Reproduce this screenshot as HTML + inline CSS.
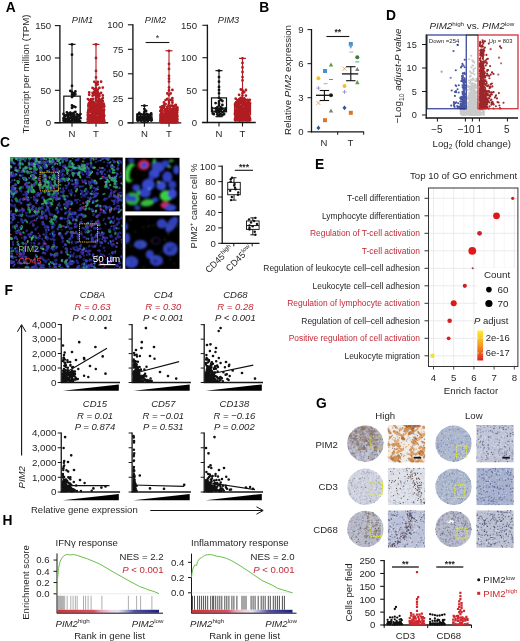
<!DOCTYPE html>
<html><head><meta charset="utf-8"><title>Figure</title>
<style>html,body{margin:0;padding:0;background:#fff;} svg{display:block;} text{font-family:"Liberation Sans", Arial, sans-serif;}</style>
</head><body>
<svg width="520" height="641" viewBox="0 0 520 641" fill="#231f20">
<rect width="520" height="641" fill="#fff"/>
<text x="5.80" y="12.30" font-size="13.8" font-weight="bold" fill="#000">A</text>
<line x1="59.90" y1="25.00" x2="59.90" y2="123.30" stroke="#161616" stroke-width="1.35"/>
<line x1="54.40" y1="122.70" x2="108.20" y2="122.70" stroke="#161616" stroke-width="1.35"/>
<line x1="54.90" y1="122.70" x2="59.90" y2="122.70" stroke="#161616" stroke-width="1.1"/>
<text x="51.20" y="126.10" font-size="9.6" text-anchor="end">0</text>
<line x1="54.90" y1="90.33" x2="59.90" y2="90.33" stroke="#161616" stroke-width="1.1"/>
<text x="51.20" y="93.73" font-size="9.6" text-anchor="end">50</text>
<line x1="54.90" y1="57.97" x2="59.90" y2="57.97" stroke="#161616" stroke-width="1.1"/>
<text x="51.20" y="61.37" font-size="9.6" text-anchor="end">100</text>
<line x1="54.90" y1="25.60" x2="59.90" y2="25.60" stroke="#161616" stroke-width="1.1"/>
<text x="51.20" y="29.00" font-size="9.6" text-anchor="end">150</text>
<text x="82.50" y="23.30" font-size="9.2" font-style="italic" text-anchor="middle">PIM1</text>
<line x1="72.00" y1="122.70" x2="72.00" y2="126.70" stroke="#161616" stroke-width="1.1"/>
<line x1="96.00" y1="122.70" x2="96.00" y2="126.70" stroke="#161616" stroke-width="1.1"/>
<text x="72.00" y="137.20" font-size="9.6" text-anchor="middle">N</text>
<text x="96.00" y="137.20" font-size="9.6" text-anchor="middle">T</text>
<line x1="72.00" y1="44.37" x2="72.00" y2="122.05" stroke="#111" stroke-width="1.1"/>
<line x1="68.50" y1="44.37" x2="75.50" y2="44.37" stroke="#111" stroke-width="1.2"/>
<line x1="68.50" y1="122.05" x2="75.50" y2="122.05" stroke="#111" stroke-width="1.2"/>
<rect x="63.80" y="96.16" width="16.40" height="22.01" fill="#fff" stroke="#111" stroke-width="1.2"/>
<line x1="63.80" y1="114.93" x2="80.20" y2="114.93" stroke="#111" stroke-width="1.1"/>
<path d="M72 121.7h0M75.4 121.6h0M68.6 121.5h0M78.8 121.5h0M65.2 121.4h0M76.1 121.4h0M80.1 121.3h0M71.9 121.2h0M70 120.9h0M71.6 120.9h0M75.1 120.9h0M76.5 120.7h0M66.9 120.6h0M63.5 120.6h0M74 120.3h0M74.4 120.1h0M64.8 119.9h0M66 119.7h0M68.6 119.3h0M78.8 119.2h0M67.8 119.1h0M76.1 119.1h0M72 119h0M68.7 118.9h0M63.5 118.5h0M73.2 118.4h0M80.5 118.2h0M63.7 118h0M64.5 117.9h0M70.3 117.9h0M68.1 117.8h0M74.9 117.7h0M77.1 117.1h0M75.3 117h0M72 116.8h0M75 116.7h0M68.4 116.5h0M72.3 116.4h0M71.4 116.4h0M71.4 116.4h0M78.8 116h0M65.2 115.8h0M65.5 115.7h0M78.7 115.4h0M66.9 115.3h0M73.7 115h0M70.3 114.7h0M77.1 114.3h0M80.5 114.1h0M63.5 114h0M72 113.7h0M68.6 113.6h0M73.7 112.9h0M70.3 112.6h0M66.9 112.5h0M75.4 112h0M72 107.9h0M75.4 107.1h0M73.7 106.3h0M72 105.4h0M72 97h0M73.7 95.6h0M72 94.4h0M75.4 94.3h0M73.7 93.3h0M72 91.9h0M75.4 91.5h0M70.3 90.9h0M72 85.8h0M72 54.7h0M72 44.4h0" stroke="#111" stroke-width="2.8" stroke-linecap="round"/>
<line x1="96.00" y1="44.37" x2="96.00" y2="122.38" stroke="#b01c22" stroke-width="1.1"/>
<line x1="92.50" y1="44.37" x2="99.50" y2="44.37" stroke="#b01c22" stroke-width="1.2"/>
<line x1="92.50" y1="122.38" x2="99.50" y2="122.38" stroke="#b01c22" stroke-width="1.2"/>
<rect x="88.00" y="103.28" width="16.00" height="14.24" fill="#fff" stroke="#b01c22" stroke-width="1.2"/>
<line x1="88.00" y1="112.34" x2="104.00" y2="112.34" stroke="#b01c22" stroke-width="1.1"/>
<path d="M96 122.5h0M99.4 122.5h0M92.6 122.5h0M102.8 122.5h0M89.2 122.5h0M103.9 122.5h0M103.2 122.4h0M88 122.4h0M95.3 122.3h0M101.3 122.3h0M103.8 122.3h0M95.2 122.3h0M92.2 122.3h0M91.2 122.3h0M103.4 122.3h0M91.2 122.3h0M97.4 122.2h0M90.1 122.2h0M96.4 122.2h0M103.5 122.2h0M89.9 122.1h0M101.3 122.1h0M96.1 122.1h0M102.4 122h0M99.4 122h0M91.5 122h0M102.6 122h0M95.8 121.9h0M88.1 121.9h0M87.8 121.9h0M95.9 121.9h0M95.2 121.9h0M92.7 121.8h0M90 121.8h0M93.4 121.8h0M92.9 121.8h0M101.6 121.8h0M87.7 121.8h0M100.2 121.8h0M101.6 121.8h0M89.7 121.7h0M103.1 121.7h0M99.5 121.6h0M102.7 121.6h0M92.5 121.6h0M93.9 121.6h0M94.2 121.6h0M104.3 121.5h0M97.5 121.5h0M93.7 121.4h0M94.8 121.4h0M92.3 121.4h0M88.5 121.4h0M89.4 121.4h0M101.6 121.4h0M92.4 121.3h0M103.2 121.2h0M91.8 121.2h0M92.1 121.2h0M96.2 121.2h0M90.9 121.2h0M93.9 121.2h0M103.6 121.2h0M102.4 121.1h0M101.2 121.1h0M98.2 121.1h0M102.9 121.1h0M103.3 121h0M96.8 121h0M99.6 121h0M88.5 121h0M99.9 120.9h0M95.2 120.9h0M100.2 120.9h0M98.4 120.9h0M92.5 120.9h0M88.5 120.9h0M103.1 120.9h0M89.8 120.8h0M95.5 120.8h0M93.4 120.8h0M92.6 120.8h0M100 120.8h0M103.9 120.8h0M92 120.7h0M98.6 120.7h0M92.7 120.7h0M97 120.7h0M94.2 120.6h0M90.5 120.6h0M90.4 120.6h0M91.2 120.5h0M102.7 120.5h0M96 120.4h0M91.4 120.4h0M102.7 120.3h0M104.2 120.3h0M95.2 120.3h0M90 120.3h0M90.9 120.2h0M89.2 120.2h0M93.4 120.1h0M89.2 120.1h0M91.7 120.1h0M92 120h0M97.2 120h0M102.4 120h0M100.1 119.9h0M94.6 119.9h0M94.6 119.9h0M96.4 119.9h0M94 119.8h0M93.3 119.8h0M88.7 119.8h0M92.3 119.8h0M103.8 119.7h0M89.8 119.7h0M96.1 119.7h0M98.2 119.7h0M102 119.7h0M91.3 119.7h0M92.2 119.6h0M91.8 119.6h0M94.3 119.6h0M95.1 119.6h0M103.5 119.6h0M101.8 119.6h0M102.2 119.5h0M88.1 119.5h0M88.2 119.5h0M99.5 119.5h0M102.6 119.5h0M95.6 119.5h0M97.4 119.5h0M87.7 119.4h0M94.2 119.4h0M103.1 119.3h0M101.4 119.3h0M101.9 119.3h0M103.8 119.3h0M91.8 119.2h0M89.5 119.1h0M90.3 119.1h0M96.4 119h0M99 119h0M103.3 118.9h0M99.7 118.9h0M98.4 118.8h0M100.4 118.7h0M95.3 118.7h0M96.9 118.6h0M88.4 118.6h0M100.7 118.6h0M91.6 118.5h0M103 118.5h0M98.4 118.5h0M92.7 118.4h0M89.8 118.4h0M91.9 118.4h0M98.3 118.4h0M99.3 118.4h0M89.6 118.3h0M88.9 118.3h0M96.4 118.2h0M97.4 118.2h0M94.1 118.2h0M91.4 118.2h0M97.7 118.1h0M87.9 118.1h0M92.7 118.1h0M95.3 118.1h0M103.6 118h0M98.4 117.8h0M102.4 117.8h0M95.6 117.7h0M91.6 117.7h0M91.8 117.7h0M103.6 117.7h0M99.4 117.6h0M92.8 117.6h0M88.1 117.6h0M96 117.6h0M98.9 117.5h0M94.7 117.5h0M92 117.3h0M98.8 117.2h0M103.1 117.2h0M91.5 117.2h0M88.3 117.2h0M93.3 117.1h0M94.7 117h0M99 117h0M91 117h0M100.9 116.9h0M100 116.9h0M96.1 116.8h0M91.1 116.8h0M103.8 116.8h0M92.9 116.7h0M101.3 116.7h0M91.5 116.7h0M91.4 116.6h0M100.3 116.6h0M92.6 116.5h0M103.5 116.5h0M95.9 116.4h0M90.8 116.3h0M91.4 116.3h0M94.6 116.3h0M98.7 116.3h0M103.4 116.2h0M90.1 116.2h0M94.2 116.2h0M91.2 116.1h0M103.9 116.1h0M90.1 116h0M88.6 116h0M88.7 115.9h0M94.2 115.8h0M102.6 115.7h0M102.4 115.7h0M99.9 115.7h0M104.3 115.7h0M103.2 115.7h0M93.2 115.7h0M90.8 115.6h0M103.2 115.6h0M100.1 115.5h0M88.2 115.5h0M98.7 115.5h0M94 115.5h0M93.9 115.4h0M93.2 115.4h0M90.5 115.3h0M87.7 115.3h0M92.3 115.2h0M93.5 115.2h0M103.6 115.2h0M89.8 115.2h0M103.7 115.2h0M91.1 115.1h0M93.6 115.1h0M101.3 115.1h0M101.3 115.1h0M94.9 114.9h0M88.5 114.8h0M95.6 114.8h0M93.9 114.8h0M103 114.7h0M90.9 114.7h0M93.7 114.7h0M102.6 114.6h0M88.2 114.6h0M94.5 114.6h0M101.2 114.5h0M100.4 114.5h0M88.4 114.5h0M88.3 114.4h0M88.7 114.3h0M103 114h0M92 114h0M100.1 114h0M102.6 113.9h0M97.7 113.9h0M93.3 113.3h0M92.2 113.3h0M103.6 113.2h0M97.9 113h0M92.1 113h0M99.6 113h0M96 112.9h0M93 112.9h0M92.3 112.7h0M87.8 112.7h0M100.2 112.7h0M102.9 112.5h0M98.2 112.4h0M103.4 112.3h0M88.1 112.2h0M91.6 112.1h0M95.6 112.1h0M103.6 112.1h0M103.5 112h0M94.1 112h0M91.9 111.9h0M94.8 111.8h0M95.9 111.8h0M103.1 111.7h0M90.7 111.6h0M101 111.4h0M100 111.4h0M101.4 111.2h0M100.5 111.2h0M97.8 111.1h0M93.1 111.1h0M93 111h0M93.7 111h0M100.7 110.9h0M89 110.8h0M91 110.8h0M100.2 110.8h0M91.8 110.6h0M88.8 110.3h0M88.3 110.3h0M96.9 110.1h0M93.1 110h0M104 110h0M102.4 110h0M104.1 109.8h0M92.1 109.7h0M89.1 109.7h0M89.3 109.5h0M96 109.4h0M99.5 109.4h0M95.1 109.1h0M91.6 109h0M94.6 109h0M98 108.7h0M98.9 108.6h0M101.1 108.3h0M100.1 108.2h0M101.8 108.1h0M98.7 107.8h0M89.7 107.8h0M101.7 107.8h0M92.6 107.7h0M97.1 107.6h0M93.9 107.6h0M100 107.4h0M91 107.4h0M91.8 107h0M91.8 107h0M90.2 106.9h0M102.4 106.9h0M97.3 106.8h0M93.1 106.8h0M94.3 106.6h0M104.2 106.6h0M96.1 106.6h0M91.5 106.3h0M101.1 106.3h0M98.5 105.9h0M104.1 105.9h0M89.4 105.9h0M95.6 105.9h0M101.3 105.8h0M101.7 105.5h0M102.9 105.5h0M88.4 105.5h0M92.6 105.4h0M89.7 105.2h0M90.8 105.2h0M103.9 105h0M97.4 105h0M103.1 105h0M93.9 105h0M102.1 104.7h0M95.2 104.7h0M92 104.6h0M99.4 104.2h0M100.6 103.9h0M103.4 103.7h0M89.2 103.2h0M89.5 103.2h0M97.7 103.1h0M94.3 102.7h0M97.6 102.6h0M98 102.6h0M91.3 102.4h0M93.8 102.4h0M90 102.2h0M101.1 102h0M91.1 101.7h0M91.9 101.6h0M97.7 101.6h0M102.8 100.9h0M99.4 100.8h0M96 100.4h0M89.2 100.2h0M98.5 100.1h0M92.6 99.7h0M101.1 99.7h0M91.1 99.1h0M87.9 99.1h0M93.1 99h0M99 98.9h0M96 98.3h0M102.8 98.1h0M97.7 97.1h0M96 96.2h0M99.4 96h0M92.6 95.7h0M102.8 95.5h0M97.7 94.9h0M89.2 94.8h0M94.3 94.6h0M99.4 94h0M96 93.2h0M92.6 92.9h0M101.1 92.8h0M89.2 92.4h0M97.7 92.1h0M94.3 91.8h0M96 90.8h0M97.7 89.8h0M94.3 89.2h0M96 88.2h0M99.4 87.9h0M92.6 87.9h0M102.8 87.6h0M96 85.2h0M97.7 84.4h0M96 83.3h0M97.7 81.9h0M94.3 81.8h0M101.1 81.7h0M96 77.4h0M96 70.9h0M96 58h0M96 44.4h0" stroke="#b01c22" stroke-width="2.8" stroke-linecap="round"/>
<line x1="132.90" y1="24.20" x2="132.90" y2="123.40" stroke="#161616" stroke-width="1.35"/>
<line x1="127.40" y1="122.80" x2="181.30" y2="122.80" stroke="#161616" stroke-width="1.35"/>
<line x1="127.90" y1="122.80" x2="132.90" y2="122.80" stroke="#161616" stroke-width="1.1"/>
<text x="123.30" y="126.20" font-size="9.6" text-anchor="end">0</text>
<line x1="127.90" y1="98.30" x2="132.90" y2="98.30" stroke="#161616" stroke-width="1.1"/>
<text x="123.30" y="101.70" font-size="9.6" text-anchor="end">25</text>
<line x1="127.90" y1="73.80" x2="132.90" y2="73.80" stroke="#161616" stroke-width="1.1"/>
<text x="123.30" y="77.20" font-size="9.6" text-anchor="end">50</text>
<line x1="127.90" y1="49.30" x2="132.90" y2="49.30" stroke="#161616" stroke-width="1.1"/>
<text x="123.30" y="52.70" font-size="9.6" text-anchor="end">75</text>
<line x1="127.90" y1="24.80" x2="132.90" y2="24.80" stroke="#161616" stroke-width="1.1"/>
<text x="123.30" y="28.20" font-size="9.6" text-anchor="end">100</text>
<text x="155.50" y="23.30" font-size="9.2" font-style="italic" text-anchor="middle">PIM2</text>
<line x1="144.40" y1="122.80" x2="144.40" y2="126.80" stroke="#161616" stroke-width="1.1"/>
<line x1="169.00" y1="122.80" x2="169.00" y2="126.80" stroke="#161616" stroke-width="1.1"/>
<text x="144.40" y="137.20" font-size="9.6" text-anchor="middle">N</text>
<text x="169.00" y="137.20" font-size="9.6" text-anchor="middle">T</text>
<line x1="144.40" y1="105.65" x2="144.40" y2="122.31" stroke="#111" stroke-width="1.1"/>
<line x1="140.90" y1="105.65" x2="147.90" y2="105.65" stroke="#111" stroke-width="1.2"/>
<line x1="140.90" y1="122.31" x2="147.90" y2="122.31" stroke="#111" stroke-width="1.2"/>
<rect x="136.90" y="114.57" width="15.00" height="5.49" fill="#fff" stroke="#111" stroke-width="1.2"/>
<line x1="136.90" y1="117.90" x2="151.90" y2="117.90" stroke="#111" stroke-width="1.1"/>
<path d="M144.4 121.3h0M147.8 121.2h0M141 120.8h0M151.2 120.6h0M137.6 120.6h0M151.3 120.5h0M138.4 120.5h0M146.1 120.2h0M142.7 120.1h0M151.7 120h0M148.8 119.9h0M147.9 119.8h0M143.4 119.7h0M139.8 119.7h0M146.5 119.1h0M138.5 119.1h0M140 118.9h0M142.7 118.9h0M137.4 118.9h0M142.9 118.5h0M148.8 118.5h0M147.3 118.4h0M144.4 118.2h0M151.2 118.1h0M146.4 118.1h0M143.8 118.1h0M139 118h0M146 117.7h0M143 117.5h0M148 117.4h0M141 117.2h0M150.5 117h0M143.4 117h0M145.5 117h0M148.1 116.9h0M137.6 116.5h0M143.2 116.3h0M140.3 116.3h0M147.7 115.9h0M150.1 115.6h0M148.5 115.1h0M147.4 115h0M149.7 114.9h0M144.4 114.6h0M141 114.4h0M137.6 114.3h0M147.1 114.2h0M146.5 114.1h0M143.7 113.9h0M151.2 113.5h0M139.3 113h0M144.4 112h0M146.1 111h0M144.4 109.1h0M144.4 105.7h0" stroke="#111" stroke-width="2.8" stroke-linecap="round"/>
<line x1="169.00" y1="50.77" x2="169.00" y2="122.51" stroke="#b01c22" stroke-width="1.1"/>
<line x1="165.50" y1="50.77" x2="172.50" y2="50.77" stroke="#b01c22" stroke-width="1.2"/>
<line x1="165.50" y1="122.51" x2="172.50" y2="122.51" stroke="#b01c22" stroke-width="1.2"/>
<rect x="161.00" y="111.04" width="16.00" height="8.82" fill="#fff" stroke="#b01c22" stroke-width="1.2"/>
<line x1="161.00" y1="115.94" x2="177.00" y2="115.94" stroke="#b01c22" stroke-width="1.1"/>
<path d="M169 122.5h0M172.4 122.5h0M165.6 122.5h0M175.8 122.5h0M162.2 122.5h0M165.7 122.4h0M171.2 122.4h0M162 122.4h0M167.6 122.4h0M173.9 122.4h0M172.7 122.4h0M171.3 122.4h0M164.7 122.3h0M167.7 122.3h0M168.2 122.3h0M171.1 122.3h0M167.4 122.3h0M172 122.3h0M176.5 122.3h0M163.5 122.3h0M171.7 122.3h0M173.8 122.3h0M167.1 122.3h0M168.8 122.2h0M177.3 122.2h0M161 122.2h0M169.8 122.2h0M163.1 122.2h0M173.9 122.2h0M176.7 122.1h0M169.3 122.1h0M162.1 122.1h0M170.3 122h0M169.7 122h0M172.8 122h0M169.2 122h0M171.4 121.9h0M174.7 121.9h0M169.4 121.9h0M167.4 121.9h0M176.8 121.9h0M164 121.9h0M172.2 121.9h0M167.1 121.9h0M173.6 121.8h0M162.4 121.8h0M177.4 121.8h0M166.5 121.8h0M161.3 121.8h0M165.1 121.8h0M167.3 121.8h0M160.5 121.8h0M167.6 121.7h0M167.6 121.7h0M172.4 121.7h0M166.4 121.7h0M164.9 121.7h0M164.2 121.7h0M173.2 121.6h0M176.7 121.6h0M169.5 121.6h0M164.1 121.6h0M174.2 121.6h0M167.1 121.6h0M164 121.6h0M162.5 121.5h0M173.8 121.5h0M174.4 121.5h0M171.3 121.5h0M168.5 121.5h0M170.1 121.5h0M164.2 121.5h0M177.1 121.4h0M166.4 121.4h0M171.4 121.4h0M174.5 121.4h0M174.5 121.4h0M168.4 121.4h0M165.4 121.3h0M169.8 121.3h0M162.5 121.3h0M174.8 121.3h0M166.5 121.3h0M175.1 121.3h0M165 121.2h0M166.8 121.2h0M164.7 121.2h0M167.7 121.2h0M163.5 121.2h0M160.3 121.2h0M172.9 121.2h0M165.2 121.1h0M164.6 121.1h0M165.6 121.1h0M168.6 121.1h0M167.8 121.1h0M171.4 121.1h0M171.8 121.1h0M166.6 121h0M176.5 121h0M175.2 121h0M161.3 121h0M174.7 121h0M176.1 120.9h0M173.9 120.9h0M162.7 120.9h0M174.8 120.9h0M171.3 120.9h0M160.6 120.9h0M160.5 120.9h0M176.9 120.8h0M171.7 120.8h0M164.7 120.8h0M162.1 120.8h0M162.8 120.8h0M164.4 120.7h0M173.8 120.7h0M166.3 120.7h0M163 120.7h0M176 120.7h0M174.1 120.7h0M163.2 120.7h0M175.8 120.7h0M170.9 120.6h0M173.9 120.6h0M171.9 120.5h0M175.9 120.5h0M174 120.4h0M174.9 120.4h0M163.7 120.4h0M172.4 120.3h0M169.5 120.3h0M173.2 120.3h0M167.9 120.2h0M175.7 120.2h0M170 120.2h0M164.9 120.2h0M164.4 120.2h0M162.7 120.2h0M168.9 120.2h0M161.3 120.2h0M168.4 120.1h0M162.8 120h0M168.8 120h0M169 120h0M169.7 120h0M175.3 120h0M160.4 120h0M174.9 119.9h0M168.4 119.9h0M170.1 119.9h0M171.9 119.9h0M174.9 119.9h0M166.8 119.9h0M167.6 119.8h0M177 119.7h0M161.6 119.7h0M171.4 119.7h0M171.4 119.6h0M160.8 119.6h0M170.9 119.6h0M172.2 119.5h0M176.5 119.5h0M166 119.5h0M177.4 119.5h0M169.2 119.4h0M168.7 119.4h0M175.9 119.3h0M160.9 119.3h0M172.8 119.2h0M171.2 119.2h0M166.2 119.2h0M175.3 119.1h0M166.7 119.1h0M168.6 119.1h0M169.4 119.1h0M173.7 119.1h0M164 119.1h0M167.9 119.1h0M167.6 119.1h0M169.9 119h0M174.7 119h0M165.4 118.9h0M174.7 118.9h0M167.3 118.9h0M169.1 118.8h0M165 118.8h0M169.1 118.7h0M177.3 118.7h0M171.7 118.6h0M174.1 118.6h0M166.1 118.5h0M165.8 118.5h0M165.5 118.5h0M170.5 118.5h0M171.3 118.5h0M173.9 118.4h0M161 118.4h0M172.9 118.4h0M175.7 118.4h0M169.8 118.4h0M161.2 118.3h0M165.5 118.3h0M160.4 118.3h0M163.6 118.3h0M176.3 118.2h0M170.9 118.2h0M171.7 118.2h0M174 118.1h0M176.1 118h0M170.9 118h0M171 118h0M171.2 117.8h0M172.4 117.8h0M170.7 117.8h0M172.1 117.7h0M164 117.6h0M171.9 117.6h0M168.3 117.5h0M173.6 117.4h0M162.1 117.4h0M163.5 117.4h0M160.9 117.4h0M173.8 117.4h0M176.2 117.3h0M171.7 117.3h0M166.7 117.3h0M174.6 117.1h0M174 117h0M170.1 116.9h0M164.8 116.8h0M165.6 116.8h0M167.6 116.8h0M165.8 116.8h0M167.8 116.8h0M171.5 116.7h0M176.5 116.7h0M161.3 116.7h0M170.2 116.6h0M161 116.6h0M162.4 116.6h0M174.4 116.6h0M170.3 116.6h0M176.3 116.6h0M168.1 116.6h0M160.5 116.5h0M167 116.5h0M170.6 116.5h0M176.6 116.5h0M177.4 116.4h0M168.6 116.4h0M167.5 116.4h0M162.1 116.3h0M171.5 116.2h0M164 116.1h0M162.9 116.1h0M160.6 116.1h0M160.4 115.8h0M172.2 115.6h0M162.4 115.6h0M177.1 115.5h0M161.8 115.5h0M175.4 115.5h0M162.5 115.5h0M160.6 115.4h0M172.8 115.4h0M164.5 115.3h0M173.1 115.2h0M163.6 115.1h0M161.2 115.1h0M173.8 114.9h0M172.7 114.9h0M175.2 114.8h0M173 114.8h0M161.8 114.7h0M171.2 114.7h0M172.6 114.7h0M169 114.5h0M168.3 114.5h0M176.5 114.5h0M164.7 114.5h0M177.1 114.5h0M172.8 114.4h0M160.5 114.4h0M160.6 114.3h0M171.6 114.2h0M174.5 114.2h0M161.7 114.2h0M165.7 114.2h0M173 114.1h0M163.2 114h0M175.3 114h0M168.8 113.8h0M161.3 113.8h0M166.7 113.7h0M170.3 113.6h0M167.9 113.6h0M172.1 113.5h0M162.8 113.5h0M174.2 113.5h0M166.6 113.4h0M171.5 113.4h0M171.3 113.4h0M167.6 113.4h0M167 113.4h0M174 113.1h0M176.7 113.1h0M174 112.7h0M170.2 112.6h0M165.4 112.6h0M161.4 112.6h0M177.2 112.5h0M172.5 112.4h0M174.7 112.4h0M166.1 112.4h0M170.8 112.3h0M177.3 112.3h0M174.8 112.1h0M170.8 112h0M165.7 111.8h0M167.8 111.7h0M175.8 111.6h0M166.9 111.6h0M172.2 111.6h0M170.8 111.5h0M175.9 111.5h0M174.4 111.4h0M165.2 111.3h0M160.3 111.1h0M164.9 111h0M167.7 110.9h0M162.2 110.6h0M170.5 110.5h0M174.5 110.4h0M177.5 110h0M175.7 110h0M161 109.9h0M174.8 109.8h0M174.4 109.8h0M172.4 109.6h0M175.4 109.6h0M170.3 109.5h0M165.1 109.5h0M175.1 109.2h0M174.3 109.2h0M172.2 109.2h0M176.2 109.1h0M167.3 108.9h0M166.3 108.8h0M161.8 108.7h0M169.9 108.5h0M174.2 108.3h0M163.8 108.1h0M173.4 107.9h0M177.5 107.7h0M160.5 107.2h0M167.3 107h0M176.5 106.8h0M170.7 106.3h0M162.2 106.3h0M164.4 106.2h0M174.1 105.9h0M170.9 105.7h0M172.1 105.6h0M168.4 105.5h0M163.9 105.5h0M175.8 104.8h0M165.6 104.1h0M169 103h0M172.4 102.8h0M163.9 102.5h0M169 100.8h0M172.4 100.7h0M165.6 100.1h0M170.7 99.8h0M167.3 99h0M172.4 98.2h0M169 95.1h0M170.7 93.4h0M167.3 93.4h0M169 90.5h0M172.4 89.9h0M169 87.5h0M169 81.6h0M169 78.7h0M169 75.8h0M169 68.9h0M169 64h0M169 50.8h0" stroke="#b01c22" stroke-width="2.8" stroke-linecap="round"/>
<line x1="145.60" y1="42.50" x2="169.30" y2="42.50" stroke="#161616" stroke-width="1.1"/>
<text x="157.40" y="40.60" font-size="9" text-anchor="middle">*</text>
<line x1="207.40" y1="24.70" x2="207.40" y2="123.10" stroke="#161616" stroke-width="1.35"/>
<line x1="201.90" y1="122.50" x2="255.80" y2="122.50" stroke="#161616" stroke-width="1.35"/>
<line x1="202.40" y1="122.50" x2="207.40" y2="122.50" stroke="#161616" stroke-width="1.1"/>
<text x="197.00" y="125.90" font-size="9.6" text-anchor="end">0</text>
<line x1="202.40" y1="90.10" x2="207.40" y2="90.10" stroke="#161616" stroke-width="1.1"/>
<text x="197.00" y="93.50" font-size="9.6" text-anchor="end">50</text>
<line x1="202.40" y1="57.70" x2="207.40" y2="57.70" stroke="#161616" stroke-width="1.1"/>
<text x="197.00" y="61.10" font-size="9.6" text-anchor="end">100</text>
<line x1="202.40" y1="25.30" x2="207.40" y2="25.30" stroke="#161616" stroke-width="1.1"/>
<text x="197.00" y="28.70" font-size="9.6" text-anchor="end">150</text>
<text x="228.50" y="23.30" font-size="9.2" font-style="italic" text-anchor="middle">PIM3</text>
<line x1="219.00" y1="122.50" x2="219.00" y2="126.50" stroke="#161616" stroke-width="1.1"/>
<line x1="242.50" y1="122.50" x2="242.50" y2="126.50" stroke="#161616" stroke-width="1.1"/>
<text x="219.00" y="137.20" font-size="9.6" text-anchor="middle">N</text>
<text x="242.50" y="137.20" font-size="9.6" text-anchor="middle">T</text>
<line x1="219.00" y1="70.66" x2="219.00" y2="116.67" stroke="#111" stroke-width="1.1"/>
<line x1="215.50" y1="70.66" x2="222.50" y2="70.66" stroke="#111" stroke-width="1.2"/>
<line x1="215.50" y1="116.67" x2="222.50" y2="116.67" stroke="#111" stroke-width="1.2"/>
<rect x="211.50" y="97.88" width="15.00" height="13.93" fill="#fff" stroke="#111" stroke-width="1.2"/>
<line x1="211.50" y1="108.24" x2="226.50" y2="108.24" stroke="#111" stroke-width="1.1"/>
<path d="M219 115.6h0M222.4 115.2h0M217.3 114.6h0M220.7 114.3h0M224.1 114.2h0M213.9 114.2h0M220.2 113.8h0M212.8 113.5h0M217.3 112.5h0M222.4 112.1h0M219 111.6h0M215.6 111.4h0M224.1 111h0M212.2 110.9h0M220.7 110.5h0M217.3 110.4h0M225.3 110.3h0M219 109.2h0M222.4 108.7h0M215.6 108.5h0M225.8 108.3h0M212.2 108.2h0M220.7 107.4h0M217.3 107.3h0M219 105.4h0M222.4 105h0M219 103.4h0M215.6 103.1h0M219 101.3h0M222.4 101h0M220.7 99.7h0M219 97.9h0M219 93.3h0M219 90.1h0M219 86.9h0M219 81.7h0M219 77.1h0M219 70.7h0" stroke="#111" stroke-width="2.8" stroke-linecap="round"/>
<line x1="242.50" y1="58.35" x2="242.50" y2="120.56" stroke="#b01c22" stroke-width="1.1"/>
<line x1="239.00" y1="58.35" x2="246.00" y2="58.35" stroke="#b01c22" stroke-width="1.2"/>
<line x1="239.00" y1="120.56" x2="246.00" y2="120.56" stroke="#b01c22" stroke-width="1.2"/>
<rect x="234.50" y="103.06" width="16.00" height="11.66" fill="#fff" stroke="#b01c22" stroke-width="1.2"/>
<line x1="234.50" y1="110.84" x2="250.50" y2="110.84" stroke="#b01c22" stroke-width="1.1"/>
<path d="M242.5 120.5h0M245.9 120.5h0M239.1 120.5h0M249.3 120.5h0M235.7 120.5h0M239.8 120.5h0M247.7 120.5h0M247.6 120.4h0M249.5 120.4h0M238 120.4h0M241.4 120.4h0M248.7 120.4h0M235.1 120.3h0M235.6 120.3h0M243.5 120.3h0M242.5 120.3h0M248.9 120.3h0M246.7 120.3h0M243.1 120.2h0M250.1 120.2h0M242.8 120.2h0M242.8 120.2h0M245.3 120.2h0M240.8 120.2h0M240.3 120.2h0M243.9 120.2h0M240.2 120.1h0M249.3 120.1h0M245.2 120.1h0M242.9 120.1h0M236.4 120.1h0M240.6 120.1h0M241 120h0M243.4 120h0M243.6 120h0M248.3 120h0M249.6 119.9h0M242.3 119.9h0M241.6 119.9h0M244.4 119.9h0M250 119.9h0M240.1 119.8h0M243 119.8h0M247.3 119.8h0M237.5 119.7h0M239.7 119.7h0M249.8 119.7h0M247.5 119.7h0M242.7 119.7h0M236.6 119.7h0M248.5 119.7h0M245.4 119.7h0M247.4 119.6h0M250 119.6h0M248.4 119.6h0M241.3 119.6h0M237.3 119.6h0M239.3 119.6h0M242.7 119.6h0M242.6 119.6h0M237.8 119.5h0M237.7 119.5h0M244.5 119.5h0M244.1 119.5h0M240.3 119.5h0M250 119.5h0M244.6 119.5h0M235.5 119.4h0M241.2 119.4h0M246.9 119.4h0M239.6 119.4h0M245.4 119.4h0M235 119.4h0M239.5 119.3h0M247.7 119.3h0M243.8 119.3h0M245.1 119.2h0M237.9 119.2h0M242.5 119.2h0M243.3 119.1h0M238.9 119.1h0M244.7 119.1h0M243 119.1h0M250.1 119.1h0M243.6 119.1h0M241.1 119.1h0M236.7 119.1h0M237.3 119h0M246.4 119h0M236.5 118.9h0M236.4 118.9h0M237.5 118.9h0M242.8 118.9h0M247.4 118.9h0M244.2 118.9h0M247.2 118.8h0M235.8 118.8h0M235.1 118.8h0M246.6 118.8h0M239.8 118.7h0M245.8 118.7h0M240.3 118.7h0M237.5 118.7h0M239 118.7h0M236.4 118.6h0M248.6 118.6h0M243.8 118.6h0M240.2 118.6h0M241.7 118.6h0M240.8 118.6h0M235.7 118.5h0M248.4 118.5h0M243.8 118.5h0M249.5 118.5h0M241.6 118.5h0M244.3 118.5h0M238.7 118.4h0M235.6 118.4h0M249 118.4h0M247.9 118.4h0M239.7 118.4h0M248.6 118.3h0M247.3 118.3h0M239.5 118.3h0M244.1 118.3h0M249.5 118.3h0M242.4 118.3h0M249.3 118.2h0M238.6 118.2h0M240.8 118.1h0M245.8 118.1h0M238.3 118h0M239.6 118h0M248.2 118h0M242.3 117.9h0M246.9 117.9h0M238.6 117.9h0M237.5 117.9h0M240.3 117.9h0M237.7 117.9h0M249.7 117.9h0M239.3 117.7h0M243.4 117.7h0M236.6 117.7h0M243 117.6h0M240.8 117.6h0M241 117.6h0M235.9 117.6h0M236.8 117.5h0M247.5 117.4h0M240.2 117.4h0M238.6 117.4h0M237.8 117.4h0M239.2 117.4h0M238.5 117.3h0M235.4 117.3h0M245 117.3h0M240.1 117.3h0M237.3 117.2h0M245.6 117.2h0M236.3 117.2h0M239 117.1h0M247.6 117h0M236.8 117h0M241.6 117h0M247.6 117h0M247.1 116.9h0M237.3 116.9h0M240.3 116.9h0M245.9 116.8h0M240.6 116.8h0M249.5 116.8h0M238.1 116.8h0M249.4 116.7h0M242.6 116.7h0M238.4 116.7h0M241.8 116.7h0M236.9 116.7h0M245.6 116.6h0M238.9 116.6h0M248.6 116.6h0M243.8 116.5h0M240.5 116.5h0M238.6 116.4h0M244.1 116.4h0M238.1 116.4h0M248.2 116.3h0M236.8 116.3h0M242.7 116.2h0M243.1 116.2h0M239 116.2h0M246.6 116.2h0M240.7 116.1h0M244.9 116.1h0M243.5 116.1h0M239.6 116.1h0M240.8 116.1h0M236.2 116.1h0M237.6 116h0M247.8 115.9h0M239.8 115.9h0M245 115.9h0M236.6 115.9h0M243.4 115.8h0M240.4 115.8h0M242.5 115.8h0M239.4 115.8h0M235.9 115.8h0M239.6 115.8h0M238.3 115.7h0M236.8 115.7h0M245.8 115.7h0M239.2 115.7h0M241 115.6h0M248.7 115.6h0M246.7 115.5h0M248.3 115.4h0M248 115.4h0M236.9 115.3h0M239.1 115.3h0M235.3 115.3h0M245.2 115.3h0M245 115.2h0M240.2 115.1h0M241.2 115.1h0M244.9 115.1h0M245.5 115.1h0M238.7 115h0M247.8 115h0M240.3 115h0M244.5 114.9h0M237.7 114.8h0M236.7 114.8h0M248.8 114.8h0M246.1 114.7h0M245.7 114.7h0M235.5 114.7h0M235.5 114.6h0M237.4 114.6h0M237.9 114.5h0M239.5 114.5h0M240.7 114.5h0M235.5 114.4h0M239.6 114.4h0M244.6 114.3h0M237.6 114.3h0M247.7 114.1h0M243.6 114.1h0M245.8 114.1h0M238.8 114.1h0M241.5 113.9h0M245.3 113.9h0M240.2 113.8h0M234.9 113.8h0M247.6 113.7h0M246.7 113.4h0M239.3 113.4h0M235.6 113.3h0M247.9 113.2h0M244.1 113.2h0M235.6 113.2h0M238.6 112.8h0M236.6 112.7h0M246.9 112.6h0M238.1 112.6h0M248.8 112.5h0M246.3 112.5h0M236.2 112.5h0M245.5 112.5h0M240.9 112.5h0M246.3 112.4h0M247.5 112.4h0M239.2 112.4h0M236.3 112.3h0M249.3 112.2h0M241.3 112.2h0M249 112h0M245.4 111.9h0M246.1 111.9h0M247.5 111.9h0M244.4 111.7h0M241.8 111.7h0M235.7 111.5h0M245.5 111.4h0M241.4 111.4h0M242.7 111.3h0M249 111.2h0M236.8 111.1h0M246.5 111h0M235.6 111h0M245.6 110.8h0M247.1 110.8h0M238.9 110.8h0M243.2 110.6h0M249.6 110.6h0M244.6 110.6h0M243.2 110.5h0M238.7 110h0M235.8 109.9h0M240.3 109.8h0M241.2 109.8h0M238 109.7h0M239.6 109.6h0M237 109.6h0M245.6 109.5h0M245.1 109.5h0M238.5 109.4h0M238.6 109.3h0M242.7 109.2h0M241.7 109h0M247.6 109h0M249.1 108.8h0M240.2 108.7h0M239.5 108.7h0M248.3 108.7h0M237.1 108.6h0M243.5 108.6h0M240 108.4h0M247.3 108.3h0M243.2 108.3h0M246.5 107.8h0M237.5 107.7h0M245 107.6h0M244 107.6h0M241.9 107.5h0M246.5 107.5h0M247.5 107.4h0M236.6 107.3h0M239.3 107.3h0M240.4 107.3h0M238 107.3h0M235.8 107.2h0M239.2 107.2h0M237.9 107.2h0M249.3 106.6h0M245.6 106.6h0M241.7 106.3h0M236.6 105.9h0M239.8 105.9h0M247.6 105.5h0M242 105.4h0M240.4 105.3h0M244.2 105h0M237.5 104.9h0M236 104.8h0M235.1 104.7h0M249.3 104.6h0M245.9 103.8h0M239.1 103.8h0M242.5 103.5h0M250 103.4h0M247.6 102.9h0M237.4 102.9h0M244.2 102.6h0M240.8 102.6h0M246.3 102.4h0M236.2 102.2h0M242.5 101.6h0M239.1 101.5h0M249.3 101h0M244.2 100.6h0M240.8 100.3h0M237.4 100.3h0M247.6 100h0M245.8 99.8h0M249.8 99.8h0M242.5 99.2h0M239.1 99.1h0M235.7 98.7h0M244.2 98.4h0M240.8 97.9h0M242.5 95.6h0M245.9 95.6h0M239.1 94.8h0M242.5 93.2h0M244.2 92.2h0M242.5 90.4h0M245.9 90h0M240.8 89.5h0M242.5 80.4h0M242.5 77.1h0M242.5 72h0M242.5 67.4h0M242.5 62.9h0M242.5 58.3h0" stroke="#b01c22" stroke-width="2.8" stroke-linecap="round"/>
<text x="28.90" y="74.00" font-size="9.7" text-anchor="middle" transform="rotate(-90 28.90 74.00)">Transcript per million (TPM)</text>
<text x="259.20" y="12.30" font-size="13.8" font-weight="bold" fill="#000">B</text>
<line x1="311.50" y1="29.00" x2="311.50" y2="132.40" stroke="#161616" stroke-width="1.3"/>
<line x1="310.90" y1="131.80" x2="363.90" y2="131.80" stroke="#161616" stroke-width="1.3"/>
<line x1="307.50" y1="131.80" x2="311.50" y2="131.80" stroke="#161616" stroke-width="1"/>
<text x="303.60" y="135.20" font-size="9.6" text-anchor="end">0</text>
<line x1="307.50" y1="97.73" x2="311.50" y2="97.73" stroke="#161616" stroke-width="1"/>
<text x="303.60" y="101.13" font-size="9.6" text-anchor="end">3</text>
<line x1="307.50" y1="63.67" x2="311.50" y2="63.67" stroke="#161616" stroke-width="1"/>
<text x="303.60" y="67.07" font-size="9.6" text-anchor="end">6</text>
<line x1="307.50" y1="29.60" x2="311.50" y2="29.60" stroke="#161616" stroke-width="1"/>
<text x="303.60" y="33.00" font-size="9.6" text-anchor="end">9</text>
<line x1="337.70" y1="131.80" x2="337.70" y2="134.80" stroke="#161616" stroke-width="1"/>
<line x1="363.70" y1="131.80" x2="363.70" y2="134.80" stroke="#161616" stroke-width="1"/>
<text x="324.00" y="146.00" font-size="9.5" text-anchor="middle">N</text>
<text x="350.50" y="146.00" font-size="9.5" text-anchor="middle">T</text>
<text x="291.20" y="80.00" font-size="9.7" text-anchor="middle" transform="rotate(-90 291.20 80.00)">Relative <tspan font-style="italic">PIM2</tspan> expression</text>
<line x1="326.40" y1="36.50" x2="349.30" y2="36.50" stroke="#161616" stroke-width="1.1"/>
<text x="337.80" y="35.00" font-size="8.5" font-weight="bold" text-anchor="middle">**</text>
<polygon points="318.40,125.50 320.40,127.90 318.40,130.30 316.40,127.90" fill="#2f5597"/>
<rect x="323.00" y="118.20" width="4.00" height="4.00" fill="#d9742f"/>
<polygon points="331.00,108.40 333.20,112.60 328.80,112.60" fill="#7f7f7f"/>
<line x1="316.40" y1="101.00" x2="320.40" y2="105.00" stroke="#d6a56e" stroke-width="0.9"/>
<line x1="316.40" y1="105.00" x2="320.40" y2="101.00" stroke="#d6a56e" stroke-width="0.9"/>
<circle cx="331.00" cy="95.30" r="2.00" fill="#1f3a1a"/>
<line x1="316.40" y1="88.10" x2="320.40" y2="88.10" stroke="#8e8ed6" stroke-width="0.9"/>
<line x1="318.40" y1="86.10" x2="318.40" y2="90.10" stroke="#8e8ed6" stroke-width="0.9"/>
<line x1="323.60" y1="83.70" x2="327.60" y2="83.70" stroke="#b8a8a8" stroke-width="1.0"/>
<circle cx="318.40" cy="78.20" r="2.00" fill="#f2be2d"/>
<line x1="329.00" y1="79.50" x2="333.00" y2="79.50" stroke="#6f87b5" stroke-width="1.0"/>
<rect x="323.00" y="69.00" width="4.00" height="4.00" fill="#4b8fcb"/>
<polygon points="331.00,62.40 333.20,66.60 328.80,66.60" fill="#5f9b3f"/>
<polygon points="344.50,105.40 346.50,107.80 344.50,110.20 342.50,107.80" fill="#2f5597"/>
<rect x="348.80" y="110.80" width="4.00" height="4.00" fill="#d9742f"/>
<line x1="342.50" y1="91.90" x2="346.50" y2="91.90" stroke="#8e8ed6" stroke-width="0.9"/>
<line x1="344.50" y1="89.90" x2="344.50" y2="93.90" stroke="#8e8ed6" stroke-width="0.9"/>
<circle cx="344.50" cy="85.90" r="2.00" fill="#f2be2d"/>
<polygon points="357.30,80.10 359.50,84.30 355.10,84.30" fill="#5f9b3f"/>
<line x1="342.50" y1="66.70" x2="346.50" y2="70.70" stroke="#d6a56e" stroke-width="0.9"/>
<line x1="342.50" y1="70.70" x2="346.50" y2="66.70" stroke="#d6a56e" stroke-width="0.9"/>
<polygon points="357.30,66.90 359.50,71.10 355.10,71.10" fill="#7f7f7f"/>
<line x1="355.30" y1="61.90" x2="359.30" y2="61.90" stroke="#4f9fa0" stroke-width="1.0"/>
<circle cx="357.30" cy="57.20" r="2.00" fill="#3d7a3a"/>
<line x1="349.30" y1="52.10" x2="353.30" y2="52.10" stroke="#b8a8a8" stroke-width="1.0"/>
<rect x="348.80" y="42.00" width="4.00" height="4.00" fill="#4b8fcb"/>
<polygon points="348.60,44.70 353.00,44.70 350.80,48.90" fill="#5aa5dd"/>
<line x1="316.00" y1="95.30" x2="332.40" y2="95.30" stroke="#111" stroke-width="1.3"/>
<line x1="324.40" y1="90.50" x2="324.40" y2="100.50" stroke="#111" stroke-width="1.1"/>
<line x1="319.70" y1="90.50" x2="329.10" y2="90.50" stroke="#111" stroke-width="1.1"/>
<line x1="319.70" y1="100.50" x2="329.10" y2="100.50" stroke="#111" stroke-width="1.1"/>
<line x1="341.90" y1="73.90" x2="358.20" y2="73.90" stroke="#111" stroke-width="1.3"/>
<line x1="350.80" y1="66.70" x2="350.80" y2="80.70" stroke="#111" stroke-width="1.1"/>
<line x1="346.10" y1="66.70" x2="355.50" y2="66.70" stroke="#111" stroke-width="1.1"/>
<line x1="346.10" y1="80.70" x2="355.50" y2="80.70" stroke="#111" stroke-width="1.1"/>
<text x="386.00" y="19.60" font-size="13.8" font-weight="bold" fill="#000">D</text>
<path d="M476.3 80.9h0M472 114.9h0M476.5 110.1h0M472 113.1h0M472.1 73.2h0M469.3 109.1h0M471 106.2h0M474.3 102.2h0M473.7 109.5h0M470.9 108.9h0M471.9 114.1h0M475.8 104h0M473.8 104.1h0M473.9 89.8h0M468.3 98.5h0M464.7 112.3h0M471.6 111h0M470.7 108.6h0M474.1 95.1h0M473.5 112.7h0M472.8 112.3h0M473.5 96.3h0M471.6 109.5h0M467.7 113.4h0M473.1 104.4h0M473 110.9h0M470.9 114.1h0M473.9 110.7h0M462.4 111.4h0M466 112.3h0M483.3 113.4h0M462.1 114.9h0M473 96.6h0M463.2 112h0M469.1 106.9h0M471.5 108.8h0M470.6 108.4h0M482 113.9h0M474 113.2h0M471.6 108.7h0M470 114.2h0M474.9 95.3h0M470.8 108.1h0M469.9 76.6h0M471.2 55.7h0M472.9 113.6h0M473.2 106.6h0M470 101.9h0M471.2 105.8h0M472.4 113.2h0M472.3 114.5h0M473.9 109.3h0M473.8 79.6h0M461 113.6h0M472.4 108h0M470.5 112.8h0M471.3 113.1h0M472.9 111.4h0M472.6 100.6h0M466.6 85.7h0M471.7 94.7h0M471.5 113.9h0M483.7 110.7h0M476.1 91.5h0M472.1 93.8h0M483.8 111h0M474.7 110.8h0M482.8 111.6h0M469 110.7h0M471.8 103h0M473 105h0M469.2 111.7h0M469.7 93.7h0M475.3 99.3h0M476.2 114.2h0M475 100.9h0M464.7 114.4h0M472.3 102.3h0M476.7 114h0M470.8 114.5h0M474.4 112.2h0M475.1 68.3h0M472.6 105.6h0M469.9 115h0M473.1 101.4h0M469.9 104.3h0M470 112.4h0M476.2 111.4h0M475.2 105.6h0M476.9 114.4h0M471.5 105.2h0M469.4 101.2h0M475.6 107.2h0M480.4 108.9h0M469.1 111.1h0M473.5 113.8h0M474.3 107.4h0M473.1 109.2h0M472.4 60.4h0M473.3 113h0M470.2 109.4h0M471.4 103h0M471.3 92.2h0M471.8 109.1h0M473.6 110.7h0M476.5 114.7h0M471 90.3h0M472.3 111h0M460.6 109.8h0M471.7 106.1h0M470.7 98.6h0M473.1 106.5h0M473.6 110.2h0M483.3 113.7h0M474.5 114.9h0M475.1 106h0M484.3 112.2h0M478.5 114.4h0M482.6 111.6h0M469.5 95.1h0M474.5 95.3h0M473.1 65.7h0M475.5 110.4h0M471.9 113.4h0M470.7 109.5h0M473 73.3h0M470.1 113.9h0M480.2 113.6h0M469.7 107.5h0M469.4 92.7h0M469.6 108.8h0M473.6 95.6h0M470.6 110.2h0M475.4 114h0M474.3 108.9h0M480.2 110h0M472.3 97.4h0M471.9 110.2h0M478 111.9h0M478.4 113.3h0M471 109.2h0M470.9 113.9h0M473.2 87.6h0M474.9 95.7h0M481.9 113.6h0M474.2 112.3h0M470.2 92h0M472.1 111.1h0M472.5 65.2h0M472.5 111.2h0M463.4 109.1h0M472.4 95.3h0M461.8 114.5h0M465.7 110.9h0M473.7 106h0M474 104.7h0M475.2 92.9h0M471.4 113h0M476.3 111.5h0M470 102.3h0M472 108h0M471.9 113.5h0M464 114.2h0M482.2 109.9h0M472.9 114.3h0M469.3 93.6h0M469.1 109.1h0M467.7 112.5h0M478.2 111.6h0M473 103.9h0M472.8 110.8h0M473.9 104.7h0M471.3 104.7h0M474.1 111.8h0M471.5 84.4h0M466 112.4h0M465.5 113.4h0M463.9 114.4h0M477.9 114.5h0M476.1 111.3h0M476.6 110.7h0M474.3 114.4h0M472.3 109.2h0M473.3 113.7h0M475.8 81.1h0M474.6 111h0M469.1 109.5h0M474.3 99.7h0M471.2 100.5h0M473.4 107.8h0M472.2 100.1h0M474.6 107.2h0M470.3 114.6h0M475.2 114h0M470.4 108.9h0M466.8 110.7h0M466.4 113.4h0M475.1 111.1h0M473 108.6h0M477 114.9h0M477.3 109.1h0M473.4 114.9h0M473.9 111.1h0M475 110.1h0M472.4 106.6h0M474.5 102.8h0M469.6 111.4h0M477.7 107h0M468.6 96.2h0M471.8 84.1h0M476.3 110.3h0M466.2 109.3h0M473.1 84.5h0M468.8 113.2h0M471.3 83.7h0M477.3 99.4h0M476 113h0M476.9 113.7h0M471.9 108.8h0M474.5 113.8h0M461.4 114.7h0M475.4 101.4h0M472.9 102.7h0M463.8 110.2h0M472.1 79.8h0M477 111.3h0M467.4 107h0M469.4 101.9h0M469.1 109.1h0M469 114.5h0M467.4 113.2h0M476.4 114.5h0M475.6 110.2h0M470 114.9h0M476 111.9h0M470.7 105h0M466.4 85.3h0M470.4 101.1h0M474.3 113.6h0M473.9 113.2h0M472.8 92.7h0M474.9 109h0M465.1 113.7h0M469.9 111.9h0M470.7 110.4h0M468 102.5h0M482 114h0M468.5 111.8h0M470.1 111.9h0M473.7 115h0M472.9 86.1h0M483.6 110.8h0M470 101.2h0M468.3 113.3h0M472.4 105.1h0M474.6 103.7h0M482.9 111.5h0M475.9 113.9h0M469.6 112.8h0M480.7 114.4h0M474.4 106.6h0M477.8 79.3h0M464.2 114.9h0M472.5 107.4h0M470.2 71.5h0M470 112.6h0M475.2 102.9h0M471.4 111.5h0M466.1 114h0M473.7 111.2h0M473.2 96.3h0M466.4 111.7h0M471.9 96.6h0M473.7 110.6h0M472.5 98h0M473.7 107.9h0M473.5 113.1h0M473.1 110.7h0M470.5 86.4h0M468.9 112.2h0M475.4 112.7h0M472.7 111.6h0M471.6 111.1h0M473.2 100h0M470.6 111.1h0M472.3 95.2h0M474.5 108.6h0M472.2 108.9h0M465.1 110.4h0M474.1 100.2h0M468.2 106.2h0M469.2 114.3h0M471.5 106.1h0M475.6 104.8h0M483 110.5h0M472 114.2h0M480.9 114.3h0M466.1 112.8h0M475.2 93.8h0M470.5 81.6h0M472.6 101h0M473.7 111.1h0M472.6 109.9h0M476.1 114.7h0M466.8 110.2h0M474.1 90h0M474.9 105.9h0M470.7 100.8h0M472.2 105.2h0M461.7 109.4h0M470.2 111.3h0M473.9 113h0M469.2 99.8h0M460.9 111.7h0M470.8 106.9h0M472.9 111.8h0M475.5 113.9h0M474 83.9h0M473.8 94.2h0M480.3 114.8h0M475.4 111.4h0M472.4 113.6h0M477.8 112.9h0M475 108.6h0M472.8 92.4h0M472.4 106.3h0M471.6 99.2h0M468.4 104.7h0M468.8 113h0M483.9 112.7h0M475.9 109.4h0M470.9 96.7h0M473.3 100.2h0M469.7 110.4h0M477.1 111.9h0M476.4 109.6h0M472.5 101.1h0M476.1 111.9h0M472.6 95.2h0M464.4 111.9h0M471.9 101.6h0M467.3 112.7h0M467 110.3h0M466.5 112.8h0M475.4 110.7h0M474 92.2h0M467.6 97.7h0M472.2 112.8h0M476.3 85.4h0M475 111.9h0M468 111.2h0M472.3 79.9h0M471.9 104.2h0M474 109.1h0M463 110h0M474 104.9h0M468.8 97h0M474.1 109.9h0M471 105.1h0M466.1 114.8h0M482.9 112.5h0M473 109.4h0M469.1 114.3h0M473.4 89.4h0M472.6 103.6h0M474.4 114.3h0M472.9 104.9h0M482.5 112.2h0M469.9 102.1h0M465.9 109.1h0M472.9 92.3h0M470.1 109.9h0M477.9 109.8h0M472.2 114.5h0M467.5 108.6h0M471 107.5h0M469.1 112.1h0M472.7 109.2h0M471.8 109.9h0M467.7 114.6h0M470.1 101.1h0M473.5 114.9h0M473.3 97.9h0M470.9 103.8h0M482.6 111.1h0M472.9 111.9h0M471.4 113.4h0M473.3 98.4h0M470 71.6h0M470.3 107.4h0M473.4 114.5h0M472.3 102.8h0M467.3 109.9h0M474.2 111.3h0M473 105.1h0M470.4 93.2h0M472 109.9h0M469.5 106.2h0M469.2 109.8h0M469.2 113.2h0M471.1 105.8h0M462.2 110.5h0M469.1 112.7h0M468.3 110.3h0M478.3 80.7h0M474 112.8h0M471.9 98h0M468.8 103.5h0M471.7 110h0M471.1 101.7h0M473 78.2h0M463 114.9h0M472.7 100.7h0M464 110.1h0M470.1 89.7h0M474.1 107.8h0M472.9 84.2h0M470.3 114h0M473.9 93.6h0M470.4 109.7h0M474.5 99.1h0M460.8 109.2h0M470.6 111.4h0M471.5 114.3h0M470.9 114.3h0M471.1 106.6h0M478.8 115h0M472.6 85.8h0M472 113.2h0M474.6 109.4h0M472.9 106.5h0M472.8 107.3h0M470.2 106.6h0M471.5 87.9h0M474 105.9h0M471.9 114.6h0M472.3 108.9h0M470 95.4h0M471.4 107.5h0M483 111.8h0M473.1 113.1h0M472.4 104.4h0M471.4 106.2h0M471.4 106.8h0M469.2 110.6h0M481.6 109.4h0M471.9 114.3h0M472.2 110.6h0M483.7 111.7h0M469.7 104.3h0M480.1 111.3h0M469.8 111.9h0M468.7 110.2h0M474.2 109.1h0M472.3 101.4h0M476.3 109.9h0M472.4 107.6h0M468.2 103.1h0M483.9 112.1h0M463.3 113.5h0M472.9 109.3h0M465.2 110.3h0M470.9 112.4h0M474.4 105.3h0M460.7 113.8h0M476.9 112.3h0M468.9 95.8h0M471.2 105.4h0M471.8 100.3h0M474.8 113.4h0M482.7 112.9h0M471 110.7h0M476 113.7h0M473.8 113.5h0M472.9 113.8h0M472.8 110.2h0M472 108.5h0M481.1 113.7h0M474 101.2h0M476.8 110.8h0M474.4 104.5h0M470.3 113.6h0M474.6 74.5h0M461.2 110.8h0M469.1 102.5h0M465.6 113.4h0M464.4 109.9h0M468.7 110.9h0M478.3 111.1h0M473.5 95.3h0M474.8 98.9h0M473.6 113.4h0M468.1 112.4h0M471.6 113.9h0M474.4 114.8h0M469 98h0M470.7 76.3h0M461 112.7h0M473.4 112h0M475.3 111.2h0M462.6 113.7h0M474.8 108.2h0M473.8 108.1h0M481.2 109.1h0M477.1 102.9h0M473.8 110.5h0M470.2 109.5h0M477.8 114.4h0M470.1 110.9h0M477.6 114.8h0M471 92.6h0M473.1 94.1h0M480.7 109.7h0M471.9 93.5h0M474.5 89.9h0M476.6 102.6h0M474.5 113.7h0M477.1 92.4h0M475.5 105h0M468.9 105.9h0M470 109.5h0M476.2 111.6h0M472.8 99.7h0M475.7 112.8h0M469.1 114.1h0M473.5 110.1h0M472.2 111.6h0M475.4 102.7h0M471.7 91.1h0M474.2 105.7h0M470 110.7h0M460.5 111.3h0M472.4 105.3h0M472.7 101.1h0M468.5 85.8h0M473.9 90.5h0M475 84.2h0M466.2 114h0M471.3 97.9h0M471.8 88.6h0M468.4 114.8h0M474.4 103.2h0M470.1 114.9h0M478.1 111.7h0M470.5 111.9h0M479.4 111.7h0M475.1 91.3h0M465.8 114.6h0M465.9 111.3h0M473.5 113.2h0M465.7 114.8h0M473.4 101h0M470.8 92.2h0M467.9 112.4h0M471.8 114.2h0M483.5 114h0M472.4 94.6h0M472.4 98.4h0M470.3 112.3h0M470.7 109.2h0M478.3 110.4h0M463.2 109.3h0M469.6 83.1h0M483.6 114.1h0M471.6 105.6h0M469.9 114.4h0M472 96h0M470.2 101.3h0M475.2 97h0M473.3 110h0M474.2 113h0M466.6 112.2h0M469.2 59.3h0M474 114.9h0M471.8 111.7h0M474.2 108.2h0M472.5 112.5h0M472.9 98.1h0M463.3 114.6h0M471.6 103.9h0M470.7 105.7h0M471.8 108.6h0M471.3 109.7h0M472.7 110.5h0M472.6 113.8h0M476.3 105.8h0M475 109.4h0M471.4 102.9h0M470.1 109.9h0M473.2 106.3h0M471.8 96.3h0M476.7 113.5h0M473.2 114.4h0M470.5 80.6h0M476.2 93.6h0M472.4 83.1h0M473.1 79.5h0M475.8 112.1h0M476 110.7h0M471.6 89.9h0M472.3 112.9h0M471.5 95.2h0M473.3 89.2h0M474.3 62.6h0M471.6 96h0M476.5 113.3h0M470.4 112.9h0M476.1 78.8h0M482.4 113.4h0M469.2 97.4h0M478.7 109.9h0M471.4 67.4h0M475.7 92.5h0M472 110.2h0M473.1 109.3h0M475.4 112.1h0M471.4 111.5h0M471.7 112.3h0M473.4 102.7h0M472 113.6h0M472.6 100.1h0M472.8 102.8h0M476.5 110.8h0M471.8 112.5h0M470 98.8h0M473.5 102.4h0M480.9 112.8h0M476.6 113.1h0M468.2 112.5h0M467.7 106.7h0M475.8 111.1h0M479.6 109.5h0M476.7 101.6h0M466.1 112h0M472.8 113.8h0M470.3 97.7h0M473.2 97.6h0M462.2 115h0M473 109.7h0M471.3 73.2h0M462.3 114.7h0M477 113.4h0M471.4 103.4h0M476.2 109.4h0M470.6 111.1h0M472.3 109h0M478.3 108.9h0M470 109.7h0M473.2 93h0M472.3 108.7h0M471.9 113.9h0M471.1 113.5h0M466.4 110.1h0M466.4 114.6h0M474.4 114.1h0M469.3 94.9h0M470.8 113.7h0M471.1 105.2h0M473.3 112.1h0M474.1 112h0M473.8 113.1h0M470.2 112.4h0M469.1 86.7h0M471.7 111.7h0M474.1 114.7h0M466.5 113.2h0M472.6 99.6h0M474.1 110.7h0M469.7 106h0M473.4 108.3h0M468.3 110.2h0M475.3 114.9h0M471.7 108.3h0M472.7 95.4h0M471 108.3h0M474.3 115h0M470.4 103.4h0M470.1 98h0M471.4 114.3h0M471 108.9h0M473.1 97.2h0M470.8 109.6h0M472.6 113.2h0M469.9 112.1h0M474.4 114.7h0M469.5 102.6h0M474.6 105.4h0M474.6 106.1h0M474.2 112h0M476.2 107.6h0M470.9 106.9h0M470.9 107.9h0M468.2 104.1h0M471.6 104.3h0M473.7 61.5h0M478 112.8h0M464.9 110.1h0M469.4 111.4h0M462.3 114.3h0M470.6 113.8h0M471.4 73.1h0M474.1 110.3h0M475.8 109.2h0M471.4 114.9h0M470.4 75.7h0M472.8 90.2h0M472 90.6h0M470.8 108.4h0M466.4 112.5h0M473.4 98.7h0M471.1 110.6h0M470.3 110.1h0M472.6 94.2h0M474.5 109.1h0M476 87.9h0M477.5 109h0M474.1 107.8h0M474.1 96.6h0M471.5 94.6h0M471.6 111.2h0M471.5 100h0M474.4 109.4h0M471.6 92.3h0M461.3 114.2h0M474.6 105.5h0M471.1 79.6h0M477.4 98.3h0M463.5 113.6h0M471.3 112.2h0M472.3 114.6h0M474 105.1h0M473 113.6h0M474.3 112.7h0M473 112.7h0M475.6 99.8h0M472.6 114.3h0M478.6 114.1h0M471.2 111.5h0M474.8 111h0M471.6 97.4h0M472.5 101.4h0M473.6 105.7h0M470.4 95h0M473.7 110h0M475.4 112.8h0M476.7 109.8h0M475.4 114.5h0M471.4 110.7h0M475.3 113.7h0M463.6 109.1h0M469.7 94.9h0M482 114.5h0M476.6 114h0M470.2 93.6h0M472.7 114.3h0M476 114.1h0M469.3 93.5h0M470.8 113.2h0M464.8 109.2h0M473.3 109.3h0M470.7 114.3h0M472 107.1h0M470.2 109.1h0M474 96.5h0M470.9 110.7h0M472.2 113.8h0M474.4 109.3h0M469.6 88.8h0M477.9 110.1h0M471.2 104.4h0M461.1 112.1h0M467.3 109.5h0M472.1 105.9h0M473.3 84h0M473 114.8h0M469.4 105.3h0M477.2 113h0M470.2 95.7h0M472.2 107.9h0M470.5 111.8h0M478.7 113.6h0M477.8 113.3h0M469.3 110.9h0M475.5 103.8h0M472.8 100.7h0M469.3 109.5h0M472.3 100.9h0M473.3 112.3h0M478.9 109.6h0M481.2 114.7h0M474.1 113.5h0M473.8 89.2h0M481.6 114.7h0M476 111.5h0M472.7 111.3h0M464.6 110.7h0M471.3 103.7h0M472.9 113h0M477 112.6h0M472.9 111.4h0M473.5 89.9h0M474.3 114.3h0M474.3 112.8h0M475.8 114.5h0M464.8 114.9h0M473.4 114.5h0M469.4 111.4h0M462.3 109.5h0M470.2 114.2h0M470.2 88h0M475.5 103.5h0M476.2 113.9h0M473.6 86.4h0M472.5 114.7h0M473 100.5h0M477.5 99.4h0M473.3 106.9h0M471.7 87.6h0M483.5 111.1h0M469.4 112.1h0M471.4 94.8h0M470.9 112.4h0M480.8 110.1h0M480.3 113.8h0M471.1 110.6h0M460.9 109.8h0M472.3 112.6h0M474.2 106.6h0M469.6 110h0M473.5 107.9h0M470.2 108.9h0M467.7 114.8h0M471.4 109.8h0M476 100.7h0M471.4 113h0M470.9 94.8h0M471.7 112.6h0M478.3 110.4h0M472.9 103.8h0M471 112.5h0M470.6 114.7h0M477.3 99.9h0M471.2 95.8h0M475 113.3h0M467.6 111.1h0M471.4 98.7h0M472.2 85.7h0M467.6 87h0M475.5 98.6h0M471.8 92.2h0M473 108h0M472.8 109.1h0M463.8 113.5h0M472.3 99.8h0M474.1 113.9h0M470 112.3h0M475.8 100.7h0M468.8 80.5h0M473.5 111.8h0M473.6 70.9h0M473.7 107.8h0M472.3 114.5h0M460.6 113.6h0M460.8 113.4h0M476.8 96.1h0M469.2 109.7h0M466.5 99.5h0M474.3 104.5h0M478.1 103.2h0M466.8 106.4h0M473.1 111h0M471.2 107.6h0M471.6 89.8h0M462.7 114.3h0M475.9 108.3h0M470.1 114.1h0M467.9 114.6h0M476.9 109.1h0M468.5 96.9h0M483.3 110.2h0M470.2 109.6h0M475.1 109.6h0M472.8 110h0M474.8 87.6h0M470.9 93.9h0M467.4 107.8h0M473.9 110h0M475.6 86.3h0M475.2 81.2h0M473.4 69.3h0M473.9 89.3h0M474.6 102.5h0M474.7 110.1h0M472.9 113h0M471 90.7h0M469.5 113.3h0M472.8 61.4h0M476.2 109.7h0M468.9 114.4h0M484 114.9h0M469.9 94.4h0M469.7 108.7h0M474.5 114.1h0M474.9 111h0M471 102.8h0M474.3 113.2h0M476.9 99.4h0M474.1 105.6h0M480.7 110.1h0M476.2 110.2h0M471.6 95.6h0M462.8 112.3h0M463 110.2h0M467.8 90h0M481.7 109.4h0M474.1 92.5h0M478.2 114.9h0M475.5 111.6h0M474.1 86.1h0M473 89.8h0M474.8 110.8h0M462.2 113.6h0M472.1 109.1h0M466 112.1h0M483.4 113.8h0M461.7 114.1h0M473.2 110.1h0M468.2 112.5h0M468 109.5h0M468.4 104.4h0M468.4 102.9h0M465.4 110.9h0M472.1 106.5h0M474.7 95.1h0M483.5 109.7h0M462.5 113.4h0M477.5 104.9h0M471.9 93.2h0M474.5 98.4h0M471.9 107.2h0M473.9 107.7h0M464.4 114.4h0M460.7 112.1h0M474.1 112.8h0M470.6 104.7h0M482.7 110.3h0M476.2 111.4h0M472.9 112.2h0M470.1 114.4h0M474.5 112.3h0" stroke="#bdbdbd" stroke-width="2.1" stroke-linecap="round" stroke-opacity="0.8"/>
<path d="M464.5 107.2h0M465 82.2h0M463.3 85.8h0M464.7 104.2h0M464.4 94h0M462.2 79.6h0M464.4 102.7h0M462.7 98.6h0M463.3 80.2h0M464.2 101.7h0M456.3 102.4h0M463.8 107.2h0M458.8 85.2h0M463 104h0M464.7 96.1h0M458.2 103.3h0M463 106h0M462.9 81.5h0M464.8 97.2h0M461 67.4h0M461.9 96.7h0M463.4 88.6h0M462.7 94.3h0M463.3 98.3h0M464.9 81.1h0M464.2 107.1h0M463.5 91.5h0M463.5 65.5h0M463.6 95.9h0M464.3 93.3h0M465 97.8h0M463.8 106.8h0M463.3 82.7h0M463.8 107.2h0M464.8 87.2h0M465 97h0M464.3 106.3h0M461.3 98.2h0M463.1 105.4h0M464.8 102.1h0M457.6 89.3h0M463.5 103.9h0M463.9 103h0M463.2 96.2h0M462.9 106.3h0M456 91h0M464.6 101.6h0M461.8 101.2h0M454.6 106.9h0M465 108h0M464.2 91.3h0M465 98h0M462.8 101.8h0M462.3 103.5h0M462.4 102.5h0M463.3 81.9h0M464.8 107.5h0M464.7 79.3h0M461.4 108.2h0M464 83.7h0M464.6 101.1h0M463.3 86.1h0M464.7 73.9h0M462.6 107.8h0M463.4 105.2h0M461.3 104h0M463.9 106.5h0M454.9 95.9h0M464 82.7h0M462.5 92.7h0M464.9 74h0M464.4 101.7h0M463.1 73.5h0M462.7 101.2h0M464.7 59.7h0M464 104.4h0M464.2 90.4h0M463.3 108.6h0M464.8 102.9h0M462.5 108.1h0M462.8 73.7h0M462.5 91.7h0M464.2 101.3h0M465 106.3h0M464.2 100.4h0M464.3 106.2h0M463.9 107.2h0M460.7 105.4h0M456.2 86.1h0M463.9 96.4h0M463.6 107.7h0M462.4 106.9h0M462.3 98.6h0M463.5 107.4h0M464.9 100.9h0M463.6 86.5h0M464.8 108.6h0M463.3 102.8h0M464.6 106.7h0M462.5 104.7h0M464.2 100.6h0M461.8 107.4h0M464.6 96.1h0M464.4 99.5h0M460.4 101.5h0M463.3 106.2h0M462.8 73.2h0M465 85.5h0M464.7 105.1h0M464.6 94.1h0M455.8 70.2h0M464.7 67.2h0M460.9 99.1h0M464.1 102.1h0M451.7 90.5h0M464.9 103.5h0M462.2 107.8h0M463.9 100.7h0M464.3 105.8h0M455.3 103.1h0M462.4 63.9h0M464.9 105.6h0M462 78.2h0M462.5 85.3h0M465 94.3h0M464.4 99.6h0M464.8 103.6h0M461.8 98.7h0M464.9 94h0M463.3 96.2h0M464.4 72.7h0M462.6 87.3h0M463.6 95.2h0M465 88.1h0M462.9 102.5h0M460.7 97.4h0M463.2 94.7h0M464 82.2h0M463 76h0M463.4 83h0M464.4 89.6h0M464.7 105.7h0M460.6 104.4h0M454.9 92h0M463.7 104.8h0M464.6 100.6h0M464 105.5h0M464.5 106.2h0M460.2 107.2h0M461.3 81h0M461.7 66.2h0M464.7 99.4h0M463.9 91.2h0M464.6 103.6h0M461.8 106.2h0M461.2 104.1h0M463.3 86.1h0M464.5 78.4h0M462.8 104.6h0M462 106.7h0M464.8 105.5h0M464.2 105.3h0M463.9 85.7h0M463.4 103.5h0M463.1 106.7h0M463.8 106.5h0M457.2 106.1h0M451.2 105.6h0M464.9 93.8h0M464.6 90.4h0M463.9 80.9h0M463.3 94.4h0M462.5 105.8h0M464 105.3h0M464.5 105.9h0M464.3 101.6h0M463.3 106.8h0M463.6 107.6h0M464.4 82.5h0M464.9 102.4h0M463.2 103.1h0M464.6 107.4h0M464.7 103.2h0M464.9 88.2h0M464.7 106.2h0M464.5 103.7h0M461.1 106h0M460.2 98.1h0M453.8 104h0M462 97.1h0M464.8 79.7h0M459.6 106.7h0M464.4 92.8h0M464.5 95.6h0M464.1 102.4h0M464.1 93.9h0M463.7 94.8h0M462.9 99.5h0M464 99.9h0M464.3 103.4h0M464.4 103.1h0M460.7 104h0M463.4 88.9h0M461.6 107.9h0M458.7 92.5h0M463.2 91.7h0M454 105.7h0M464.5 84.6h0M455.6 85.2h0M464.7 106.2h0M457.5 108h0M464.1 101h0M464.2 106.7h0M464.5 102.9h0M458.8 106.7h0M463.9 106.4h0M464.3 79h0M463.2 104.1h0M464.4 90.8h0M458.6 107.2h0M464.3 102.8h0M464.6 103.8h0M464 106.9h0M462.9 77.2h0M463.3 88.3h0M464.2 101.1h0M463.9 98.7h0M464.7 97.3h0M464.9 88.5h0M463.6 108.4h0M463.2 99.5h0M460.6 104.1h0M456.1 92.2h0M462.4 97.3h0M462.5 102.3h0M461.9 108.5h0M464.2 106.8h0M462.5 102.6h0M464.6 84.7h0M459.5 107.1h0M464.1 106.6h0M454.2 105.1h0M464.1 91.3h0M462 106.8h0M462 76.1h0M464.1 106.8h0M464.8 98.5h0M453.8 102.1h0M460.2 101.6h0M462.6 105.1h0M462.5 99.8h0M460.4 108.6h0M463.5 95.8h0M464.6 87h0" stroke="#283890" stroke-width="2.1" stroke-linecap="round" stroke-opacity="0.85"/>
<path d="M480.4 90h0M481 96.2h0M480.3 106.7h0M482.1 106.2h0M480.2 53.9h0M495.6 96.3h0M484.4 90.8h0M487.8 100.2h0M481 62.8h0M482.6 105.2h0M479.8 104.6h0M482.4 75.8h0M485 98.6h0M481.7 104.9h0M481.9 77.4h0M483.1 69.5h0M485.5 98.1h0M481.4 107.2h0M489.5 86.6h0M483.9 61.2h0M482 53.9h0M480.9 103.3h0M481 88.6h0M482.5 90.4h0M482.7 66.6h0M480.7 68.8h0M487.1 73.5h0M488.8 43.6h0M480.9 103.5h0M480.9 105.5h0M481.5 105.5h0M480.9 81.6h0M481.1 61.9h0M480.9 105.3h0M481.2 106.7h0M480.6 86h0M487.7 98.8h0M480.6 101.8h0M481.9 90.7h0M482.2 102.9h0M482.4 81.7h0M480.9 66.3h0M485.8 102.9h0M482.2 101.8h0M480.7 69.5h0M482.4 90.4h0M481.7 80.6h0M483.2 88.2h0M483.3 107.6h0M481.4 105.4h0M489.2 98.3h0M480.3 85.8h0M482.1 94.3h0M490.1 66.1h0M500.3 108.4h0M480.9 104.1h0M480.8 75.2h0M485.5 99.2h0M480.8 87.2h0M480.2 89.4h0M482.8 76.6h0M483.7 103h0M480.7 100h0M479.8 108.6h0M481.2 104.1h0M481.3 88.2h0M483.4 104h0M482.9 49.8h0M480.3 105.5h0M482.6 99.8h0M480.5 85.2h0M480.5 92.7h0M481.7 92.7h0M485.9 85.1h0M486.8 94.3h0M485.3 103.3h0M480.5 100.7h0M482.8 68.8h0M480.5 87.2h0M481.1 105.9h0M480.9 87.1h0M480.1 108.6h0M482.7 95.1h0M479.9 100.7h0M483 95.4h0M480.8 86.8h0M483.1 92.2h0M483.9 79.8h0M484.4 104h0M485.9 107.3h0M480.2 94.7h0M484.4 96.9h0M480.5 78.9h0M480.3 105.4h0M482.6 51.4h0M483 70.8h0M486 98.7h0M482.7 93.3h0M480.2 50.4h0M482.2 100.4h0M479.9 70h0M481 100.5h0M482.2 100.8h0M491.9 83.5h0M481.4 72.1h0M481.3 103.5h0M480.9 102.2h0M488.1 70.1h0M482.6 105.2h0M480.3 99.5h0M482.6 99.7h0M482 90.6h0M480.2 108h0M484.8 95.7h0M483.1 106.9h0M481.2 90.3h0M480.8 82.2h0M480.1 96.5h0M482 92.8h0M487 91.4h0M482.4 94.3h0M490.7 84.4h0M485.1 76.4h0M483.7 92h0M481.3 93.4h0M485.2 108.5h0M480.6 108h0M480.8 76.2h0M483.4 67.4h0M492 72.4h0M481.3 46.8h0M480.9 85.5h0M487.9 58.7h0M480.4 92.6h0M481.1 67.2h0M481.1 49.5h0M479.8 71.2h0M484.9 75.9h0M487.1 70.9h0M480.3 103h0M480.2 66h0M482.6 101.5h0M481.1 82h0M481.2 102.1h0M480.6 100.3h0M483.3 95.2h0M480.5 95.3h0M491.4 99.6h0M483.7 103.9h0M481.3 70.9h0M482.9 61.9h0M490.3 94.9h0M481.6 70.2h0M482.8 104.9h0M480 107.3h0M480.2 103.4h0M481.2 76h0M482.7 105.7h0M482.5 70.4h0M484.1 103.2h0M481.1 87.2h0M482.6 103.7h0M482 90h0M479.9 44.8h0M483.7 106.2h0M482.3 91.6h0M484.1 83.2h0M480.5 102.2h0M481.6 105.5h0M483.7 105.8h0M483 102.3h0M483.8 49.3h0M481.2 97.2h0M480.5 104.3h0M483.5 104.7h0M480.4 100.4h0M480.9 102.5h0M483.7 70.8h0M490.7 74.6h0M491.9 94.5h0M485.9 92.5h0M481.5 106.1h0M482.4 102.2h0M483.7 55h0M483.2 76.8h0M483.8 84.1h0M480.8 104.1h0M482.6 102.6h0M487.3 102.6h0M484.3 105.3h0M488.5 108.6h0M480.3 101.9h0M482.2 106.2h0M481.5 104.4h0M491.2 94.3h0M483.5 99.8h0M480 99.3h0M482.8 107.8h0M482.8 70.3h0M482.2 82h0M481.9 107.7h0M483.2 100.9h0M486.9 63.6h0M480 94.4h0M481.9 67.1h0M497.5 102.1h0M499.9 108.1h0M486.3 98.4h0M481.5 97.5h0M480.7 82.4h0M489.5 106.4h0M480.7 100.6h0M482.7 91.3h0M480.4 99.7h0M481.8 79.9h0M482.1 106.3h0M485.4 98.8h0M487.3 86.3h0M481.5 91.9h0M481 91.8h0M482.6 83.7h0M490.5 87.5h0M482 105.1h0M481.3 97h0M480.9 102.3h0M479.8 107.1h0M480.6 104.9h0M483.9 106.7h0M491.4 104.7h0M482.7 80.7h0M483.9 86.6h0M488.3 90.7h0M480.1 96.3h0M483 106h0M479.9 97.4h0M483 98.6h0M481 97.6h0M484.7 101.6h0M500 46.4h0M480.3 78.7h0M485 101.1h0M479.8 106.2h0M483.4 101.2h0M494.9 97.6h0M479.8 96.7h0M480.4 55h0M484.7 106.3h0M483.1 106.8h0M479.9 92.8h0M484.9 87.4h0M483.5 107.3h0M479.9 83.9h0M492.6 103.8h0M482.7 102.4h0M480.4 96.1h0M481.7 108.3h0M480.4 80.8h0M482.7 100.7h0M480.7 75.3h0M495.9 106.2h0M485.2 80.7h0M481.5 100.7h0M481.9 93.5h0M482.7 102.3h0M483.7 81.6h0M480.3 85h0M480 107.1h0M480.4 108.3h0M481.1 105.9h0M480.7 60.2h0M497 98.4h0M483.2 107.9h0M498.6 102.5h0M480 100.6h0M480.6 86h0M480 93.3h0M483.2 101.3h0M481.9 85.5h0M487.6 91h0M482.9 53.3h0M481.2 108.3h0M483.3 75.1h0M480.9 79.7h0M480.6 88.6h0M480.6 105.9h0M480.6 96.3h0M484.9 47.6h0M480.7 103.6h0M485.3 89.1h0M481.6 106.4h0M480.7 79.1h0M481.4 101.8h0M486.7 101.7h0M484.9 102.8h0M480.6 50.3h0M482.6 70.4h0M483.1 98.9h0M482.5 100.5h0M482.7 107.6h0M481.8 99.8h0M492.5 103.5h0M480.2 89.2h0M481.3 88.8h0M483.9 74.5h0M485.2 103.9h0M485.7 101.9h0M481 50.4h0M486.5 82.1h0M481.4 64.2h0M479.9 76.6h0M486.8 59.3h0M482 89.1h0M488.6 98.2h0M481.6 101.6h0M482 107.8h0M479.8 104.3h0M480.3 41.9h0M480.9 69.4h0M481.3 85.3h0M484 86.9h0M482.4 105.6h0M483.3 100.4h0M481.8 94.3h0M482.4 99.8h0M482.6 40.3h0M480.2 71.7h0M483.3 97.6h0M480.4 94.7h0M481.7 89.2h0M483.7 104.8h0M484.8 73.5h0M482.9 96.1h0M481.2 90.2h0M480.6 42.8h0M481.1 99.2h0M482.9 103.3h0M483 106.1h0M482.2 91.7h0M480.1 106.7h0M481.2 105.8h0M487.2 107.9h0M480.9 108.3h0M485.2 108.1h0M486 90.7h0M480.3 107.1h0M483.3 89.5h0M480.5 108.1h0M483.3 81.2h0M483 61.5h0M481.4 102.6h0M481.5 75h0M481.7 76.4h0M480.9 95.2h0M480 88.2h0M484.9 62.5h0M480.3 85h0M482 103.8h0M482.6 99.3h0M490.1 86.7h0M484.1 76.8h0M483.3 102.9h0M480.8 105.2h0M484.9 105.7h0M481.7 105.1h0M484.1 97.5h0M483.3 63.9h0M481.4 105.6h0M482.2 100.1h0M487.2 95.5h0M480.1 98.4h0M479.9 64.1h0M481.5 66.1h0M482.2 78.2h0M480.5 58.1h0M481.5 108.6h0M481.1 82.2h0M482.7 108.6h0M482.4 45.3h0M480.1 66.8h0M483.5 97.1h0M481.4 102h0M480.6 93.2h0M482.4 90.6h0M488.1 85.3h0M485.6 60.5h0M481.7 91.1h0M485.6 84.3h0M480.4 89.8h0M480.9 107.9h0M481.7 96.7h0M487.3 104.2h0M483.3 62.9h0M482.4 96.7h0M480.3 55.2h0M479.9 70.6h0M480.9 95.8h0M482.5 101.1h0M481.9 101.7h0M480.8 69.5h0M479.8 63.4h0M481.1 87.6h0M481.1 81.1h0M482.7 85.8h0M483.6 103.7h0M503.5 102.8h0M481.1 84.4h0M480.6 69.2h0M483.4 100.3h0M499.4 105.5h0M484 98.8h0M480.5 94.3h0M479.9 64.2h0M483 69.8h0M481 61.7h0M482.4 93.9h0M480.3 86.7h0M483.4 106.6h0M480.1 60.5h0M481.3 86h0M483.6 66.6h0M485.7 80.2h0M480.4 99.1h0M484.8 104h0M483.5 83.1h0M481.2 67.4h0M482.7 104.4h0M486.6 100.2h0M486.5 107.3h0M479.9 83.9h0M485.2 84.6h0M492.9 92.3h0M482.9 46.7h0M485.6 95.4h0M489.2 91.3h0M482.5 93.5h0M480.8 99.8h0M481.6 91.7h0M481.5 97.4h0M481 108.2h0M480.8 76.7h0M492 102.1h0M481.7 99.6h0M484 86.6h0M480.8 102.6h0M482.5 46.6h0M480.6 98.7h0M480.8 100.4h0M493.6 92.1h0M483.2 102.6h0M479.9 105.1h0M480.2 107h0M480.5 70.9h0M480 106.9h0M480.2 105h0M482.2 86.1h0M480.4 87h0M483.3 92.3h0M480.5 98.5h0M481.5 101.6h0M485.5 93.3h0M486.5 94.2h0M479.8 64.7h0M484.9 73.3h0M482.9 102.4h0M482.3 77.6h0M480.8 107.1h0M482.7 56.4h0M501.2 48h0M482 78.4h0M486 99.9h0M482 96.1h0M483 58.9h0M493.7 104.6h0M482.3 86.1h0M480.6 107.2h0M480.3 95.1h0M480.2 104.5h0M489.5 88.1h0M485.6 108.4h0M483.4 98h0M480.9 105.6h0M480.1 101.7h0M481.2 95.3h0M482.3 102h0M481.7 96.9h0M484.1 108.2h0M480.4 91.4h0M483.1 107.6h0M483.2 67.1h0M481.1 103.7h0M483.5 96.7h0M482.2 106.2h0M489.4 92.3h0M485 97.6h0M482.1 97.9h0M481.7 107.7h0M480.2 73.3h0M480.7 89h0M479.9 81.4h0M481.2 82.6h0M483.5 91h0M480 42.4h0M481 106.6h0M481 100.5h0M480 103.8h0M482.6 104.2h0M484.9 99.5h0M482.8 54.4h0M482.3 104.7h0M480.7 94.8h0M479.9 99.4h0M483.6 97h0M481.1 95.9h0M483.4 107.9h0M485.5 108.5h0M482.6 92.8h0M480.7 83.4h0M481.4 82.2h0M482.2 107.9h0M482.8 101.6h0M481.8 95.2h0M482.2 101.1h0M486 107.5h0M484.6 108.4h0M480.5 55.8h0M490.5 100.3h0M483 90h0M479.8 106.5h0M481 102.7h0M480.6 100h0M480.4 99.5h0M483.1 103.8h0M480.9 88.3h0M479.9 96.7h0M480.9 86.3h0M480.6 80.4h0M482.6 64.6h0M485.9 97.2h0M486.5 98.3h0M488 100.9h0M480.8 98h0M482.3 100.3h0M483 73.2h0M481.9 101.5h0M481.8 89.2h0M480.3 106h0M483.8 105.9h0M484.3 101.1h0M487 106.8h0M482.4 77.7h0M485.4 102h0M480.1 106.5h0M484.6 95.2h0M481 52.4h0M479.9 98.8h0M483.4 80.8h0M480.2 46.2h0M480.5 106.4h0M480.3 108.6h0M480.6 100.8h0M487.3 70h0M482.5 68.6h0M480.8 93.3h0M482 78h0M480.8 50.9h0M489.4 102.4h0M481.9 55.7h0M480.8 96.4h0M486.4 54.9h0M480.8 100.3h0M479.9 94.9h0M480.5 105.1h0M480.4 95h0M481.1 73.2h0M486.2 100.3h0M491.3 92.4h0M482.3 97.6h0M483.3 95.5h0M487.7 93.3h0M481 82h0M484.8 72.4h0M483.7 50.5h0M479.9 94.5h0M481.3 74.8h0M479.8 97.3h0M480.3 88.4h0M482.9 57.8h0M484.3 50.7h0M483.3 103.7h0M482 90h0M480.3 91.4h0M482.2 108.6h0M481.7 63.7h0M484.9 95.3h0M480.1 106.8h0M485.2 77.5h0M489.2 76h0M481 102.6h0M481.3 97.1h0M482 78.7h0M480.7 77.3h0M479.9 66.8h0M492.4 86.4h0M485.8 95h0M479.9 73.6h0M484.1 62h0M485.8 65.5h0M482.6 102.4h0M482.5 95.2h0M482.1 95.6h0M496 95.3h0M481.9 88.4h0M480.3 87.6h0M481.6 80.1h0M480.7 85h0M481.7 99.8h0M481.4 102.3h0M486.3 98.9h0M482 79.7h0M481.2 103.6h0M483.2 73.6h0M480.2 64.5h0M482.6 74.1h0M484.2 68.4h0M480.1 64h0M483.9 95.4h0M481 101.7h0M480.1 43.6h0M480.2 75.6h0M480.9 103h0M483.9 99.1h0M481.9 79.8h0M480.8 95.1h0M484.5 81.4h0M481.3 81.9h0M481.5 79.1h0M480.2 107.4h0M480.9 92.8h0M482.6 98h0M489.1 95.8h0M479.9 82.4h0M482.8 108.1h0M481.6 106.7h0M481.2 54.7h0M483.3 99h0M481.3 73.3h0M483.6 52.9h0M493.3 103.3h0M487.3 102.2h0M481.4 96.8h0M480.6 100h0M482.7 42.1h0M486.7 94.1h0M483.9 82.2h0M483.1 102.6h0M482.2 90.4h0M485.1 104.8h0M484.3 99.4h0M482.4 66.9h0M485.5 92.2h0M482.9 99.9h0M480.8 88.6h0M482.5 80.8h0M480.8 90.4h0M483.1 81.8h0M483.9 99.2h0M489.4 78.3h0M483.8 83.8h0M487.4 102.4h0M481.2 95h0M488.1 75.3h0M484.3 94.3h0M481.7 105.9h0M483.5 76.6h0M483.7 80.5h0M490.2 96.4h0M487.1 103.9h0M484 103.6h0M481.9 74.8h0M480.4 71.1h0M485.5 96h0M480 100.1h0M479.8 65.9h0M483.5 97.7h0M479.9 46.1h0M486.6 62.4h0M480.1 82.5h0M482.5 105.8h0M480.4 104.2h0M483.9 83.6h0M480.4 79h0M480.5 74.5h0M481.1 105.9h0M480.4 81.5h0M481.1 102.1h0M481.9 104.5h0M483.3 43.4h0M480.3 67.8h0M480.2 102.3h0M480.3 101.1h0M484.9 107.1h0M481.8 96h0M487.8 94.3h0M480.5 92.5h0M482.4 100.3h0M481 104h0M493.5 73.9h0M480.1 88.7h0M485 106.9h0M486 106h0M484.4 101.8h0M482.5 100.5h0M484.4 41.4h0M498.9 93.1h0M483.7 90.8h0M480.8 95.1h0M480.7 105.8h0M480.4 90.8h0M483.7 89.9h0M480.2 99.4h0M481 69.7h0M483 55.2h0M482.5 100.5h0M481 71.1h0M483.4 93.3h0M493.5 108.5h0M481.7 108.4h0M480.9 85h0M480.6 98.2h0M487.7 75.5h0M481.7 107.1h0M482.7 95h0M483.1 64.4h0M483.4 68h0M481 69.6h0M481.3 102.2h0M483.3 65.3h0M481.3 99.7h0M480.6 96.4h0M482.4 87.6h0M482.5 71.9h0M480.2 80.9h0M481.7 78h0M480.3 58.2h0M482.9 85.5h0M481.3 103.8h0M486.6 105.3h0M492.5 101.7h0M486.5 92.1h0M482.3 52h0M481.4 106.2h0M480.7 100.1h0M485.6 101.4h0M480.7 60.3h0M482.8 93.8h0M483 72.3h0M480.7 90.5h0M485 41.2h0M486.7 83.3h0M484.3 107.3h0M481 104.7h0M485.5 107.8h0M481.8 45.5h0M486.9 75.4h0M479.8 64.5h0M479.9 58.9h0M480.9 101.7h0M482.3 101.8h0M482.5 87h0M479.8 85.3h0M480.7 95.2h0M481.9 82.5h0M483.5 103h0M479.8 90.6h0M480.6 67.7h0M487 103.3h0M482.9 96h0M485.4 95.6h0M491.6 103.4h0M481.7 49.5h0M480.6 107.4h0M480.9 68.7h0M479.9 99.1h0M483.1 56.6h0M485.2 98.5h0M483.6 78h0M483.5 80.3h0M480 99.2h0M484.8 102.8h0M480.1 92.1h0M480.5 107.4h0M486.6 104.3h0M483.4 53.4h0M481.3 91.2h0M484.8 102.6h0M482.8 106h0M480.7 103.2h0M480.2 71.2h0M485.5 97.7h0M481.9 98.5h0M480.5 52.1h0M486.4 103.7h0M483.3 107.9h0" stroke="#941318" stroke-width="2.1" stroke-linecap="round" stroke-opacity="0.92"/>
<circle cx="441.60" cy="71.76" r="1.15" fill="#9aaad0"/>
<circle cx="453.50" cy="51.08" r="1.15" fill="#5a6aae"/>
<circle cx="450.70" cy="77.87" r="1.15" fill="#7b8ac0"/>
<circle cx="457.70" cy="44.97" r="1.15" fill="#2b3a93"/>
<circle cx="490.60" cy="49.20" r="1.15" fill="#c05050"/>
<circle cx="499.00" cy="57.66" r="1.15" fill="#c86060"/>
<circle cx="498.30" cy="74.58" r="1.15" fill="#c86060"/>
<circle cx="501.10" cy="63.30" r="1.15" fill="#d07070"/>
<rect x="427.00" y="35.00" width="39.25" height="73.75" fill="none" stroke="#2b3a93" stroke-width="1.2"/>
<rect x="478.00" y="35.00" width="40.00" height="73.75" fill="none" stroke="#c8242c" stroke-width="1.2"/>
<line x1="466.25" y1="35.00" x2="478.00" y2="35.00" stroke="#161616" stroke-width="1.3"/>
<line x1="426.25" y1="34.50" x2="426.25" y2="118.60" stroke="#161616" stroke-width="1.3"/>
<line x1="425.60" y1="118.00" x2="518.00" y2="118.00" stroke="#161616" stroke-width="1.3"/>
<line x1="422.00" y1="44.50" x2="426.25" y2="44.50" stroke="#161616" stroke-width="1"/>
<text x="416.80" y="47.80" font-size="9.2" text-anchor="end">15</text>
<line x1="422.00" y1="68.00" x2="426.25" y2="68.00" stroke="#161616" stroke-width="1"/>
<text x="416.80" y="71.30" font-size="9.2" text-anchor="end">10</text>
<line x1="422.00" y1="91.50" x2="426.25" y2="91.50" stroke="#161616" stroke-width="1"/>
<text x="416.80" y="94.80" font-size="9.2" text-anchor="end">5</text>
<line x1="422.00" y1="115.00" x2="426.25" y2="115.00" stroke="#161616" stroke-width="1"/>
<text x="416.80" y="118.30" font-size="9.2" text-anchor="end">0</text>
<line x1="437.40" y1="118.00" x2="437.40" y2="121.50" stroke="#161616" stroke-width="1"/>
<line x1="465.40" y1="118.00" x2="465.40" y2="121.50" stroke="#161616" stroke-width="1"/>
<line x1="472.40" y1="118.00" x2="472.40" y2="121.50" stroke="#161616" stroke-width="1"/>
<line x1="479.40" y1="118.00" x2="479.40" y2="121.50" stroke="#161616" stroke-width="1"/>
<line x1="507.40" y1="118.00" x2="507.40" y2="121.50" stroke="#161616" stroke-width="1"/>
<text x="436.90" y="133.00" font-size="10" text-anchor="middle">−5</text>
<text x="463.40" y="133.00" font-size="10" text-anchor="middle">−1</text>
<text x="471.90" y="133.00" font-size="10" text-anchor="middle">0</text>
<text x="479.40" y="133.00" font-size="10" text-anchor="middle">1</text>
<text x="506.90" y="133.00" font-size="10" text-anchor="middle">5</text>
<text x="471.80" y="146.60" font-size="9.6" text-anchor="middle">Log<tspan dy="2.4" font-size="6.6">2</tspan><tspan dy="-2.4"> (fold change)</tspan></text>
<text x="401.20" y="75.80" font-size="9.9" text-anchor="middle" transform="rotate(-90 401.20 75.80)">−Log<tspan dy="2.6" font-size="6.8">10</tspan><tspan dy="-2.6" font-style="italic"> adjust-P value</tspan></text>
<text x="471.80" y="29.30" font-size="9.8" text-anchor="middle"><tspan font-style="italic">PIM2</tspan><tspan dy="-3.6" font-size="6.2">high</tspan><tspan dy="3.6"> vs. </tspan><tspan font-style="italic">PIM2</tspan><tspan dy="-3.6" font-size="6.2">low</tspan></text>
<text x="428.80" y="43.20" font-size="6.0">Down =254</text>
<text x="512.50" y="43.00" font-size="5.8" text-anchor="end">Up = 803</text>
<text x="0.00" y="147.40" font-size="13.8" font-weight="bold" fill="#000">C</text>
<defs><filter id="bl" x="-5%" y="-5%" width="110%" height="110%"><feGaussianBlur stdDeviation="0.45"/></filter><filter id="bl2" x="-5%" y="-5%" width="110%" height="110%"><feGaussianBlur stdDeviation="0.85"/></filter><clipPath id="cm"><rect x="10" y="157.5" width="112.7" height="111.2"/></clipPath><clipPath id="ct"><rect x="125.3" y="157.8" width="54.2" height="53.6"/></clipPath><clipPath id="cb"><rect x="125.3" y="215.4" width="54.2" height="53.5"/></clipPath></defs>
<rect x="10.00" y="157.50" width="112.70" height="111.20" fill="#000"/>
<g clip-path="url(#cm)"><g filter="url(#bl)">
<path d="M47.1 166.1l-2.4 0.4M12.8 185.9l0.5 0.3M29.9 171.9l-0.3 1.2M23.1 232.3l0.7 0.6M59.7 180.7l0.1 0.5M69.3 164.3l1 0.9M43.6 203.3l-1.8 0.8M121.7 183.1l1.1 1.3M44 199.1l0.9 2.3M72.1 157.3l0.5 0.8M92.8 158l1 1.7M26.1 220.4l1.2 2" stroke="#2fb060" stroke-width="1.8" stroke-linecap="round" stroke-opacity="0.85"/>
<path d="M54.2 246.1l-2 1.1M77 189.1l-0.9 2.2M51.6 219.4l0.1 0.9M30 210.3l-0.3 2M51.6 198.9l-2.4 0.3M31.8 191.9l1.4 0.3M90.6 173.3l-1.3 1.8M58.9 198.8l-1.4 0.1M17.1 157.9l0.5 0.6M67.4 241.1l1.6 1.3M65.2 158.5l1.3 1.8" stroke="#2fb060" stroke-width="2.4" stroke-linecap="round" stroke-opacity="0.85"/>
<path d="M42.9 173.4l0.7 0.2M68.4 221.1l1.2 1.9M106.5 157.8l1.5 1.5M20.6 158.7l-0.7 1.8M68.3 170.3l-0.7 0.4M50.8 161.6l0.8 0.7M34.9 167.3l-0.3 0.5M25.5 158.3l-0.8 0.8M51.6 222.5l1.3 1.1M21.7 226.7l-0.6 0.7M36.8 162.6l-1.4 1.3M43.4 162.1l1.1 0.4M54.7 218.9l-0.5 0.3M99 224.2l0.1 0.6M10.8 158.4l0.9 2.2M32 185.4l0.1 1M88.5 231.3l-0.7 0.5" stroke="#2fb060" stroke-width="3.0" stroke-linecap="round" stroke-opacity="0.85"/>
<path d="M15.7 208.4l0.3 2.1M47.2 170.9l1.9 0.6M49.3 160.4l0.4 1.8M83.6 157.5l0.8 0.3M13.1 262l-1.5 0.9M79.7 175.6l0.7 2M101.6 178.2l-1.2 0.6M44.1 156.9l0.2 2.2M117.4 161.5l1.2 1.9M37.6 156.5l-1.2 2M114.8 172.6l-2.4 0.3M31.7 238.8l-0.1 1.1M35.9 158.5l0.7 0.9M67.3 254.1l0.8 0.6M60.3 265.4l-0.9 0.7" stroke="#3fc878" stroke-width="1.8" stroke-linecap="round" stroke-opacity="0.85"/>
<path d="M94.7 167.6l-1.3 0.1M50.7 202.9l1.1 1.3M33.7 236.3l-1.7 1.8M59.4 180.9l0.2 0.5M16.3 192.2l-1.3 0.2M35.3 177.9l-0.5 0.3M41.3 247.9l1.9 1.2M72.1 163.3l-2.1 0.5M66.7 157.3l-0 0.6M83.5 267.3l0.5 2M26.7 197.2l1.1 0.4" stroke="#3fc878" stroke-width="2.4" stroke-linecap="round" stroke-opacity="0.85"/>
<path d="M68.7 179.1l-1.1 0.7M50.8 157.3l-0.9 0.9M39.5 167l1.4 1.5M48.8 192.2l-0.4 2.1M55.8 156.4l0.3 2.2M58.6 160.1l-0.3 0.8M34.9 211.5l1.3 1.2M38.8 162.2l1.1 0.1M48.6 181.6l-0.7 0.5M36.2 160.7l-0.5 0.1M30.5 157.4l-0.9 1.2M42.3 156.8l0.3 1.5M112 165.8l0.3 2.5M16.6 210.3l-0.4 0.6M56.7 191.6l1 1.6M10.3 166.4l0.5 0.5" stroke="#3fc878" stroke-width="3.0" stroke-linecap="round" stroke-opacity="0.85"/>
<path d="M52.4 158.2l-0.3 0.6M60 184.6l0.5 0.2M23.7 158.9l-1.1 0.4M14.8 226.2l0.5 2.4M83.7 161.4l-1 0.1M50.3 262l2.1 1.1M63.9 178.6l-2.4 0.1M52.6 200.5l0.1 1.3M19 230.4l-2.1 0.6M71.7 180.2l0.5 0.5M59.9 162.8l0.2 2.2M23.7 179l1.3 0.1M17.9 241.5l-0.6 0.8M52.9 166.5l-0.8 0.8" stroke="#27a058" stroke-width="1.8" stroke-linecap="round" stroke-opacity="0.85"/>
<path d="M69.9 213.8l-0.4 0.8M46.1 236.6l-0.3 1.3M117.8 196.8l0.5 0.9M16.8 157.2l-1.1 1.1M91 162.8l-0.1 1M29.5 186.8l-0.9 1.6M70.6 166.3l1.3 0.8M32.9 178.1l1.3 1.5M44.5 191.5l0.3 0.7M57.3 253.7l-1.7 0.7M22.2 214.7l-0.6 1.3M91.4 185.7l-0.8 2.1M42.2 211.5l0.1 2.3M26.7 266.9l-1 0.4M35.8 237.5l0.5 0.2M86.1 226.5l1.5 1.3M105.1 186.2l0.5 0.9M35.7 163.4l-1 0.9M28.7 190l-1.4 2" stroke="#27a058" stroke-width="2.4" stroke-linecap="round" stroke-opacity="0.85"/>
<path d="M38.4 211.6l-1.5 1.3M63.4 195.9l1.2 0.7M45.3 157.7l0.7 1.1M63.5 178.8l1.5 1.5M11.2 157.2l-0.2 0.7M31.8 188.2l0 2M21 187.5l-1 0.9M85.3 216l-1.3 0.3M56 254l-1.3 0.9M54.3 192l1 2.1M83.9 167.8l-1.1 1.1M63.7 157.6l0.4 0.6" stroke="#27a058" stroke-width="3.0" stroke-linecap="round" stroke-opacity="0.85"/>
<path d="M78.1 172.7l1.2 0.5M87.2 166.8l-1.7 1.3M70.4 164l1.1 1.7M27.8 241l-0.2 1.2M25.6 178l-1.7 0.4M12.8 158.5l-0.7 0.2M59.2 170.8l-0.3 1.7M33.6 189.9l1.1 2M119.9 211.1l-1.6 1.4" stroke="#49c088" stroke-width="1.8" stroke-linecap="round" stroke-opacity="0.85"/>
<path d="M15.6 170.1l1.5 0.6M84.3 263.8l-0.2 1.9M34.5 176.6l1.6 1.2M18.5 181.6l-0.2 1.2M52.9 159.8l-0.1 2.3M91.9 172l-1.7 0.3M66.6 260.1l-0.8 1.3M92.5 210.6l0.2 0.6M65.1 207.7l0.5 0.6M17 159l0.7 0.4M46.2 164.7l0.3 1.9" stroke="#49c088" stroke-width="2.4" stroke-linecap="round" stroke-opacity="0.85"/>
<path d="M9.5 238l2 0.7M45 201.3l1.4 1.9M54.4 216.1l1.6 0.9M11.2 192l2.2 0.8M111 208.6l-0.7 1.7M33.8 164l0.2 1.5M39.9 184.1l-0.7 0.8M10.8 173l0.1 1.5M94.7 181l1.4 2M24.6 179.3l1.6 0.4M33.7 175.8l-2.4 0" stroke="#49c088" stroke-width="3.0" stroke-linecap="round" stroke-opacity="0.85"/>
<path d="M40 169l0.8 1.8M21.4 250.2l1.6 0.2M51.2 186.8l-0.5 2.2M69.9 161.8l-0.6 1.5M42.8 267.6l1.1 0M57.1 160.2l-0.3 0.8M49.9 157.4l1.5 0.2M104.7 193.6l-1.5 0.7M55.1 163.6l-0.8 1M52.3 177.3l-0.5 2.4M23.1 209.5l0.1 0.7" stroke="#1f8f60" stroke-width="1.8" stroke-linecap="round" stroke-opacity="0.85"/>
<path d="M13.4 250.7l-2.1 0.7M56 185.2l0.9 1.3M59.9 158.8l0.7 0M25 177.9l-1.9 0M18.7 170.4l-0.5 0.7M115.5 232.8l-0.2 1M89.3 208.4l0.3 0.6M86.1 188.9l-1.3 2.1M35.8 169.5l-1 0.9M22.6 242.8l0.9 0.9M47.5 200.1l-1.1 0.8M35.2 157.1l-0.9 0.8M40 208.6l-0.9 0.3M17.3 181.2l1.2 0.3M29 207.8l-0.7 1.8M62.7 159.8l-0.1 2.4" stroke="#1f8f60" stroke-width="2.4" stroke-linecap="round" stroke-opacity="0.85"/>
<path d="M70.7 165.7l-1.3 0.7M30.2 156.9l-0.6 1.3M109.6 231.1l0.2 0.5M66.8 157.6l-1.1 0.7M12.6 193.6l-0.5 0.2M36.2 181.5l-0.1 1.8M59.9 225.2l1 1.4M40.1 186.9l0.2 0.7M15.9 198.8l1 2.1M71.1 232.3l1.6 0.5M54.1 193.6l-1.4 1M65.2 262.2l1.4 1.9M12.7 190.4l-1.6 0.8M36.6 169.3l-2 0.4M48 187.5l-0.3 1.4" stroke="#1f8f60" stroke-width="3.0" stroke-linecap="round" stroke-opacity="0.85"/>
<path d="M48 259.3l1 0.5M38.7 194.9l-1 0.5M37.5 163l-0.6 0.9M35.1 240.2l0.3 0.4M80.4 190.2l1 0.6M72.2 263.6l-0.5 0.7M119.3 228.1l-0.6 0.7M30.3 216.1l0.5 0.8M113.8 228.8l0.2 0.1M114.4 220.3l0.1 0.7M75.9 231.4l0.2 0.1M123.6 171.7l-0.2 1.2M106.5 209.8l-0.6 0.1M73.7 252.9l0.3 1.1M99.7 238.5l-0.7 0.7M106.8 198.1l-0.6 0.6M80.1 200.5l-0.5 0.1M48.4 247.7l0.6 0.1M122.1 248.2l0.5 0.6M94.9 190.8l-0.2 0.4M19.4 260l-0.5 0.7M26.5 204.6l0.4 0M68.5 190.2l0.4 1M80.2 209.9l-0.4 0.6M98.2 233l-1.1 0.5M80.8 156.6l-0.7 0M107.2 171.6l0 0.5" stroke="#2a2a98" stroke-width="1.6" stroke-linecap="round" stroke-opacity="0.85"/>
<path d="M24.8 169.5l0.4 0.6M82.8 263.9l-0.8 0.5M63.4 192.5l0.2 0.6M43.5 268.5l-1 0.3M96.1 193.6l0.9 0.3M50.3 196.7l1.1 0.4M60 205.3l-0.6 0.7M45.6 249.7l-0.3 0.3M29.2 159.9l0.1 1.1M64.2 218.5l0.9 0.2M100.5 245.2l0.1 0.6M82.3 180.2l-0.5 0M86.1 237.9l0.2 0.2M78.2 158.3l0.9 0.1M86.5 171.9l-0.7 0.4M91.3 230.4l-0.9 0M41.6 173.3l-0.3 0.6M57.4 176l0 0.9M51.4 223.9l-0.3 0.3M91.8 209.1l0.8 0.8M86.5 164.3l0.6 0.4M67.5 266.6l0.1 0.6M100.5 212.8l-0.5 0.1M86.4 203.4l0.4 0.2M117.2 205.5l-0.3 0.8M38 178.6l-0.2 0.1M54.2 224.6l0.4 0.5M104.1 219.1l-0.6 1M38.6 216.2l-0 0.2M96.2 227.8l0.7 0.4M71.8 243.2l0 0.4M89.5 245.6l-0.5 0.9M90.8 260l-0.9 0.5" stroke="#2a2a98" stroke-width="2.0" stroke-linecap="round" stroke-opacity="0.85"/>
<path d="M18.5 171.9l0.1 0.5M65.6 158l0.4 0.8M60.4 180l0.2 0.3M56.8 192.6l0.7 0.4M23.5 255l-0.5 0.9M66.3 212.4l0 1M104.1 237.4l0.7 0.2M49 211.2l0.2 0.6M82.8 186.3l-0.8 0.1M34.4 197.8l0.5 0.3M29.2 234.6l0.4 0.8M71.9 235.7l-0.1 0.5M77.5 236.8l0.6 0.4M45.6 182.1l0.5 0.8M91.5 221.3l-0 0.3M15.7 231.5l0.6 0.2M62 175l-0 0.4M25.7 171.5l-0.6 0.2M89.7 250.8l0.7 0.1M22.9 186.8l0 0.7M75 173.2l1 0M28.6 216.5l0.2 0M110.9 241.7l-0.2 0.4M59.9 264.8l-0.9 0.1M75.7 242.2l0.3 0.5M106.7 207.1l-0.3 1.1M25.1 159.3l-0.3 0.9M49.4 203.3l-0.5 0.1" stroke="#2a2a98" stroke-width="2.4" stroke-linecap="round" stroke-opacity="0.85"/>
<path d="M66.3 205.7l0.2 1.2M53.7 231.7l-0.8 0.4M58.1 175.5l0.7 0.4M94.3 228.2l1.1 0.3M56.2 260l-0.6 0.2M109.7 170.5l0.1 0.6M26.2 168.1l0.1 0.3M82.4 191.6l-0.4 1M38.9 237.4l-0.9 0.7M76.5 225.9l-0.4 0.9M89 265.6l1 0.3M87.5 268.4l1.1 0.1M98.3 205l0.2 0.7M18.2 262.6l-0.1 0.4M38.7 165.6l0.1 1.1M91.2 165.2l-0.1 1.1M118.7 222.4l0.1 0.2M28.8 234.5l-0.1 0.4M53.6 249.4l-0.1 0.4M102.9 269.7l0.6 0M53.1 227.4l-0.8 0.7M14.8 205.3l-0.4 0.9M46.2 261.1l-0.4 1M104 212.1l-0.3 0.3M42.3 258l-1 0.2M103.4 268.6l-0.3 0.1M61.5 251.8l-0.2 0.5M95.7 235.9l-0.2 1.1M81.6 214.2l0.3 0.4M77.1 180.6l0.8 0M45.5 226.4l-0.5 0.7M27.4 187l-0.4 0.6" stroke="#2a2a98" stroke-width="2.8" stroke-linecap="round" stroke-opacity="0.85"/>
<path d="M21.3 234.1l0.4 0.5M51.2 195.7l0.3 0.4M10 261l-0.9 0.5M107.1 165.7l0.1 0.3M57.7 255.1l-0.7 0.8M101.8 243l0.7 0.2M112.9 160l0.4 0.7M111.8 196.2l-0.6 0.1M106.2 184.2l-0.3 0.2M53.9 198.5l-0.6 0.8M116.4 178.1l-0.3 0.2M67.7 223.6l-0.4 0.8M116.2 260.5l-0.3 0.4M50 185.9l0.9 0.1M119.8 192.5l1.2 0.1M71.8 216l0.6 1M104.1 161.8l-0.1 0.4M61.5 171.6l-0.5 0.8M78.2 199.5l-1.1 0.2M107.2 258.4l0.8 0.2M47.7 191.8l-0.6 0.2M64.3 198.4l-1.1 0.3M65.1 175.1l-0.6 0.2M42.9 173.1l1 0.6M96.7 235.4l-0.6 0.2M81.2 197l0.3 0.3M29.3 173.1l-0.6 0.5M50.1 233.5l-0.1 0.8M86.3 190.3l-0.6 0.3M52.7 234l-0.1 0.7M81.7 254l0.9 0.1M42.2 165.9l0.6 0.3M92.8 182.7l1 0.2M88.4 181.1l-0 0.7M22.9 199.9l0.4 0.4M65.1 227.2l0.7 0.5M14.4 238l0.1 0.7M52.9 261.7l-0.6 0.2M12.8 171.8l0.3 0.9M81 244.4l0.3 0.3M74.8 212.9l-0.6 0.2M62.2 180.9l0 0.9M12.2 176.5l-0.3 0.1M70.6 249l0.9 0.3M68.6 184.7l-0.6 0.1M27.3 266.4l-0.2 0.1M62.6 267.5l-0.7 1M70.2 261.8l0.4 0.4M16.3 208.3l0.3 0.1" stroke="#3232a8" stroke-width="1.6" stroke-linecap="round" stroke-opacity="0.85"/>
<path d="M20.6 190.6l-0.6 0.1M25 179.2l-0.2 0.8M41 267.4l-1.1 0.3M14.1 265.3l-0.7 0.7M70.3 193.5l-0.5 0M71.6 228.1l0.1 0.4M29 164.9l1 0.2M109.6 208.2l0.2 0.3M9.3 263.1l0.5 0.6M66.1 187.6l0.2 0.8M26.3 215.6l0.3 0M56.7 194.7l-0.4 0M36.7 268l-0.6 0.8M117 173.2l-0.3 0.2M12.9 241.8l-0.1 0.4M91.3 263.8l0.6 0.2M109.6 158.9l-1 0.3M11.8 200.1l0.5 1M16 184.3l-0 0.3M97.6 169.6l0.6 0.4M118.4 164.7l-0.3 1M57.4 228.9l0.6 0.6M82.6 174.4l0.8 0.2M13.1 226.3l0.2 1.2M75.2 249.9l-0.1 0.2M119 160.6l1.1 0.5M104.8 174.3l0.6 0.2M91.5 234.3l-0.3 1M20.5 198.9l0.2 0M54.4 179.7l0.8 0.3M43.3 264.5l0.7 0.9M103.8 157.7l-0 1M56.3 246.7l0.4 0.6M9.8 230.3l-0.3 1.1M57.6 212.6l-0.1 0.3M15.2 163.3l-0.6 0.7M112.3 200.5l-0.5 0M35.4 215l-1 0.6" stroke="#3232a8" stroke-width="2.0" stroke-linecap="round" stroke-opacity="0.85"/>
<path d="M106.7 237.7l0.4 0.2M15.9 237l0.2 0.6M89.8 225.5l0.4 0M50.4 189.3l0.8 0.6M104.7 206l-1 0.3M92.9 180.6l-0.6 0.5M45.6 209.9l0.3 1.1M19.2 255.9l0.6 0.5M24.6 238.5l0.1 1.1M34.9 266.5l-0.6 0.1M40.7 264.7l0.9 0.6M81.6 168.3l-0.5 1M45 166.2l-0.2 1.1M22.9 198.8l0.6 0.6M91.8 209.5l0 0.5M82.7 227.9l1.1 0.4M48.1 226.7l0.2 0.6M79 214.9l1 0.1M10.4 162.1l0.2 0.9M51.9 163.6l-0.9 0.1M54.1 239.8l0.4 0M19.8 201.3l-1 0.5M65.2 165.5l-0.8 0.9M69.5 257.7l-0.2 0.3M119.7 187.8l-0.3 0.2M116.6 183.9l-0.7 0.2M20.8 254l0.4 0.4M100.3 242.3l0.9 0.2M46.3 161.4l0.2 0.4M24.2 247.9l0.5 0.9M118.7 208.5l0.2 0.4M14.9 214.2l0.2 0.1M10.4 176.5l-0.3 0.3M94.6 262.8l0.3 0.6M99.1 250.2l0.5 1M13.1 175.5l-0.2 0.6M61.3 209l0.3 0.4M82.5 250l-0.1 0.2" stroke="#3232a8" stroke-width="2.4" stroke-linecap="round" stroke-opacity="0.85"/>
<path d="M102.3 232.7l-0.1 1.2M35.8 264.4l0.1 0.5M13.4 262l-0.4 0.3M41.1 169.6l-0.2 0.3M77.8 266.7l0.7 0.6M31.9 162.9l-0.5 0.9M55.9 254.1l-0.1 0.2M96 189.2l0.1 0.4M75.3 212.8l-0.5 0.7M42.5 207.8l-0.8 0.2M97.3 173.1l0.4 0.6M23.8 209.9l-0.3 0.7M42.9 197.4l-0.4 0.4M9.4 173.3l-0.1 0.4M116 238.4l0 0.4M16.5 250.8l-0 0.9M119.7 262.7l-0.1 0.2M86.6 260.7l0.5 0.2M67.2 160.1l-0.5 0.4M46.4 216.8l-0.3 0.2M30.9 234l0.2 0.2M63.3 166.1l0.6 0.2M117.1 224.4l-0.1 0.2M47.9 208.6l0.2 0.9M95.9 223.4l-0.1 0.8M42.8 212.3l0.8 0.8M82.4 252.6l0.7 0.2M80.5 208.5l0.4 1M56.8 253.8l0 0.5M34.3 184.4l-0.5 0.4M21.5 219.5l0.6 0.9M61.3 191.9l1.1 0.1M111.1 261.2l0 0.3M33.8 158.5l-0.3 0.2M53.7 236.1l-0.1 0.3M116.7 265.4l0.9 0.4M115.3 208.3l0.3 0.2M68.9 211.5l0.8 0.2M93.4 201.2l-0.1 0.3M56.4 186l-0.6 0" stroke="#3232a8" stroke-width="2.8" stroke-linecap="round" stroke-opacity="0.85"/>
<path d="M113.5 258.8l0.3 0.5M41.8 214.5l0.1 0.4M66.3 168.1l0.6 0.5M17.3 233.1l-1.1 0.3M36.4 219.9l-0.8 0.8M121.6 217.4l0.3 0.8M98.7 265l0.4 0.2M122.1 242.3l-0.4 0.1M115.6 227.7l0.1 0.5M31.1 221.6l-0.1 0.5M121.3 239.6l-0 0.4M81.4 223l0.4 0.4M123.7 242.7l-0.2 0.7M87.6 230.8l-0.3 0.4M31.9 174.4l-0.3 1M61.7 268.2l0.5 0.2M67.8 204.7l-0.5 0.2M56.7 160.7l-0.1 0.5M51.7 239.6l-0.3 0M12 156.6l1.2 0.3M97.8 228.8l1 0.4M71.4 190l-0.3 0.2M50.8 239l-0.6 0M23.1 194.5l0.3 0.2M93.5 188l1.1 0.1M73.2 261.2l-0.3 0.1M85.3 229.6l0 0.7M28.7 171.4l0.8 0.3M66.9 259.6l0.8 0.1" stroke="#3a3cb4" stroke-width="1.6" stroke-linecap="round" stroke-opacity="0.85"/>
<path d="M19.6 162.4l-0.3 0.7M11.2 253.6l0.9 0.2M65.5 212.9l-0.5 0.7M68.3 216l-0.1 0.8M89.4 200.1l0.1 1M64 190.7l-0.1 0.4M40.4 192.9l-0.1 0.5M71.3 180.4l0.3 0.4M89.4 253.7l-0 0.4M69.2 212.4l-0.1 0.1M10.6 212.1l-0.1 0.9M43.6 252.4l-0.9 0.7M43 259.5l1 0.6M66.4 179.4l-0.6 0.8M57.1 178.4l0.1 0.7M20 215.4l-1.1 0.2M13.2 244.1l-0.2 0.6M37.5 199.4l0.2 0.9M67.7 218.3l-0.3 0.3M34.6 199.8l-0.1 0.2M70.3 238.2l0.2 0.3M35 266.9l-0.3 1.1M39.5 207.6l0.2 1M100.2 235.1l0.1 0.4M117.2 174.1l0.6 0.2M24.4 177.9l-0.2 0.4M35.9 202.4l0.7 0.9M57.9 211.1l0.4 0.9M46 189.1l-0 1.1M13.4 218.7l1.2 0.1" stroke="#3a3cb4" stroke-width="2.0" stroke-linecap="round" stroke-opacity="0.85"/>
<path d="M18.6 164.7l0.5 0.6M114.1 167.1l-0.4 0.1M96 193.4l1.1 0.2M106.5 158l-0.3 0.2M27.6 199.5l1 0M56.2 199.4l0.2 0.4M79.9 255.8l0.3 0.9M71.6 169.9l-0.3 0.7M88.2 265.5l0.3 0.2M13.4 174.4l-0.3 0.1M81.4 221.7l-0.2 0.2M90.7 159.7l0.2 0.7M25.2 219.8l-0.3 0.9M80 186.5l-0.1 0.2M80.3 246l0.3 0.4M76.9 182.9l0.6 0M41.1 217.8l-0.4 0.4M48 161.4l0 0.2M46.2 215.6l-1 0.2M80.7 257l-0.5 0.2M95.5 182.4l-0.6 0.8M33.4 224.6l0 1.1M114 196.4l0 0.2M83.3 269.3l0.6 0.6M74.9 226.8l0.2 0.3M97.4 256.1l-0.6 0.6M81.7 164.3l0.4 0.6M52.9 196.5l0.5 0.6M124.4 168l-0.8 0.2M98.3 232.2l0.7 0.8M56.7 247.2l-0.5 0.7M21.4 203.1l-0.4 0.2M89.1 169.5l-0.4 0.2M13.2 175l-0.6 0.5M17.9 159.6l0.5 0M41.3 162.8l0 0.8M102.1 157.8l0.1 1.1" stroke="#3a3cb4" stroke-width="2.4" stroke-linecap="round" stroke-opacity="0.85"/>
<path d="M72.7 213.1l-0.7 0.5M22 209.6l0.7 0.2M36.9 163.1l0.7 0.8M61.7 218.5l-0.7 0.3M92 237.9l0.5 0M47.6 227.4l0.2 0.1M108.8 261.8l-0.2 0.5M40.3 182.6l-0.2 0.2M25.4 184.2l0.1 0.5M44.3 243l-0.4 0.2M66.5 201.9l0.2 0.1M38.1 193.4l0.2 0.5M114.2 191.9l-0.1 0.2M78.5 249.6l-0.9 0.7M67.5 203.5l0.9 0.6M78.8 234.5l-0.9 0M42.8 223.9l1 0.4M65.9 248.4l0.7 0.7M104.8 240.4l0.4 0.8M77.3 183.6l-0.9 0.7M74.5 213.5l0.9 0.2M68.8 201.3l1 0.4M22.7 171l-0.8 0.8M77.4 216.7l-0 0.6M11.8 256.2l0.6 0.5M26.2 193.5l0.9 0.4M15.7 191.4l1.1 0.1M112.4 252.4l0.1 0.8M114.3 161.8l0.2 0.3M41.8 266.4l-0.4 0.7M83.1 215.3l0.2 0.8M43.8 174l-0.1 1.1M76.5 179.9l-0.1 0.7M96.3 235.5l0.7 0M76.3 232.3l-0.1 0.3M56.7 171.8l0.5 0.1M113.8 201.3l0.1 0.2M40.4 171.8l1.1 0.2M34.6 172.7l1.1 0.1" stroke="#3a3cb4" stroke-width="2.8" stroke-linecap="round" stroke-opacity="0.85"/>
<path d="M39.1 237.5l0.9 0.8M18.2 229.1l0.7 0.7M56.3 177.7l0.2 0.6M34.6 257.4l0.6 0.3M52 267.8l0.6 0M59.6 164.1l0.3 0.1M49.1 192.6l-0.1 0.2M77.5 172.5l-1 0.2M117 235.9l0.7 0.2M26.3 237l0.3 1.1M103.5 254.7l-0.4 0.9M72.3 179.6l-1 0.6M37.8 226.9l-0.7 0.8M98.7 240.1l0.3 0.7M112.3 236.2l0.1 0.4M87.7 191.2l0.6 0.9M110.3 228.8l-0.7 0.3M18.5 267.7l0.8 0.5M92.3 186.6l0.6 0.5M12.6 197.3l0.3 0.4M123.5 225.9l-0.4 0.2M19.3 178.6l0.4 0.5M87.6 242.9l-0.1 0.2M67.6 186.4l0 0.3M104.7 250.4l0.1 0.6M80.7 204.4l-0.6 0.4M22.5 175.1l0.5 0M19.3 168.8l-1.1 0.2M86 248.1l0.2 0.2M83.2 262.7l0.6 0.2M48.4 171.2l-0.2 0M105.5 238l-0.2 0.7M49.3 180.4l-0.4 0.1M58.1 213.1l-0.7 0.4M72.2 212.2l1 0.1M67.4 197.1l0.5 0.1M34 159.9l0.8 0.7M62 229.7l-0.3 0.2M30.5 223.1l-1 0.6M83.9 265.4l0.2 1.2M109.5 253.9l-0.3 0.5" stroke="#242490" stroke-width="1.6" stroke-linecap="round" stroke-opacity="0.85"/>
<path d="M46.8 225.7l-0.2 0.4M31.4 242.5l-0.1 0.6M86.7 193.7l-0.4 0.5M63.4 176.5l-1.1 0.3M59.7 173.5l0.1 0.5M69.1 203l-0.1 0.3M114.1 209l-0.1 0.8M100.9 234.1l-0.1 0.1M64.7 157.2l-0.7 0.4M110.6 237l0.3 0.3M83.7 259l-0.1 0.8M81.5 267.2l0.5 0.8M46.1 231.6l0.8 0.5M58 181.7l0 0.4M69.8 216.4l0.2 1.1M115.3 178.8l0.1 0.4M83.4 255.1l0.4 0.5M27.2 167.6l-0.4 0.2M31.1 245.4l0.4 0.8M107 259.4l-0.4 0.2M106.4 198.5l0.9 0.2M22.1 221.3l-0.5 0.2M83.7 158l0.2 0.4M63 238.2l-0.5 1M121.8 175.4l-0.1 0.7M75 195.3l-0.3 0.5M53.3 215.4l-0.3 0.1M51.7 173.6l-0.3 0.7M41.1 256.9l-0.6 0.1M21.4 175.9l0.5 0.4M55.5 194.6l0.8 0.5M51.9 214.1l-0.4 0.1M92.6 246.2l0.3 0.5M59.7 176.3l-0.3 0.3M108.2 162.8l-0.5 0.1M38.7 250.9l-0.2 0.1M120.2 218.9l-0.7 0.8M56.2 220.9l-0.1 0.9M88.3 197.5l-0.8 0.1M90.2 193.4l-0.3 0M99.8 228.4l0.9 0.3M21.3 191.4l0.3 0.4" stroke="#242490" stroke-width="2.0" stroke-linecap="round" stroke-opacity="0.85"/>
<path d="M77.1 202.2l-0.1 0.6M19.3 231.4l-0.4 0.4M72.9 169.1l0.2 0.2M34.1 198.7l0.2 0.8M26 212.9l0.8 0.1M70.1 164l0.8 0.8M72.6 217.9l0.6 0.8M35.6 267.5l1 0.1M69.9 262.7l-0.4 0.8M106.4 207.9l0.4 0.9M35 235.7l-0.2 0.7M19.4 231.8l0.3 0.5M42.7 245.9l0.2 0.6M63.3 241l-0.8 0.8M40.9 187.4l-0.5 0.4M17.5 244.5l0.4 0.2M87.1 225.6l0.8 0.8M104.9 198.7l0.3 1M100.1 206.7l0.3 0.3M61.5 235.3l-0.6 0.4M109.3 218.1l-0.6 0.1M32.9 221l-0.4 0.2M44.1 243.3l-0.2 0.8M56.7 178.6l-0.6 0.3M77.7 168.8l0.9 0.4M56.4 185.5l0.2 0.5M95.2 241.5l0 0.4M104.2 247.7l-0.6 0.1M71.5 192.2l0.7 0.4M81.6 252.1l-0.8 0.3M112.9 177.3l-0.6 0.6M112.9 245.3l-0.7 0.4M67.4 221.2l0 0.4M44.5 259.7l-0.6 0.8M43.7 241l0.3 0.5M83 195.1l-0.5 0" stroke="#242490" stroke-width="2.4" stroke-linecap="round" stroke-opacity="0.85"/>
<path d="M85.9 264.7l0.1 0.7M101 254.6l0.6 0.4M109.3 163.1l0.1 0.3M60.2 233.3l-0.8 0.1M77.6 262.7l0.5 0.1M90.9 157.5l-0.5 0.2M9.9 218.1l0.7 0.1M84.8 195.8l-1 0.3M43.5 162.2l-0.2 0.2M11.2 222.2l0.6 0.1M70.3 255l0.2 0.1M77.5 185.5l-0.5 0.4M38.9 263.7l0.3 0.9M19.5 164.7l0.3 0.7M102.3 210.2l0.3 0.2M28.5 166.3l0.4 0.1M75 187.3l0.3 0.7M116.7 202l1.1 0.4M83.8 237l0.5 0.1M10.8 214.5l0.2 0.1M77.2 256.4l-0.9 0.6M115.5 197.4l0.9 0M114 228.9l0.2 0.9M13 190.6l0.5 1M11 204.7l0.8 0.7M71.9 202l-0.9 0.4M60.6 195.9l0.4 0.1M76.6 247.2l0.7 0.6" stroke="#242490" stroke-width="2.8" stroke-linecap="round" stroke-opacity="0.85"/>
<path d="M90.6 259.3l-1.1 0.2M24.8 250.3l0.6 0.4M14.9 264.1l-0.4 0.1M105.1 223.4l0.6 1M38.8 178.1l0.1 1.1M111.9 222.2l0.3 0.5M86.9 254.7l0 0.4M81.8 166.3l0.1 0.4M68.5 241.3l-0.2 0.3M120.2 266.7l-0.4 0.9M38.7 262.9l0.4 0M70.7 251.9l-0.3 0.1M31.1 183.8l0 0.2M111.7 226.1l-0.5 0.4M65.3 185.3l1.1 0.4M71.5 201.4l-0.3 0.2M62.8 173.5l0 1.1M43.9 205l-0.8 0M85.5 224.3l0.2 0.3M46.4 205l0.3 0.8M92.5 191.1l-0.7 0.7M79.8 248.4l0.6 0.5M58.1 189.1l0.4 0.2M37 196l-0 0.6M79.4 265.6l-0.5 0.2M114.5 203.8l-0.4 0.4M45.6 229.5l0.7 0.2M26.4 256.9l0.4 0.4M96.8 233.6l0 0.2M10.8 182l0 0.3M80.2 208.4l0.4 0.1M71.9 214.2l-0.4 0.2M47.1 248.5l0.9 0.5M59.4 203.2l-0.5 0.8M110.8 210.2l-0.1 0.5M67.7 266.1l-1.1 0M108.2 242.9l0.2 0.5M39.7 165.6l-0.4 0.2M61.7 260.5l0.3 0.9" stroke="#4446bc" stroke-width="1.6" stroke-linecap="round" stroke-opacity="0.85"/>
<path d="M78.1 165.6l0.6 1M23.8 252.6l0.1 1M75.6 223.6l-0.8 0.5M31.5 259.7l0.2 1.1M22.2 257.4l0.5 0.7M71.3 223.5l0.2 0.1M11.1 261.1l0.7 0.3M96.1 240.2l-0.4 1.1M72.2 184.2l1.2 0.2M13 195.9l0.3 0.2M17.2 238.9l0.1 0.4M48.8 229.9l-0.3 0.3M25.7 243.4l0.7 0.6M35.8 255.1l-0 0.3M66.5 178.2l0.5 0.6M77.1 268l1.1 0.4M105.6 177.8l-0.5 0.1M101.7 173.9l0.2 0.1M82.3 249.8l0.8 0.4M29.6 177.8l-0.4 0.2M20.4 214.5l0.2 0.3M62 237.1l0.6 0.9M47.4 246.8l-0.2 0.3M23.2 222.6l-0.6 0M70.4 155.7l0.5 1M77.4 241.9l1 0.1M113.3 259.8l0 0.3M53.8 263.2l0.4 0.7M53.4 244.6l0.6 0.6M68.6 182.4l0.3 1M54.7 234.9l-0.4 0.5M38.8 194.8l0.5 0.8M117.9 156.8l-0.5 0.3M96.4 159l-0.5 0.1M9.8 223.3l-0.3 0.3M123.4 231.8l1 0.2M72.7 231.7l-0.9 0.8M58.5 157.5l1.1 0.2M81.7 214.6l0.3 0.2M68 231.7l-0.9 0.2M114.2 195.4l-0.1 0.5M10.8 256.1l-0.3 0.6" stroke="#4446bc" stroke-width="2.0" stroke-linecap="round" stroke-opacity="0.85"/>
<path d="M91.7 265.6l0.2 0.6M51.3 185l0.7 0.6M42.6 217l0 1.1M32.2 232.4l-0.7 0M115.8 155.9l0 0.3M27.2 199.3l0.7 0.9M73.2 219.7l-0.1 0.5M102.6 171.7l-0.7 0.2M106.5 183.8l-0.1 0.6M15.6 167.7l-0.1 0.7M52.6 226.6l-0.5 0.2M24.5 236.8l0.8 0.7M31.7 164.5l0.6 0.6M46.5 237.2l-0.5 0.2M30.6 189l-0.3 0.4M95.1 195.3l0.8 0.5M115.2 177.1l0.5 0.1M24.1 198.5l0.4 0.1M60.6 217.9l1.2 0M85.7 250.8l0.4 0.2M52.4 248.3l-0.8 0.3M85.8 260.4l0.6 1M65.9 244.8l-0.4 0M86.1 202.1l0.6 0.5M26.5 182.7l0.8 0.7M93.2 254.5l-0.3 1.1M67.2 264.8l-0.4 0.4M101.2 156.8l0.5 0.5M41.2 158.7l-0.1 0.8M56.2 263.5l-0.3 0.8M91.3 224.3l0.4 1M118 197.7l-0.2 0.5M32.7 267.2l-1 0.4M100.8 171.4l-0.3 0.6M58.8 227l0 0.3M59.8 198.5l-0.4 0.3M115.5 195.8l0.2 0.7M13.9 216.9l-0.7 0.6M106.3 206.8l-0 0.4M26.8 262.8l0.4 0.6M52 254.7l-0.3 0.1M53.3 168.8l-0.2 0.2M31.9 209l0.9 0.3M66 233.4l-0.2 0.3M47.4 207l0.4 0.3M120.1 199.6l-0.4 0.7" stroke="#4446bc" stroke-width="2.4" stroke-linecap="round" stroke-opacity="0.85"/>
<path d="M66.8 251.4l-0.3 0.8M13.8 187.9l0.7 1M114.2 269.1l-0.3 0.3M16.5 225.4l0.2 1M90.6 198.1l-0.6 0.8M13 214.5l0 1.1M84.4 157.7l-0 0.4M28 186.4l-0.8 0.2M43.6 180.3l0.1 0.9M15.2 184.6l0.1 0.2M48.3 246.4l-1 0.5M19.8 253.3l0.8 0.7M13.1 156.4l0.2 0.2M54.7 266.6l1 0.6M34 176.2l-0.9 0.6M9.3 169l-0.4 0.4M117.9 168.6l-0.4 0.5M33.4 206.4l-0.6 0.4M92.5 239.6l-0.3 0.5M53.3 160.9l-0.1 0.5M96.7 216.4l0.3 0.3M98 220.9l0 0.6M93.8 224.5l-0.8 0.6" stroke="#4446bc" stroke-width="2.8" stroke-linecap="round" stroke-opacity="0.85"/>
<path d="M42.3 177.1l1.2 0M120.5 197.8l-0.8 0.1M113.3 171.1l-0.6 0.3M96.4 243.5l0.3 0.2M68.4 206.5l-0.4 0.1M91.2 171l-0.5 0.6M79.2 174.4l-0.9 0.3M78.2 210.2l0.6 0.3M95 228.5l0.3 0.2M72.2 269.7l-0.4 0.4M81.2 231.8l0.5 0.7M122.9 256.7l-0.3 0.1M18.7 222.3l-1 0.2M92.6 168.3l0.3 0M98 160.9l0.3 0.2M91.5 260l0.4 0.5M74.1 168.9l-0.1 1.1M118.6 210.1l0.2 0.3M104.3 199.4l-0.9 0.5M102.8 235l-0.5 0.2M115.3 199.9l-0.7 0.3M28.3 193l-0.6 0.3M111 242.2l-0.3 0.8M34.3 170.5l-0.9 0.6M50.7 254.9l0.1 0.8M57.7 174.2l0.7 0.2M63.4 246.7l-0.2 0M72.5 172.4l-0.9 0.7M14.5 248.4l0.1 0.2M9.1 205.9l0.3 0.4M49.4 169.9l-0.8 0.7M84.2 194.6l0.7 0.3M86.8 166.8l-0.2 0.3M36.1 229.7l-0.9 0.2M90.8 182.6l-0.1 0.7M68.3 221.4l0.1 0.2M91.6 179.2l-0.2 1M118.4 208.9l0 1M42.1 238.6l0.1 0.8M100 215.3l-0.7 0M45.8 233.8l0.9 0.8" stroke="#302c9c" stroke-width="1.6" stroke-linecap="round" stroke-opacity="0.85"/>
<path d="M46.4 250.6l0.9 0M96 161.8l-0.2 0.3M50.3 205.8l0.8 0.2M99.1 222.8l0.2 1.2M41.4 207.2l0.1 0.7M33.3 176.8l-0.7 0M123 197.7l-1 0.3M111.1 190l0.4 0.9M45.7 157.5l0.1 0.2M69.4 175.3l-0.1 0.6M62.8 169.2l0.4 0.3M19.6 200l-0.3 0M123.5 162.8l-0.5 1M17 250.9l0.6 0.9M104.4 199l0.5 0.6M89.4 260.4l1.1 0.2M85.7 206l0 0.6M17.1 247.7l0.1 0.3M76.7 260.5l0.3 0.6M23.9 260.3l-0.2 0.9M114.6 251.9l0.6 1M119.6 232.5l0.9 0.4M9 192.6l0.9 0.6M120.4 176.5l-0.6 0.8M21.5 227l-0.9 0.1M98.2 187.2l-0.8 0.5M10.9 262l-0.5 0.2M25.3 243.9l0.6 0.8" stroke="#302c9c" stroke-width="2.0" stroke-linecap="round" stroke-opacity="0.85"/>
<path d="M61.6 170.7l0.5 0.6M49.4 164.1l-0.6 0.3M14.2 175.4l0.7 0.4M41.1 246.9l0 0.4M113.3 240.5l-0.2 0.5M90.3 265l0.9 0.1M23.3 251.6l-0.2 0.9M70.3 228.3l-0.4 0.6M26.7 196.9l-0.1 0.5M81.8 172.3l-0.2 0.2M107 181.6l-0.2 0.3M118 233.7l0.1 0.4M69.1 211.8l0.2 0.1M93.4 197.4l0.2 0M25.5 192.1l0.6 0.6M48 193.7l0.1 1M54.8 175.6l0.9 0.3M122.5 161.8l0.3 0.4M36.5 248.6l-0.4 0.2M26.8 230.6l-0.2 0.4M88 177l-0.7 0.1M93.7 213.9l-0.3 1.1M50.2 186.1l-0 0.9M9.3 269.3l-0.4 0.3M119.8 237.1l-1 0.4M104.5 169.5l0.3 0.4M52.9 239.2l0.3 0.3M57.5 179.1l1.2 0.1M118.2 235.6l-0.2 0.9" stroke="#302c9c" stroke-width="2.4" stroke-linecap="round" stroke-opacity="0.85"/>
<path d="M120.6 162.2l0.5 0.2M87.4 228.8l-0.5 0.1M25.6 194.5l0.6 0.8M75.3 183.8l0.8 0.8M96.4 194l0.5 0.6M108.4 261.5l-0.3 0.4M59.9 234.2l-0 0.7M30 203.7l0.6 0.8M72.9 255.6l-0.1 0.6M88.6 251l-0.4 1.1M88.1 173.9l-0.8 0.2M36.6 194.6l0 0.5M114 269.3l0.5 0.2M109.7 206.9l-0.4 0.5M16.5 174.6l-0.6 0.1M42.2 158.9l-0.5 0M100.8 208.8l0.2 0.4M88.1 164l-0.7 0M114.6 226.1l-0.7 0.2M11.8 187l0.2 1.1M67.7 226.4l0.5 0.2M47.8 238l-0.4 1M73.5 261.9l0.3 0.4M57.1 209.3l-0.9 0.3M46.8 246.5l0.3 0.7M49.9 214l0.4 0.7M46.3 217.6l-0 0.9M50.1 181.9l0.4 1M69.2 263.4l0.3 1M73.7 248l-0 0.5M20.5 232.8l-0.9 0.3M72.9 156.7l-0.3 0.3M57.1 169l0.3 0.2M46 176.1l0.1 1.2M75.3 200.1l0.3 0.1M41.1 216.3l-0.3 0.3M117.3 218.8l0.7 0.2M111.3 244l0.2 0.3M12.6 189.9l0.6 0.3M93 240.5l-0.5 0.6" stroke="#302c9c" stroke-width="2.8" stroke-linecap="round" stroke-opacity="0.85"/>
<path d="M63.4 225.8l0.9 0.7M29.1 182.4l-0.2 0.2M12.5 180.3l-0.7 0.2M31.2 197.5l-0.3 0.1M79.7 222.1l0.2 0.1M40.1 257.9l-0.5 0.2M12.1 247.6l-0.4 0.9M46.9 167.3l0 0.8M102.5 263.7l-0 0.5M19.9 159.3l-1.1 0.3M96.8 236.2l-0 0.3M59.3 264.6l1.1 0.1M108.4 229.7l0.6 0.2M113.8 183.9l0.3 0.1M22.5 212.2l-0.3 0.2M60.6 267.8l-0.8 0.8M103.6 237.7l1 0.2M68.4 223.1l-0.3 0.1M89.5 177.5l0.3 0.1M61.6 237.7l-0.1 0.5M16.8 215.4l-0.4 0.1M10.6 248l0.6 0.8M102.2 238.8l0.2 0.6M72.2 237.4l0.5 0.2M89.8 254.2l-0.6 0.7M14.4 237.1l0.5 0.6M67.1 232.5l0.2 0.2M103 262.9l0.6 0.9M92.1 155.6l-0.3 1.1M41.6 192.8l-0.4 0.8M86.4 239.1l0.3 0.1M35.4 228.5l0.5 0M82 268.6l0.2 0.1M45.8 230l0.3 0M98.3 193.4l-0.8 0.2M118.6 205.7l0.9 0.7M35.9 236l-0.9 0.2M53.9 242.3l0.2 0.6M123.8 238.1l0.4 0.4M85.2 232l0.6 0.8" stroke="#3a38ac" stroke-width="1.6" stroke-linecap="round" stroke-opacity="0.85"/>
<path d="M24.9 160.6l0.5 0.7M48 208.6l-0.7 0.4M53.3 171.4l0.1 0.4M89.5 184.8l0.1 0.2M111.2 235.3l-1 0.5M78.4 167.9l0.3 0.2M54.6 197.2l-0.4 0M44.7 166.9l0.1 1.1M91.5 157.3l-0.7 1M64.2 170.7l-0.3 0.1M34.1 242.9l0.2 0.5M15.9 257.2l-1.1 0M95.1 196.7l-0.6 0.1M116.1 180.8l-0.8 0M30.5 168.5l0.3 0.8M81 233.7l0.7 0.8M9.9 204.4l-0.5 0.5M54.6 218.2l0.2 0.9M76 160l-0.2 0.1M34.7 250.2l1.1 0.3M66.8 195.7l1 0.2M49.9 266.2l-0.3 0.4M74.6 219.4l1 0.5M71.9 241.6l-0.2 0.7M54.3 256.5l0.5 0.2M104 158.1l-1 0.5M122.4 194.2l0.3 0.4M113.3 244l0.6 0.4M48.8 202l-0.7 0.4M36.8 267.3l-0 0.5M34.3 170.8l-0.2 0.2M123.7 241.5l-0.9 0.7M43.3 234.2l0.6 0.7M63.3 188.2l-0.2 1M45.7 176.6l0.2 0.2" stroke="#3a38ac" stroke-width="2.0" stroke-linecap="round" stroke-opacity="0.85"/>
<path d="M71.5 264l0.3 0.1M34.5 183.4l0.3 1.1M103.7 233.5l-0.3 0M64.7 204.1l-0.6 0.4M65 244.4l0.3 0.5M74 166.8l0.2 0.1M19.8 210.6l-0.5 0.5M86.4 202.1l0.2 0.3M39.3 243.4l-0.6 0.5M45.9 189.9l0.4 0.4M67.1 167.5l0.3 0.1M96 211.5l-0.2 0.1M93.8 193.4l0.2 0.7M111 166.6l0.8 0.5M85.8 193.4l0.9 0.1M113.3 216.9l-0.4 0.9M98.4 215.2l-0.2 0M36.9 213.6l-0.2 0.8M13.9 261.9l-0.7 0.1M43 222l-0.5 0M85.9 169.7l0.3 0.2M25.1 256.9l0.3 0.1M45.5 243.7l0.2 0.1M78.9 238.7l-0.5 0.3M74.6 212.7l0.1 1M50.8 254l0.1 0.3M101.4 242.3l0.5 0.6M36.3 199.9l-0.1 0.5M44.7 163.5l-0.7 0.9M87.4 226.2l-0.5 1M44.6 253.2l0.5 0.2M113.2 222.5l0.1 0.4M32.9 215.6l-0.9 0.6M116.2 246.5l0.4 0.3M109.6 195.9l-0.2 0.9M107.7 187.2l0.7 0.9M78.1 159.7l-1 0.5" stroke="#3a38ac" stroke-width="2.4" stroke-linecap="round" stroke-opacity="0.85"/>
<path d="M65.3 157.3l0 1M44.3 178.4l0.5 0.7M110.8 256.7l0.7 0.8M57 197.5l-0.5 0.5M111.1 178.7l0.9 0M21 162.8l0.3 0.3M36.1 208.5l0 1.1M69.7 239.1l-0.2 0.1M12.3 257.4l0.3 0.2M60.4 179.7l-0.3 1M89.7 171.8l-1.1 0M108.9 218.1l0.3 0.2M103.5 177.1l-0.6 0.3M71.9 234.9l-0.2 1M111.2 193.1l-0.3 0.9M85.2 180.7l-0.7 0.9M90.2 182.3l-0.7 0.7M104.9 212.4l0.3 0.5M34.7 245.9l-0.2 0M53.5 187.9l-0 0.3M122.1 200.3l-0.2 0.2M53.4 168.6l-0.2 0.4M118.4 194l-0 0.6M95.1 245.9l-0.3 0.6M118.5 199.4l-0.5 0.8M9.7 196.4l-0.2 0.2M106.9 177.9l-0.3 0.9M34.6 260.3l-0.4 0M13.6 188.5l-0.3 0.4M63.6 158.9l-0.3 0.4M20.2 263l1.1 0.3M70.7 260.7l-0.4 1.1M121.4 256.7l1 0.2" stroke="#3a38ac" stroke-width="2.8" stroke-linecap="round" stroke-opacity="0.85"/>
<path d="M70.2 255.9l0.2 0.5M72.6 261.1l-0.6 0.4M53.6 264.2l0.4 0.4M15.4 248.3l-0.1 0.5M109.8 162.3l0.4 0M71.2 194.4l0.3 0.2M121.5 209.8l-0.7 0.2M80.1 167.6l-0.3 0.4M116.8 227.9l-0.1 0.9M110.3 241l0.3 0.2M122.5 263.2l-0 0.3M29.4 182.6l-0.5 0.2M57 184.8l-0.4 0.5M110.8 162l-0.8 0.2" stroke="#2a9a9a" stroke-width="1.6" stroke-linecap="round" stroke-opacity="0.85"/>
<path d="M28.2 204.8l0.6 0.2M12 256.5l-0.2 0M49.7 194.1l-0.4 0.5M57.1 207.6l0 0.5M70.7 160.9l-0.2 0.1M71.9 203.5l-0.6 0.8M122.3 225.7l0.5 0.4M36.5 160.6l-0.3 0.5M106.6 181.7l0.1 0.8M102 168l0.8 0M59.8 233.2l-0.7 0.5M86.7 266.7l-0.4 0.6M120.9 195.6l-0.4 0.3M21.5 228.5l-0.4 0.7" stroke="#2a9a9a" stroke-width="2.2" stroke-linecap="round" stroke-opacity="0.85"/>
<path d="M60.2 188.2l-0.1 0.5M97.3 189.1l0.8 0.3M66.2 226.9l-0.2 0.4M52.5 233.3l0.2 0.8M16 174.1l0.2 0.1M111.5 220.9l-0.6 0.2M16.7 171l0.3 0.2M31.3 172l0.7 0.4M116.7 175.9l-0.4 0.3M91.3 157.8l0.5 0M57.4 163.9l0.2 0.3M15.8 158.6l0.1 0.6M55.9 163.3l-0.9 0.2M28.7 191.8l-0.2 0.7M14.5 179.9l0.3 0.3M40.9 184.5l0.6 0.5M109 181.8l-0.1 0.4" stroke="#30a0b0" stroke-width="1.6" stroke-linecap="round" stroke-opacity="0.85"/>
<path d="M93.2 202.6l-0.4 0.1M36.8 256.7l0.2 0M14.3 193.6l-0.6 0.7M110.3 222.2l0.1 0.4M76.2 219.7l0.3 0.8M62.1 260l-0.3 0.9M91.1 193.6l0.7 0.5M78.1 174.7l0.8 0.4M75 167.8l-0 0.5M49 264l0.2 0.1M64.8 199.4l0.6 0" stroke="#30a0b0" stroke-width="2.2" stroke-linecap="round" stroke-opacity="0.85"/>
<path d="M30 236.9l-0.1 0.3M94.2 266.1l-0.5 0.8M88.1 238.6l0.4 0.3M13 219.8l-0.4 0.2M103.8 210.4l0 0.8M94.4 263.2l-0.2 0.4M50.2 221.1l-0.5 0.4M37.1 200.7l0.1 0.5M75.6 182.3l0.2 0.4M37.3 218.2l-0.4 0.1M117 243.1l0.5 0.1M101.9 232.4l0.2 0.2M122.7 204.7l-0.2 0.7M60.3 159l0.4 0M57.9 205l0.2 0M100.8 160.4l-0.7 0.1M80.7 193.8l0 0.5M88.7 168l-0.7 0.2" stroke="#3a8ac8" stroke-width="1.6" stroke-linecap="round" stroke-opacity="0.85"/>
<path d="M68.4 266.5l-0.3 0.2M15.5 188.1l-0.1 0.5M19.9 157.4l0.3 0.8M31.5 191.3l0 0.3M88.1 222.8l-0.7 0.5M13.2 162.5l0.4 0.7M20 175.4l0.3 0.1M18.4 244l0.2 0.9M95.2 267.8l-0.4 0.7M83.9 248.3l-0.1 0.7M28.2 267.3l0.2 0.1M23.4 168.7l0 1M60 162.8l-0.2 0.4M86 183.4l-0.3 0M24.4 262.4l0.1 0.6M75.7 179.8l-0.4 0.3" stroke="#3a8ac8" stroke-width="2.2" stroke-linecap="round" stroke-opacity="0.85"/>
<path d="M83.2 252.2l-0.2 0.2M32.5 179.3l-0.5 0.5M105.3 181.9l-0.6 0.3M28.3 206.7l-0.7 0.2M113.7 194.4l0 0.2M79.3 236l-0.1 0.3M53.9 173.4l-0.4 0M114.4 208.6l-0.1 0.4M75.8 186.7l-0.1 0.1M59.5 234.4l-0.6 0.2" stroke="#a02a90" stroke-width="1.3" stroke-linecap="round" stroke-opacity="0.85"/>
<path d="M16.3 259.8l0.1 0.1M25.6 246.3l-0.4 0.4M37.7 210.8l-0.1 0.3M54.3 170.4l0 0.2M82 207.1l0.3 0.7M41.6 217l0.1 0.3" stroke="#a02a90" stroke-width="1.8" stroke-linecap="round" stroke-opacity="0.85"/>
<path d="M38.4 180.2l0.5 0.2M34.4 219.8l0.2 0.5M82.6 181.9l0.3 0.6M109.3 177.1l0.1 0.3M11.2 210.6l0 0.7M115.6 251l-0.1 0.5M104.5 255.8l0.3 0.6M29.5 162.1l0 0.1M116.7 242.8l-0.2 0.1M25.2 184.1l0.1 0.6M102.9 176.4l-0.5 0.1M84.2 206.6l-0.7 0.4" stroke="#c02870" stroke-width="1.3" stroke-linecap="round" stroke-opacity="0.85"/>
<path d="M20.1 234.2l0.1 0.2M53.9 188.3l0.3 0.5M25.7 259l0 0.2M109.2 175.8l0.5 0.1M96.1 221.9l-0.3 0M33.7 177.2l-0.1 0.1M105.9 183.6l0.7 0.2M100.7 209.2l0.2 0.7" stroke="#c02870" stroke-width="1.8" stroke-linecap="round" stroke-opacity="0.85"/>
<path d="M32.2 210l-0.3 0.1M97.5 250.3l0 0.3M54.7 191.3l-0.4 0.3M20.5 254.2l-0.2 0.3M38.6 233.3l-0.3 0.3M81.6 218.9l-0.4 0.3M120.4 183.2l0.4 0.1M120.7 173.1l-0.1 0.2M115.7 190.4l0.4 0.5M91.6 264.7l-0.6 0.2M22.2 207.9l0.2 0.5M33 223.8l-0.1 0.1M21.7 237.8l0.3 0.2" stroke="#8030a0" stroke-width="1.3" stroke-linecap="round" stroke-opacity="0.85"/>
<path d="M23.6 251l-0.1 0.2M83.9 208.4l-0.5 0.4M84.2 165.1l0.3 0.5M55 163.1l0 0.5M34.3 185.4l0.1 0.2M102.9 236.8l0.2 0.5M33.8 196.6l0.1 0.1M99.6 167.6l0.5 0.5M11.4 174.1l-0.2 0.2M39.6 235.3l0.4 0.6M56.5 195.6l-0.2 0.1M71.3 195.4l-0.1 0.2" stroke="#8030a0" stroke-width="1.8" stroke-linecap="round" stroke-opacity="0.85"/>
<path d="M15.8 190.7l0.3 0.5M62.3 226l-0.6 0M16.9 254l0.3 0.4M61.5 252.9l0.2 0.1M49.9 217.8l0 0.4M104.2 266.1l0.4 0M110.2 212l-0.5 0.6M119.6 267.6l-0.3 0.7M110 263.1l-0.3 0.6" stroke="#d03050" stroke-width="1.3" stroke-linecap="round" stroke-opacity="0.85"/>
<path d="M91.6 226.1l-0.1 0.7M24.6 199.2l0.3 0.2M44.5 243.6l0.1 0.2M74.6 233.1l0.2 0.1M70.2 208.6l-0.6 0.5M83.2 203l0.3 0.3M44.2 176l-0.4 0.6M118.9 195l-0.6 0.4M10.7 234.3l-0.1 0.2M99.9 263l0.8 0.1" stroke="#d03050" stroke-width="1.8" stroke-linecap="round" stroke-opacity="0.85"/>
<path d="M52.3 179.3l0.7 0M45.5 182.6l-0 0.3M53.8 176.3l-0.3 0.6M45.3 179.1l1 1M42.4 187.2l0.4 1M45.2 184.2l-0.2 1.7M45.1 175.2l0.1 1M48.6 183.7l-0 0.9M54.2 174.7l-0.2 0.4M43.9 185.5l-0 0.4M45 181.3l0.7 0.5M54.9 182.8l0.1 1.6M46.3 186.1l-0.6 0.1M52.9 175.5l0.8 0.1M54.9 181l-0.5 1.6M54.9 177.7l0.3 0.5M47.1 182.1l1.4 0.7M48.4 186.1l-1 0.6M46.4 187l0.8 0.2M49.6 176.9l0.1 0.9M50.3 187.7l0.3 0.5M53.7 185.8l-0 0.5M78.2 173.3l1.3 0.1M76.7 167.6l-0.9 0.5M65.4 167.6l0.9 1.5M67.6 173.2l-0.3 0.6M79.6 171.9l-0.3 0.9M84.1 164.7l-1.3 0.9M81.9 166.1l0.4 0.6M80.6 169.1l0.3 0.2M72.5 164.5l1.2 0M73.9 173.5l-1.1 0.8M84.2 170.2l0.7 1.2M73 173l-0.5 1.1M79.6 167.1l-0.6 1.2M79.5 166.4l-0.2 1.3M73.2 174.1l0 1.7M85 165.5l-0.7 1M72.8 166.4l0.4 0.3M67.2 172.8l0.1 0.4M73.8 167.9l-0.5 0.1M82 169.2l-1 0.4M84.7 168.2l-1.1 1.4M84 169.8l-1.2 0M113.8 186.5l0.8 0.2M110.4 177.6l-0.5 0.3M115.6 181l-0.8 1M107.4 179.8l1.2 1.3M116.2 187.2l-0.2 0.5M112.2 179.9l-0.8 0.2M116 186.5l1.1 0.8M110.3 185l-0.3 0.2M114.9 182.7l-0 1.3M115 178l-0.5 1.1M112.4 178.1l0.3 0.3M106.1 184.7l0.5 1.3M115.1 180.6l1.3 1M113.9 180.4l-0.3 0.7M114.3 170l-1.2 0.5M108.9 175.4l0.3 0.9M114.6 177.8l0.6 1.1M106.2 181.9l-0.4 0.2M23.5 170.8l0.8 0.9M29.6 168.2l0.3 0.6M25.5 166.8l0.4 0.1M27.2 171.1l0.4 1.7M20.1 163.2l0.2 1.5M26.8 167.7l-1.1 0.7M29.3 164l-0 0.4M31.5 168.5l-0.7 0.1M25.7 166.9l-0.9 1.2M22.8 164l-0.1 0.4M20.1 167.3l-0.1 0.5M28.8 163.2l0.2 0.5M97.2 205.5l-1.2 0.7M86.2 208.4l-0.9 1.3M97.6 200.4l-1.5 0.8M87.7 201l1.5 0.6M100.5 205.8l-0.1 0.3M96.1 210.6l-0.5 0.7M87.5 203l0.3 0.9M87.2 205.1l-1 0.8" stroke="#3cbc78" stroke-width="2.2" stroke-linecap="round" stroke-opacity="0.75"/>
</g></g>
<rect x="40" y="172.3" width="18.5" height="18.6" fill="none" stroke="#e0b828" stroke-width="1.0" stroke-dasharray="1.3 0.8"/>
<rect x="79.5" y="223.8" width="18" height="18.2" fill="none" stroke="#e0b828" stroke-width="1.0" stroke-dasharray="1.3 0.8"/>
<text x="18.30" y="252.00" font-size="8.9" fill="#78cc5a">PIM2</text>
<text x="18.30" y="263.90" font-size="9.1" fill="#e03838">CD45</text>
<text x="92.80" y="262.40" font-size="9.8" fill="#fff">50 µm</text>
<line x1="99.50" y1="264.60" x2="115.50" y2="264.60" stroke="#fff" stroke-width="1.1"/>
<rect x="125.30" y="157.80" width="54.20" height="53.60" fill="#000"/>
<g clip-path="url(#ct)"><g filter="url(#bl2)">
<ellipse cx="130.3" cy="172.8" rx="5.5" ry="10.0" fill="#38c840" transform="rotate(15 130.3 172.8)"/>
<ellipse cx="132.8" cy="172.8" rx="3.5" ry="8.0" fill="#000" transform="rotate(15 132.8 172.8)"/>
<ellipse cx="153.8" cy="163.8" rx="1.6" ry="5.5" fill="#40c040" transform="rotate(10 153.8 163.8)"/>
<ellipse cx="132.3" cy="198.8" rx="7.5" ry="6.5" fill="#2ea838"/>
<ellipse cx="147.3" cy="202.8" rx="7.0" ry="3.5" fill="#34b840" transform="rotate(-10 147.3 202.8)"/>
<ellipse cx="139.3" cy="192.8" rx="3.0" ry="2.5" fill="#30b040"/>
<ellipse cx="166.3" cy="195.8" rx="6.5" ry="5.5" fill="#3ccc44"/>
<ellipse cx="162.3" cy="182.8" rx="1.5" ry="1.5" fill="#60d060"/>
<ellipse cx="169.3" cy="166.8" rx="1.5" ry="1.2" fill="#60d060"/>
<ellipse cx="171.3" cy="160.8" rx="2.5" ry="1.2" fill="#40b040"/>
<ellipse cx="143.8" cy="164.8" rx="6.0" ry="5.4" fill="#c8204a"/>
<ellipse cx="165.3" cy="205.3" rx="4.8" ry="3.5" fill="#d02058"/>
<ellipse cx="131.3" cy="160.3" rx="3.2" ry="2.0" fill="#3040b8"/>
<ellipse cx="144.3" cy="165.3" rx="3.3" ry="3.0" fill="#3a4ad0"/>
<ellipse cx="158.3" cy="166.8" rx="6.5" ry="5.0" fill="#3444c4" transform="rotate(15 158.3 166.8)"/>
<ellipse cx="154.3" cy="173.8" rx="5.5" ry="4.5" fill="#3848d0"/>
<ellipse cx="165.3" cy="163.8" rx="4.0" ry="3.5" fill="#2e3eb8"/>
<ellipse cx="167.3" cy="176.8" rx="5.0" ry="5.5" fill="#3040c0"/>
<ellipse cx="176.3" cy="169.8" rx="3.0" ry="4.5" fill="#3444c8"/>
<ellipse cx="161.3" cy="185.8" rx="5.0" ry="4.5" fill="#3a4ad0"/>
<ellipse cx="172.3" cy="184.8" rx="4.0" ry="4.0" fill="#2c3cb4"/>
<ellipse cx="148.3" cy="184.8" rx="6.5" ry="6.0" fill="#3646cc"/>
<ellipse cx="145.3" cy="192.8" rx="5.5" ry="5.0" fill="#3040c4"/>
<ellipse cx="136.3" cy="187.8" rx="3.8" ry="3.2" fill="#3444c8"/>
<ellipse cx="172.3" cy="193.8" rx="4.5" ry="5.0" fill="#3a4ad2"/>
<ellipse cx="128.3" cy="197.8" rx="3.0" ry="3.5" fill="#3040c0"/>
<ellipse cx="170.3" cy="207.8" rx="6.0" ry="3.5" fill="#3646cc"/>
<ellipse cx="155.3" cy="199.8" rx="3.0" ry="2.5" fill="#3040c0"/>
<ellipse cx="137.3" cy="207.8" rx="3.0" ry="2.5" fill="#2a3ab0"/>
<ellipse cx="133.3" cy="198.8" rx="3.0" ry="3.0" fill="#3040c0"/>
<ellipse cx="151.3" cy="177.8" rx="3.0" ry="2.5" fill="#2a3ab0"/>
<ellipse cx="149.3" cy="188.8" rx="1.0" ry="1.0" fill="#70c0e8"/>
<ellipse cx="158.3" cy="181.8" rx="1.2" ry="1.0" fill="#80e080"/>
</g></g>
<rect x="125.30" y="215.40" width="54.20" height="53.50" fill="#000"/>
<g clip-path="url(#cb)"><g filter="url(#bl2)">
<ellipse cx="161.8" cy="223.7" rx="5.0" ry="4.7" fill="#3848c8"/>
<ellipse cx="161.8" cy="223.7" rx="3.8" ry="3.5" fill="#3040b8"/>
<ellipse cx="171.7" cy="224.5" rx="9.0" ry="4.4" fill="#3848c8" transform="rotate(-55 171.7 224.5)"/>
<ellipse cx="171.7" cy="224.5" rx="6.8" ry="3.3" fill="#3040b8" transform="rotate(-55 171.7 224.5)"/>
<ellipse cx="126.8" cy="238.2" rx="3.2" ry="5.5" fill="#3848c8"/>
<ellipse cx="126.8" cy="238.2" rx="2.4" ry="4.1" fill="#3040b8"/>
<ellipse cx="125.8" cy="226.4" rx="2.0" ry="3.5" fill="#3848c8"/>
<ellipse cx="125.8" cy="226.4" rx="1.5" ry="2.6" fill="#3040b8"/>
<ellipse cx="140.5" cy="244.6" rx="6.6" ry="4.6" fill="#3848c8"/>
<ellipse cx="140.5" cy="244.6" rx="4.9" ry="3.4" fill="#3040b8"/>
<ellipse cx="170.3" cy="248.9" rx="7.4" ry="6.8" fill="#3848c8"/>
<ellipse cx="170.3" cy="248.9" rx="5.6" ry="5.1" fill="#3040b8"/>
<ellipse cx="149.8" cy="254.4" rx="4.0" ry="4.5" fill="#3848c8"/>
<ellipse cx="149.8" cy="254.4" rx="3.0" ry="3.4" fill="#3040b8"/>
<ellipse cx="156.3" cy="260.4" rx="6.5" ry="5.5" fill="#3848c8"/>
<ellipse cx="156.3" cy="260.4" rx="4.9" ry="4.1" fill="#3040b8"/>
<ellipse cx="131.3" cy="261.9" rx="7.0" ry="6.0" fill="#3848c8"/>
<ellipse cx="131.3" cy="261.9" rx="5.2" ry="4.5" fill="#3040b8"/>
<ellipse cx="169.3" cy="249.4" rx="2.5" ry="2.2" fill="#1a2680"/>
<ellipse cx="155.3" cy="261.4" rx="2.2" ry="2.2" fill="#1e2a88"/>
<ellipse cx="173.3" cy="246.4" rx="1.5" ry="1.5" fill="#1a2680"/>
<ellipse cx="155.8" cy="240.9" rx="4" ry="3.5" fill="none" stroke="#3a2a70" stroke-width="0.8"/>
<ellipse cx="174.1" cy="263.6" rx="0.5" ry="0.5" fill="#40a060"/>
<ellipse cx="170.1" cy="259.6" rx="0.5" ry="0.5" fill="#60b040"/>
<ellipse cx="144.0" cy="245.7" rx="0.5" ry="0.5" fill="#60b040"/>
<ellipse cx="165.3" cy="248.8" rx="0.5" ry="0.5" fill="#60b040"/>
<ellipse cx="130.2" cy="219.7" rx="0.5" ry="0.5" fill="#b0c040"/>
<ellipse cx="163.8" cy="263.4" rx="0.5" ry="0.5" fill="#a04040"/>
<ellipse cx="143.9" cy="267.0" rx="0.5" ry="0.5" fill="#40a060"/>
<ellipse cx="143.3" cy="227.1" rx="0.5" ry="0.5" fill="#40a060"/>
<ellipse cx="141.8" cy="242.7" rx="0.5" ry="0.5" fill="#60b040"/>
<ellipse cx="178.2" cy="258.2" rx="0.5" ry="0.5" fill="#a04040"/>
<ellipse cx="171.3" cy="227.8" rx="0.5" ry="0.5" fill="#40a060"/>
<ellipse cx="174.2" cy="254.3" rx="0.5" ry="0.5" fill="#40a060"/>
<ellipse cx="160.6" cy="252.6" rx="0.5" ry="0.5" fill="#40a060"/>
<ellipse cx="157.9" cy="225.1" rx="0.5" ry="0.5" fill="#a04040"/>
<ellipse cx="155.8" cy="256.7" rx="0.5" ry="0.5" fill="#60b040"/>
<ellipse cx="168.5" cy="234.1" rx="0.5" ry="0.5" fill="#b0c040"/>
<ellipse cx="128.4" cy="262.5" rx="0.5" ry="0.5" fill="#40a060"/>
<ellipse cx="142.9" cy="245.3" rx="0.5" ry="0.5" fill="#40a060"/>
<ellipse cx="177.7" cy="226.3" rx="0.5" ry="0.5" fill="#40a060"/>
<ellipse cx="148.6" cy="226.1" rx="0.5" ry="0.5" fill="#b0c040"/>
<ellipse cx="130.8" cy="245.9" rx="0.5" ry="0.5" fill="#b0c040"/>
<ellipse cx="135.1" cy="231.7" rx="0.5" ry="0.5" fill="#60b040"/>
<ellipse cx="148.0" cy="219.8" rx="0.5" ry="0.5" fill="#a04040"/>
<ellipse cx="153.0" cy="225.5" rx="0.5" ry="0.5" fill="#40a060"/>
<ellipse cx="151.8" cy="241.0" rx="0.5" ry="0.5" fill="#a04040"/>
<ellipse cx="164.8" cy="239.3" rx="0.5" ry="0.5" fill="#b0c040"/>
<ellipse cx="135.1" cy="245.1" rx="0.5" ry="0.5" fill="#40a060"/>
<ellipse cx="169.0" cy="226.7" rx="0.5" ry="0.5" fill="#40a060"/>
</g></g>
<line x1="222.20" y1="165.60" x2="222.20" y2="243.90" stroke="#161616" stroke-width="1.3"/>
<line x1="221.60" y1="243.30" x2="259.50" y2="243.30" stroke="#161616" stroke-width="1.3"/>
<line x1="218.20" y1="243.30" x2="222.20" y2="243.30" stroke="#161616" stroke-width="1"/>
<text x="215.80" y="246.70" font-size="9.6" text-anchor="end">0</text>
<line x1="218.20" y1="227.88" x2="222.20" y2="227.88" stroke="#161616" stroke-width="1"/>
<text x="215.80" y="231.28" font-size="9.6" text-anchor="end">20</text>
<line x1="218.20" y1="212.46" x2="222.20" y2="212.46" stroke="#161616" stroke-width="1"/>
<text x="215.80" y="215.86" font-size="9.6" text-anchor="end">40</text>
<line x1="218.20" y1="197.04" x2="222.20" y2="197.04" stroke="#161616" stroke-width="1"/>
<text x="215.80" y="200.44" font-size="9.6" text-anchor="end">60</text>
<line x1="218.20" y1="181.62" x2="222.20" y2="181.62" stroke="#161616" stroke-width="1"/>
<text x="215.80" y="185.02" font-size="9.6" text-anchor="end">80</text>
<line x1="218.20" y1="166.20" x2="222.20" y2="166.20" stroke="#161616" stroke-width="1"/>
<text x="215.80" y="169.60" font-size="9.6" text-anchor="end">100</text>
<line x1="233.80" y1="243.30" x2="233.80" y2="246.30" stroke="#161616" stroke-width="1"/>
<line x1="252.20" y1="243.30" x2="252.20" y2="246.30" stroke="#161616" stroke-width="1"/>
<text x="196.80" y="206.00" font-size="9.5" text-anchor="middle" transform="rotate(-90 196.80 206.00)">PIM2<tspan dy="-3.4" font-size="6">+</tspan><tspan dy="3.4"> cancer cell %</tspan></text>
<line x1="234.80" y1="170.30" x2="253.00" y2="170.30" stroke="#161616" stroke-width="1.1"/>
<text x="244.00" y="169.50" font-size="8.5" font-weight="bold" text-anchor="middle">***</text>
<line x1="234.00" y1="177.76" x2="234.00" y2="200.12" stroke="#161616" stroke-width="1"/>
<line x1="231.50" y1="177.76" x2="236.50" y2="177.76" stroke="#161616" stroke-width="1"/>
<line x1="231.50" y1="200.12" x2="236.50" y2="200.12" stroke="#161616" stroke-width="1"/>
<rect x="227.70" y="182.39" width="12.60" height="12.34" fill="#fff" stroke="#231f20" stroke-width="1"/>
<line x1="227.70" y1="189.33" x2="240.30" y2="189.33" stroke="#161616" stroke-width="1"/>
<circle cx="232.01" cy="177.76" r="1.20" fill="#111"/>
<circle cx="230.74" cy="179.31" r="1.20" fill="#111"/>
<circle cx="230.72" cy="181.62" r="1.20" fill="#111"/>
<circle cx="234.53" cy="183.93" r="1.20" fill="#111"/>
<circle cx="234.17" cy="185.47" r="1.20" fill="#111"/>
<circle cx="235.07" cy="187.79" r="1.20" fill="#111"/>
<circle cx="235.62" cy="189.33" r="1.20" fill="#111"/>
<circle cx="230.18" cy="190.87" r="1.20" fill="#111"/>
<circle cx="238.23" cy="192.41" r="1.20" fill="#111"/>
<circle cx="237.94" cy="194.73" r="1.20" fill="#111"/>
<circle cx="231.84" cy="197.04" r="1.20" fill="#111"/>
<circle cx="231.02" cy="200.12" r="1.20" fill="#111"/>
<line x1="252.80" y1="217.86" x2="252.80" y2="234.82" stroke="#161616" stroke-width="1"/>
<line x1="250.30" y1="217.86" x2="255.30" y2="217.86" stroke="#161616" stroke-width="1"/>
<line x1="250.30" y1="234.82" x2="255.30" y2="234.82" stroke="#161616" stroke-width="1"/>
<rect x="246.50" y="220.94" width="12.60" height="8.48" fill="#fff" stroke="#231f20" stroke-width="1"/>
<line x1="246.50" y1="225.57" x2="259.10" y2="225.57" stroke="#161616" stroke-width="1"/>
<circle cx="255.45" cy="217.86" r="1.20" fill="#111"/>
<circle cx="249.06" cy="219.40" r="1.20" fill="#111"/>
<circle cx="254.07" cy="220.94" r="1.20" fill="#111"/>
<circle cx="251.08" cy="222.48" r="1.20" fill="#111"/>
<circle cx="256.98" cy="224.03" r="1.20" fill="#111"/>
<circle cx="249.51" cy="225.57" r="1.20" fill="#111"/>
<circle cx="252.72" cy="226.34" r="1.20" fill="#111"/>
<circle cx="249.44" cy="227.88" r="1.20" fill="#111"/>
<circle cx="249.46" cy="229.42" r="1.20" fill="#111"/>
<circle cx="254.75" cy="231.74" r="1.20" fill="#111"/>
<circle cx="255.39" cy="234.82" r="1.20" fill="#111"/>
<text x="233.50" y="249.00" font-size="9.1" text-anchor="end" transform="rotate(-45 233.50 249.00)">CD45<tspan dy="-3.4" font-size="6.1">high</tspan></text>
<text x="252.50" y="249.00" font-size="9.1" text-anchor="end" transform="rotate(-45 252.50 249.00)">CD45<tspan dy="-3.4" font-size="6.1">low</tspan></text>
<text x="315.00" y="168.90" font-size="13.8" font-weight="bold" fill="#000">E</text>
<rect x="428.50" y="188.00" width="89.40" height="178.50" fill="#fff"/>
<line x1="433.50" y1="188.00" x2="433.50" y2="366.50" stroke="#e6e6e6" stroke-width="0.8"/>
<line x1="443.60" y1="188.00" x2="443.60" y2="366.50" stroke="#f2f2f2" stroke-width="0.6"/>
<line x1="453.70" y1="188.00" x2="453.70" y2="366.50" stroke="#e6e6e6" stroke-width="0.8"/>
<line x1="463.80" y1="188.00" x2="463.80" y2="366.50" stroke="#f2f2f2" stroke-width="0.6"/>
<line x1="473.90" y1="188.00" x2="473.90" y2="366.50" stroke="#e6e6e6" stroke-width="0.8"/>
<line x1="484.00" y1="188.00" x2="484.00" y2="366.50" stroke="#f2f2f2" stroke-width="0.6"/>
<line x1="494.10" y1="188.00" x2="494.10" y2="366.50" stroke="#e6e6e6" stroke-width="0.8"/>
<line x1="504.20" y1="188.00" x2="504.20" y2="366.50" stroke="#f2f2f2" stroke-width="0.6"/>
<line x1="514.30" y1="188.00" x2="514.30" y2="366.50" stroke="#e6e6e6" stroke-width="0.8"/>
<line x1="428.50" y1="198.30" x2="517.90" y2="198.30" stroke="#e6e6e6" stroke-width="0.8"/>
<line x1="428.50" y1="215.80" x2="517.90" y2="215.80" stroke="#e6e6e6" stroke-width="0.8"/>
<line x1="428.50" y1="233.30" x2="517.90" y2="233.30" stroke="#e6e6e6" stroke-width="0.8"/>
<line x1="428.50" y1="250.80" x2="517.90" y2="250.80" stroke="#e6e6e6" stroke-width="0.8"/>
<line x1="428.50" y1="268.30" x2="517.90" y2="268.30" stroke="#e6e6e6" stroke-width="0.8"/>
<line x1="428.50" y1="285.80" x2="517.90" y2="285.80" stroke="#e6e6e6" stroke-width="0.8"/>
<line x1="428.50" y1="303.30" x2="517.90" y2="303.30" stroke="#e6e6e6" stroke-width="0.8"/>
<line x1="428.50" y1="320.80" x2="517.90" y2="320.80" stroke="#e6e6e6" stroke-width="0.8"/>
<line x1="428.50" y1="338.30" x2="517.90" y2="338.30" stroke="#e6e6e6" stroke-width="0.8"/>
<line x1="428.50" y1="355.80" x2="517.90" y2="355.80" stroke="#e6e6e6" stroke-width="0.8"/>
<rect x="428.50" y="188.00" width="89.40" height="178.50" fill="none" stroke="#333" stroke-width="1.0"/>
<line x1="424.50" y1="198.30" x2="428.50" y2="198.30" stroke="#333" stroke-width="1.0"/>
<text x="420.00" y="201.30" font-size="8.45" text-anchor="end">T-cell differentiation</text>
<line x1="424.50" y1="215.80" x2="428.50" y2="215.80" stroke="#333" stroke-width="1.0"/>
<text x="420.00" y="218.80" font-size="8.45" text-anchor="end">Lymphocyte differentiation</text>
<line x1="424.50" y1="233.30" x2="428.50" y2="233.30" stroke="#333" stroke-width="1.0"/>
<text x="420.00" y="236.30" font-size="8.45" text-anchor="end" fill="#c42a36">Regulation of T-cell activation</text>
<line x1="424.50" y1="250.80" x2="428.50" y2="250.80" stroke="#333" stroke-width="1.0"/>
<text x="420.00" y="253.80" font-size="8.45" text-anchor="end" fill="#c42a36">T-cell activation</text>
<line x1="424.50" y1="268.30" x2="428.50" y2="268.30" stroke="#333" stroke-width="1.0"/>
<text x="420.00" y="271.30" font-size="8.45" text-anchor="end">Regulation of leukocyte cell–cell adhesion</text>
<line x1="424.50" y1="285.80" x2="428.50" y2="285.80" stroke="#333" stroke-width="1.0"/>
<text x="420.00" y="288.80" font-size="8.45" text-anchor="end">Leukocyte cell–cell adhesion</text>
<line x1="424.50" y1="303.30" x2="428.50" y2="303.30" stroke="#333" stroke-width="1.0"/>
<text x="420.00" y="306.30" font-size="8.45" text-anchor="end" fill="#c42a36">Regulation of lymphocyte activation</text>
<line x1="424.50" y1="320.80" x2="428.50" y2="320.80" stroke="#333" stroke-width="1.0"/>
<text x="420.00" y="323.80" font-size="8.45" text-anchor="end">Regulation of cell–cell adhesion</text>
<line x1="424.50" y1="338.30" x2="428.50" y2="338.30" stroke="#333" stroke-width="1.0"/>
<text x="420.00" y="341.30" font-size="8.45" text-anchor="end" fill="#c42a36">Positive regulation of cell activation</text>
<line x1="424.50" y1="355.80" x2="428.50" y2="355.80" stroke="#333" stroke-width="1.0"/>
<text x="420.00" y="358.80" font-size="8.45" text-anchor="end">Leukocyte migration</text>
<circle cx="512.68" cy="198.30" r="1.60" fill="#d81c1c"/>
<circle cx="496.52" cy="215.80" r="3.40" fill="#e01818"/>
<circle cx="479.56" cy="233.30" r="2.40" fill="#c8242c"/>
<circle cx="472.28" cy="250.80" r="3.90" fill="#e01818"/>
<circle cx="472.69" cy="268.30" r="1.00" fill="#b03040"/>
<circle cx="464.81" cy="285.80" r="2.10" fill="#d02020"/>
<circle cx="453.70" cy="303.30" r="3.00" fill="#e01818"/>
<circle cx="449.66" cy="320.80" r="2.30" fill="#d82020"/>
<circle cx="448.65" cy="338.30" r="1.90" fill="#d82020"/>
<circle cx="432.49" cy="355.80" r="2.20" fill="#f5e030"/>
<line x1="433.50" y1="366.50" x2="433.50" y2="369.50" stroke="#333" stroke-width="0.9"/>
<text x="433.50" y="380.80" font-size="9.6" text-anchor="middle">4</text>
<line x1="453.70" y1="366.50" x2="453.70" y2="369.50" stroke="#333" stroke-width="0.9"/>
<text x="453.70" y="380.80" font-size="9.6" text-anchor="middle">5</text>
<line x1="473.90" y1="366.50" x2="473.90" y2="369.50" stroke="#333" stroke-width="0.9"/>
<text x="473.90" y="380.80" font-size="9.6" text-anchor="middle">6</text>
<line x1="494.10" y1="366.50" x2="494.10" y2="369.50" stroke="#333" stroke-width="0.9"/>
<text x="494.10" y="380.80" font-size="9.6" text-anchor="middle">7</text>
<line x1="514.30" y1="366.50" x2="514.30" y2="369.50" stroke="#333" stroke-width="0.9"/>
<text x="514.30" y="380.80" font-size="9.6" text-anchor="middle">8</text>
<text x="471.00" y="394.20" font-size="9.7" text-anchor="middle">Enrich factor</text>
<text x="463.60" y="179.00" font-size="9.6" text-anchor="middle">Top 10 of GO enrichment</text>
<rect x="477.00" y="268.00" width="40.00" height="96.00" fill="#fff"/>
<text x="484.00" y="278.00" font-size="9.8">Count</text>
<circle cx="488.90" cy="289.60" r="2.80" fill="#000"/>
<text x="497.50" y="293.00" font-size="9.8">60</text>
<circle cx="488.90" cy="303.50" r="3.60" fill="#000"/>
<text x="497.50" y="306.90" font-size="9.8">70</text>
<text x="474.00" y="324.20" font-size="9.5"><tspan font-style="italic">P</tspan> adjust</text>
<defs><linearGradient id="pg" x1="0" y1="0" x2="0" y2="1"><stop offset="0" stop-color="#ffee30"/><stop offset="0.5" stop-color="#f59a20"/><stop offset="1" stop-color="#e02020"/></linearGradient></defs>
<rect x="477.30" y="330.50" width="5.80" height="30.00" fill="url(#pg)"/>
<line x1="477.30" y1="338.00" x2="479.00" y2="338.00" stroke="#fff" stroke-width="0.6"/>
<line x1="481.40" y1="338.00" x2="483.10" y2="338.00" stroke="#fff" stroke-width="0.6"/>
<line x1="477.30" y1="353.00" x2="479.00" y2="353.00" stroke="#fff" stroke-width="0.6"/>
<line x1="481.40" y1="353.00" x2="483.10" y2="353.00" stroke="#fff" stroke-width="0.6"/>
<text x="485.80" y="341.40" font-size="9.4">2e-16</text>
<text x="485.80" y="356.40" font-size="9.4">6e-17</text>
<text x="4.50" y="294.60" font-size="13.8" font-weight="bold" fill="#000">F</text>
<line x1="61.25" y1="323.90" x2="61.25" y2="383.10" stroke="#161616" stroke-width="1.3"/>
<line x1="60.65" y1="382.50" x2="120.05" y2="382.50" stroke="#161616" stroke-width="1.3"/>
<line x1="57.75" y1="382.50" x2="61.25" y2="382.50" stroke="#161616" stroke-width="1"/>
<text x="56.45" y="385.90" font-size="9.8" text-anchor="end">0</text>
<line x1="57.75" y1="368.00" x2="61.25" y2="368.00" stroke="#161616" stroke-width="1"/>
<text x="56.45" y="371.40" font-size="9.8" text-anchor="end">1,000</text>
<line x1="57.75" y1="353.50" x2="61.25" y2="353.50" stroke="#161616" stroke-width="1"/>
<text x="56.45" y="356.90" font-size="9.8" text-anchor="end">2,000</text>
<line x1="57.75" y1="339.00" x2="61.25" y2="339.00" stroke="#161616" stroke-width="1"/>
<text x="56.45" y="342.40" font-size="9.8" text-anchor="end">3,000</text>
<line x1="57.75" y1="324.50" x2="61.25" y2="324.50" stroke="#161616" stroke-width="1"/>
<text x="56.45" y="327.90" font-size="9.8" text-anchor="end">4,000</text>
<polygon points="62.8,390.8 118.8,390.8 118.8,384.4" fill="#000"/>
<text x="92.50" y="298.10" font-size="9.5" font-style="italic" text-anchor="middle">CD8A</text>
<text x="92.50" y="309.50" font-size="9.5" font-style="italic" text-anchor="middle" fill="#c42a36">R = 0.63</text>
<text x="92.50" y="320.90" font-size="9.5" font-style="italic" text-anchor="middle">P &lt; 0.001</text>
<path d="M63.5 357.8h0M64.3 380.2h0M66.9 380.5h0M70.5 365h0M63.4 380h0M75 374.1h0M69.4 372.8h0M63.7 379.4h0M67.1 378h0M64.5 376.3h0M70.7 380.1h0M72.2 379h0M63.8 380.9h0M73.2 375.8h0M64.5 375.7h0M63.6 375.3h0M65.1 380.2h0M64.3 378.8h0M65.1 377.1h0M69.8 376.6h0M63.9 357.8h0M70.4 375.8h0M63.5 381h0M65.2 379.4h0M66.9 379.7h0M66.9 380.7h0M66.9 379.4h0M64.9 377.5h0M65.3 362.7h0M65.6 379.9h0M64.3 365.7h0M63.5 374.4h0M67.8 367.7h0M73.9 371.7h0M65.6 374.6h0M63.6 381.4h0M63.1 370.7h0M88.3 377.1h0M63 375.9h0M63.3 380.6h0M72.1 367.3h0M68.2 378.6h0M63.7 381.3h0M64.3 377.8h0M66.5 378h0M63.1 379.1h0M68.9 375.1h0M63.6 374.6h0M65.6 379.4h0M63 379.9h0M65.9 372.9h0M77.8 378.9h0M64.7 380.8h0M65.9 379h0M69.6 373.2h0M66.3 376.8h0M74.5 376.2h0M66 373.8h0M64.3 377.1h0M63.6 379.1h0M64.6 380.6h0M65.7 377.1h0M66.1 378.2h0M65.7 376.8h0M63.3 381.4h0M63.3 381.4h0M71 381.1h0M63.8 379h0M63.1 379.3h0M63.8 379.5h0M68 372.8h0M64.6 381h0M67.8 372.8h0M67 379.1h0M65.5 380.8h0M69.4 375.4h0M71.7 372.6h0M63.5 375.1h0M66.4 380.4h0M73.5 372.2h0M69.6 380.4h0M71.3 374.1h0M65.5 378.9h0M64.7 378.2h0M63.5 380.6h0M66.6 377.8h0M64.7 352.6h0M66.2 379.3h0M64.4 379h0M64.6 378.4h0M69.5 380.7h0M64 378.3h0M74.9 371.5h0M65.9 376.9h0M68.6 379.1h0M64 378.1h0M72.4 375.5h0M64.1 378.1h0M64.4 379.1h0M63.5 379.6h0M66.7 375.6h0M63.9 369.1h0M63.6 377.7h0M72.2 370.5h0M65.5 377.9h0M63.3 378.4h0M67.8 379.8h0M74.8 374.4h0M73.1 380.9h0M68.3 374.5h0M66.2 381.3h0M67.5 374.3h0M69.3 378.4h0M68 374.9h0M63.4 375.9h0M69.1 375.6h0M64 355.1h0M64.1 376.2h0M65.7 379.7h0M63.5 373.8h0M95.8 369h0M67.5 377.7h0M63.1 378.4h0M67.3 378.9h0M67.5 380h0M68 379.8h0M67.9 370.3h0M70.3 365.6h0M67.2 373.4h0M68.4 371.8h0M71.4 377.1h0M64.6 377.4h0M63.3 381.2h0M65.3 375.9h0M75.7 377.8h0M63.3 381.4h0M73 373.9h0M66.7 376.9h0M65.7 370.2h0M68.4 380.3h0M63.6 381.3h0M65.3 364.3h0M65.4 379.6h0M63.9 378.9h0M63.4 373h0M65.6 375.5h0M84.1 375.7h0M70.6 373.9h0M63 377.1h0M63.1 377.9h0M67.8 377.9h0M74 379.5h0M70.6 373.8h0M84.3 359.2h0M64.9 381.2h0M65 378.9h0M63.9 371.8h0M64.8 380.5h0M73.5 372.2h0M68 379.1h0M62.8 379.8h0M63.3 375.4h0M64.5 374h0M67.9 370.2h0M65.5 380.6h0M69.1 380.8h0M63.1 373.5h0M64 375.5h0M72.2 379.3h0M64.8 379.7h0M64.6 372.5h0M73 367.1h0M62.9 374.2h0M63.4 375.4h0M64.5 380h0M67.4 360.3h0M75.8 379.6h0M64.3 373.4h0M64.7 371.5h0M65.1 371.8h0M63.8 376.9h0M68 372.4h0M63.6 375.5h0M63.2 380h0M66 380.4h0M64.9 359.5h0M70.9 372.1h0M67.7 379.7h0M78.3 369.1h0M63.9 379.8h0M64.1 380.9h0M72.1 377h0M71.9 374.8h0M64.1 376.9h0M62.8 361h0M66.1 373.7h0M63.4 359.6h0M65.8 379.8h0M64.5 362.6h0M63.5 376.7h0M65.8 367h0M65.9 365.2h0M65.5 373.2h0M66.2 376.9h0M67.8 362.1h0M63.9 380.2h0M67.8 373.7h0M63.7 381h0M62.9 381.6h0M70.2 362h0" stroke="#111" stroke-width="2.5" stroke-linecap="round"/>
<path d="M105.5 328h0M95.4 347h0M79.2 342.2h0M63 345.5h0M105.5 373.7h0M102.7 356.4h0M72 352h0M84 358h0M90 366h0M76 360h0" stroke="#111" stroke-width="2.7" stroke-linecap="round"/>
<line x1="61.50" y1="375.00" x2="107.00" y2="348.30" stroke="#111" stroke-width="1.1"/>
<line x1="132.10" y1="324.10" x2="132.10" y2="383.10" stroke="#161616" stroke-width="1.3"/>
<line x1="131.50" y1="382.50" x2="190.90" y2="382.50" stroke="#161616" stroke-width="1.3"/>
<line x1="128.60" y1="382.50" x2="132.10" y2="382.50" stroke="#161616" stroke-width="1"/>
<line x1="128.60" y1="368.05" x2="132.10" y2="368.05" stroke="#161616" stroke-width="1"/>
<line x1="128.60" y1="353.60" x2="132.10" y2="353.60" stroke="#161616" stroke-width="1"/>
<line x1="128.60" y1="339.15" x2="132.10" y2="339.15" stroke="#161616" stroke-width="1"/>
<line x1="128.60" y1="324.70" x2="132.10" y2="324.70" stroke="#161616" stroke-width="1"/>
<polygon points="133.6,390.8 189.7,390.8 189.7,384.4" fill="#000"/>
<text x="163.30" y="298.10" font-size="9.5" font-style="italic" text-anchor="middle">CD4</text>
<text x="163.30" y="309.50" font-size="9.5" font-style="italic" text-anchor="middle" fill="#c42a36">R = 0.30</text>
<text x="163.30" y="320.90" font-size="9.5" font-style="italic" text-anchor="middle">P &lt; 0.001</text>
<path d="M135.2 381h0M134.1 380.4h0M139.4 374.2h0M138.1 372.7h0M134.4 360.7h0M136.4 379.8h0M139.7 380h0M133.7 373h0M134.1 353h0M140.4 379.2h0M146.2 376.3h0M136.5 379.7h0M142.2 375.9h0M134.9 379.4h0M134.9 379.3h0M143.8 376.5h0M137.3 373.4h0M133.8 376.1h0M139.3 381.2h0M143.5 377.6h0M133.7 359.6h0M135.5 371.1h0M147.9 381.5h0M134.8 377.6h0M134.9 374.2h0M135.3 377.8h0M135.6 372.6h0M136.5 378.7h0M141.2 378.2h0M151.7 380.9h0M134 374.5h0M141.7 381.4h0M135.1 373.8h0M138.3 376.8h0M137.9 369.2h0M136.8 378.8h0M134.5 379.2h0M139.9 369.9h0M135.3 380.1h0M147.8 381.4h0M135.4 378.5h0M138 381.5h0M137.8 381.5h0M134.5 378.2h0M139 380.4h0M137.5 381.6h0M134.2 379.5h0M133.9 371.7h0M136.8 371h0M135.9 376.8h0M133.7 365.2h0M135 375.5h0M140.6 378.5h0M135.2 373h0M139.6 367.1h0M135.5 379.2h0M136.2 376.2h0M137.7 371h0M137.3 379.9h0M139.1 372.6h0M140.3 381.1h0M135.5 370.1h0M135.4 380.6h0M133.7 374.3h0M133.7 379.1h0M135.9 380.6h0M135.9 373.6h0M133.9 379.3h0M137.7 375.8h0M136.7 379.7h0M135.2 365.3h0M136 379.6h0M136 381h0M136.7 364.5h0M137.5 381.7h0M140.5 380.4h0M133.7 379.7h0M136.4 381.7h0M150.6 378.5h0M133.6 374.7h0M147.7 381.6h0M134.2 380.9h0M135.3 378.8h0M133.7 361.8h0M139 379.7h0M137.3 377.7h0M139.6 380h0M145.1 373.7h0M137.2 376.6h0M137.5 381.6h0M141.8 377.6h0M134.4 379h0M138.3 372.4h0M134.5 378.8h0M150.2 381.3h0M135.5 363.1h0M138.3 377.3h0M135.8 381.3h0M138.8 379.2h0M133.9 360.8h0M133.9 377.9h0M138 377h0M135.5 373.5h0M134.6 374.4h0M135.6 361.2h0M140.7 380.2h0M141.8 378.1h0M135.1 380.7h0M134.3 381.5h0M134.5 378.7h0M137.9 367.4h0M137.9 361.7h0M144.4 369.4h0M134.9 381.4h0M136.9 378.9h0M148.4 381.5h0M144.4 379.7h0M137.8 373.8h0M136 372.7h0M140.4 380.9h0M139.9 356.1h0M140 376.3h0M137 381.1h0M136.6 379.6h0M134.6 365.5h0M134.7 380.4h0M140.9 377.1h0M141.4 380.5h0M142.2 378.4h0M141.6 376h0M135.1 379h0M134 376.8h0M133.9 367.4h0M134.7 379.4h0M135.4 377.8h0M143.2 381.2h0M135.2 377h0M136.3 369.1h0M136.5 375h0M137.7 378.9h0M135.8 380.3h0M134 362.1h0M137.8 380.9h0M140.5 378.5h0M135.6 372.2h0M134.9 374.7h0M139.2 375h0M134.3 380.9h0M138.8 376h0M135.3 364.9h0M136.6 354.7h0M134.4 371h0M148.9 380.6h0M134.4 377.8h0M135 376.3h0M134 381.5h0M134 381h0M135.1 372.3h0M136.8 380.6h0M137 356.4h0M145.7 380.8h0M138 381.2h0M141 379.3h0M137.3 366.8h0M135.8 379.4h0M133.8 375h0M137.7 374.8h0M133.9 379.2h0M134.8 380.7h0M134 380.1h0M140.9 369.5h0M137.1 379.3h0M135.1 367.6h0M134.1 381h0M144.4 379.8h0M145.1 379.6h0M134 379.4h0M140.9 369.8h0M137.1 377.1h0M135.7 379.1h0M143.9 378.7h0M134 376.4h0M135.3 379.4h0M144.3 375.1h0M135.9 366.1h0M134.4 380.5h0M147 381h0M138.6 379.7h0M134 363.9h0M138.3 379.3h0M134.5 374.1h0M138.8 379.6h0M133.7 379.1h0M136.5 379.5h0M139 377.8h0M134.5 376.9h0M134.1 374.2h0M147.3 380.1h0M134.3 376.4h0M134.6 381h0M136.2 380.5h0M137.8 377.4h0M134.5 367.2h0M136.5 372.2h0M139.3 379.9h0M134.5 379.6h0M136.3 373.6h0M134.1 379.8h0M133.7 371.9h0M143.4 376.3h0M136.9 378.3h0M135.1 378.8h0M133.6 380.1h0M136 379.2h0M137.2 380.7h0M135.4 365.6h0M134.5 355.1h0M133.6 360.6h0M146.5 366.8h0M154.5 358.8h0" stroke="#111" stroke-width="2.5" stroke-linecap="round"/>
<path d="M145.9 328.1h0M141.8 342.2h0M141.5 348h0M154 347h0M176.2 378.6h0M150 356h0M160 372h0M168 376h0M136 350h0" stroke="#111" stroke-width="2.7" stroke-linecap="round"/>
<line x1="132.50" y1="373.70" x2="179.10" y2="361.60" stroke="#111" stroke-width="1.1"/>
<line x1="204.20" y1="324.10" x2="204.20" y2="383.10" stroke="#161616" stroke-width="1.3"/>
<line x1="203.60" y1="382.50" x2="263.00" y2="382.50" stroke="#161616" stroke-width="1.3"/>
<line x1="200.70" y1="382.50" x2="204.20" y2="382.50" stroke="#161616" stroke-width="1"/>
<line x1="200.70" y1="368.05" x2="204.20" y2="368.05" stroke="#161616" stroke-width="1"/>
<line x1="200.70" y1="353.60" x2="204.20" y2="353.60" stroke="#161616" stroke-width="1"/>
<line x1="200.70" y1="339.15" x2="204.20" y2="339.15" stroke="#161616" stroke-width="1"/>
<line x1="200.70" y1="324.70" x2="204.20" y2="324.70" stroke="#161616" stroke-width="1"/>
<polygon points="205.7,390.8 261.8,390.8 261.8,384.4" fill="#000"/>
<text x="235.40" y="298.10" font-size="9.5" font-style="italic" text-anchor="middle">CD68</text>
<text x="235.40" y="309.50" font-size="9.5" font-style="italic" text-anchor="middle" fill="#c42a36">R = 0.28</text>
<text x="235.40" y="320.90" font-size="9.5" font-style="italic" text-anchor="middle">P &lt; 0.001</text>
<path d="M209.7 371.5h0M206.8 371.3h0M206.8 369.8h0M214 374.7h0M214.2 379.3h0M215.1 366.2h0M211.5 374.7h0M207.2 378.6h0M212.8 376.3h0M210.2 380.8h0M205.8 377.7h0M215.5 352h0M206.6 358.1h0M207.6 359.3h0M208.8 371.9h0M210.5 375.5h0M206.1 380.8h0M219.2 381.3h0M211.1 363.5h0M211.5 376.5h0M212.7 372.3h0M207.7 381h0M207.8 375.7h0M207.1 379.1h0M209.3 379.2h0M211.6 364.8h0M210.1 371.9h0M207.2 368.1h0M216.8 381h0M205.8 378.4h0M207.3 381.7h0M206.7 371.2h0M209.5 375.5h0M209.6 381h0M229.3 364.8h0M209.1 361.2h0M212.1 378.4h0M206.4 355h0M205.9 378.4h0M207.9 373.7h0M208.5 381.4h0M208.5 381.5h0M210.8 365.2h0M211.9 362.3h0M210.4 376.8h0M210.5 381.6h0M207.9 377.9h0M210.1 367.7h0M212.7 379.2h0M229.7 376h0M206.1 377.2h0M207.7 378.6h0M211.1 370.6h0M213 363.8h0M210.5 381h0M210.7 369h0M208 359.7h0M206.1 376h0M207.2 376.3h0M207.2 377.1h0M206.9 366h0M220.1 377.3h0M206.8 376.9h0M207 366h0M216.3 380.9h0M206.6 375.5h0M207.4 380.9h0M206.8 381.5h0M217.1 380.8h0M206.1 379.7h0M205.9 372.4h0M213.9 377.1h0M228.9 366.1h0M210.7 380.7h0M213.6 381.7h0M223.4 372.3h0M212.1 380.9h0M215 372.4h0M221.9 378.3h0M208.4 369h0M208.8 374.9h0M213.7 380.3h0M210.4 371.7h0M228.6 380h0M208 378h0M206.7 381.7h0M211.9 373.5h0M208.8 380.8h0M208.7 380.9h0M211.3 381.3h0M207.5 381.4h0M209.7 366.4h0M212.3 380.9h0M206.5 375h0M206.2 376.2h0M205.9 381.1h0M217.9 378.6h0M207.9 381.4h0M213.2 376.8h0M212.8 381.1h0M208.5 379.4h0M205.7 378.2h0M210 377.5h0M213 378.1h0M209.3 380.5h0M208.7 380.1h0M208.9 375.3h0M209.4 380.1h0M213.7 380.8h0M215.9 368.7h0M207 380.5h0M210.4 381.5h0M209.8 377.6h0M214.5 380.4h0M213.6 381.2h0M209.9 378.4h0M208.4 377.7h0M208 374.3h0M212 381.7h0M208.9 379.5h0M211.8 370.9h0M214.4 367.7h0M220.5 376.9h0M205.8 374.2h0M217.9 367h0M208.9 380.9h0M209.6 380.7h0M207.7 380.5h0M216.2 361.2h0M215.7 376.3h0M217.8 366.9h0M208.8 378.8h0M207.7 380.4h0M215.3 379.3h0M208.7 369.7h0M210.8 381.5h0M211.2 381.1h0M209.6 380h0M214.3 376.6h0M209.1 373.1h0M219.1 378.4h0M212.5 380.7h0M222.8 381.2h0M211.7 378.7h0M206.3 380.9h0M208.6 380.7h0M209.9 351h0M213.9 368.9h0M209.2 380.5h0M205.9 376.6h0M208.7 374.8h0M207.8 379.7h0M211.5 367.2h0M209.1 372.8h0M205.8 377.4h0M217.5 381.5h0M214.2 378.2h0M206.2 375.5h0M227.4 378.9h0M206.5 377.1h0M206.1 359.4h0M211.4 377.8h0M206.1 378.9h0M205.7 380.8h0M209.5 379.6h0M209.4 374.8h0M206 364.5h0M211.3 376.8h0M205.9 362.9h0M208.4 380h0M212.6 377.7h0M207 381h0M217.6 371.6h0M225.6 374.8h0M208.9 366.6h0M206.1 378h0M217.1 377h0M214.8 372.6h0M207.7 362.5h0M205.9 372.9h0M205.8 381h0M205.9 380.4h0M210.4 378.4h0M210.5 367.6h0M208 381.3h0M218.8 358h0M224.9 367.2h0M210.2 381h0M220.6 363h0M208.2 380.5h0M206 378.6h0M207.2 379.1h0M208.1 371.9h0M208.7 380.6h0M210.9 377.7h0M206.1 377.9h0M207.7 379.9h0M218.7 331h0M209.5 368.2h0M208.8 369.6h0M209.8 379.5h0M207.9 367.7h0M217.2 365.6h0M220.4 380h0M205.9 374.7h0M210.7 379.2h0M207.3 373.8h0M214.2 380.7h0M208 379.3h0M207.6 373h0M205.8 379.2h0M214.7 381.3h0M208.9 360.1h0M226.8 374.3h0M214.4 375.8h0M208.7 381.5h0M209.5 381.7h0M206.2 377.3h0M218.6 378.6h0M209.8 380.8h0" stroke="#111" stroke-width="2.5" stroke-linecap="round"/>
<path d="M220.6 328h0M210.5 344.3h0M216 348h0M213 356h0M232.7 370.5h0M255 378.6h0M242 373h0M226 362h0M207 345h0" stroke="#111" stroke-width="2.7" stroke-linecap="round"/>
<line x1="204.50" y1="375.20" x2="253.30" y2="365.10" stroke="#111" stroke-width="1.1"/>
<line x1="61.25" y1="432.40" x2="61.25" y2="492.60" stroke="#161616" stroke-width="1.3"/>
<line x1="60.65" y1="492.00" x2="120.05" y2="492.00" stroke="#161616" stroke-width="1.3"/>
<line x1="57.75" y1="492.00" x2="61.25" y2="492.00" stroke="#161616" stroke-width="1"/>
<text x="56.45" y="495.40" font-size="9.8" text-anchor="end">0</text>
<line x1="57.75" y1="477.25" x2="61.25" y2="477.25" stroke="#161616" stroke-width="1"/>
<text x="56.45" y="480.65" font-size="9.8" text-anchor="end">1,000</text>
<line x1="57.75" y1="462.50" x2="61.25" y2="462.50" stroke="#161616" stroke-width="1"/>
<text x="56.45" y="465.90" font-size="9.8" text-anchor="end">2,000</text>
<line x1="57.75" y1="447.75" x2="61.25" y2="447.75" stroke="#161616" stroke-width="1"/>
<text x="56.45" y="451.15" font-size="9.8" text-anchor="end">3,000</text>
<line x1="57.75" y1="433.00" x2="61.25" y2="433.00" stroke="#161616" stroke-width="1"/>
<text x="56.45" y="436.40" font-size="9.8" text-anchor="end">4,000</text>
<polygon points="62.8,500.3 118.8,500.3 118.8,493.9" fill="#000"/>
<text x="95.00" y="407.20" font-size="9.5" font-style="italic" text-anchor="middle">CD15</text>
<text x="95.00" y="418.80" font-size="9.5" font-style="italic" text-anchor="middle">R = 0.01</text>
<text x="95.00" y="430.20" font-size="9.5" font-style="italic" text-anchor="middle">P = 0.874</text>
<path d="M66 481.1h0M76.9 491h0M63.7 485.6h0M65 480.8h0M67.1 487.4h0M63.4 481.1h0M65.1 486.3h0M62.8 486.9h0M64.1 486.5h0M65.2 484.7h0M65.3 490.2h0M65 487.6h0M62.9 483.3h0M65.6 486.9h0M66.6 485.2h0M63.1 487.8h0M63.8 482.2h0M70.3 489.3h0M68 491.1h0M63.7 484.2h0M70.5 485.7h0M70.4 477.3h0M63.8 466.3h0M63.3 483.5h0M63.5 490.2h0M64.1 480.3h0M66.8 490.5h0M64.2 460.9h0M65.8 484.1h0M91.7 490.7h0M62.9 475.6h0M68.5 489.6h0M68.4 486.2h0M64.1 480.7h0M68 488.2h0M65.4 490.3h0M63 490.6h0M68.2 471.6h0M68.4 482.8h0M64.9 490.7h0M71.2 487.9h0M65.8 485.8h0M63.7 466.7h0M65.6 487.2h0M64.2 483.6h0M73.1 490.4h0M63.6 480.4h0M67 488.4h0M67.5 488h0M63.5 487.9h0M64 487.1h0M63.3 470.1h0M64.2 489.3h0M63.2 485.4h0M63 485.9h0M63.3 485.4h0M63.2 488.7h0M73.6 491h0M65.2 484h0M67.7 490.6h0M64 483.7h0M67.2 480.7h0M65.4 490.6h0M62.9 483.6h0M69.9 490h0M66.8 485.4h0M62.8 489.3h0M65.1 490.1h0M63.1 481.7h0M63.3 482.6h0M80.9 491.1h0M63.7 490.2h0M65 484.8h0M67.6 489.6h0M64.1 484.2h0M65.4 490.9h0M71 484.4h0M67.3 490.8h0M65.5 490.6h0M71.8 490.4h0M63.1 484.7h0M65.1 488.7h0M67.2 487.8h0M64.6 482.4h0M63.6 484.5h0M63 477.2h0M63.5 483.7h0M66.9 490.8h0M63.1 484.9h0M65.9 490.3h0M64.2 465.5h0M66.3 490.4h0M66 489.9h0M62.9 491.1h0M68.3 477.3h0M63.7 479.4h0M67.7 490.5h0M73.8 482h0M62.9 488.7h0M67.2 489.1h0M63.2 490.9h0M70.4 479.3h0M64.8 485.5h0M66.5 470.3h0M64 485.3h0M65.9 479.5h0M71.3 484.8h0M65.3 489.5h0M76.2 485.5h0M74.2 489.8h0M64.9 488.6h0M64.6 482.2h0M65 485.6h0M65.2 481.3h0M68.8 489.7h0M84.6 483h0M68.2 486.4h0M64.7 490.6h0M63.1 487.2h0M66.1 482.5h0M64.4 480.3h0M65.8 481.5h0M71.3 491.2h0M67.3 489.8h0M72.5 490.9h0M64.3 490.9h0M66 491h0M63 483.4h0M63.3 491.1h0M70 483.6h0M65.1 483.2h0M65.8 482.5h0M63.1 490.8h0M66.7 489.7h0M65.7 485.5h0M65.2 489.7h0M72.9 489.2h0M64.8 488.1h0M62.9 484.2h0M66 490.4h0M66.9 488.7h0M72.7 489.2h0M63.1 468.5h0M63.9 462.8h0M66.5 489.4h0M65.1 484.4h0M69.9 490.6h0M63.9 490.3h0M65.2 489.8h0M63.9 481.6h0M74.8 490.2h0M65.3 488.9h0M65.6 489.5h0M63.4 488.1h0M71.2 488.3h0M73.1 491.1h0M63.5 468.3h0M63.2 483.4h0M63.4 489.9h0M65 482.6h0M65.6 491.1h0M63.6 448.1h0M68 488.1h0M64.1 487.8h0M62.9 488.9h0M69.2 489.3h0M69.3 478h0M66.7 489.8h0M64.7 490.7h0M63.6 487.4h0M62.9 473.9h0M65.1 489.4h0M66.1 488.7h0M64.1 486.8h0M64.8 489.7h0M64.3 485.6h0M69.5 484.3h0M69.6 488.5h0M73.2 490.9h0M69.2 486.5h0M62.8 474.5h0M64.1 482.8h0M62.9 481.8h0M66.4 489.4h0M64.1 477h0M71.1 491.2h0M64 484.5h0M64 487.6h0M65.6 483.3h0M68.3 489.1h0" stroke="#111" stroke-width="2.5" stroke-linecap="round"/>
<path d="M65.1 437.1h0M71.2 455.3h0M68 462h0M93.4 488.4h0M101.4 487.6h0M105.5 486.4h0M80 480h0M74 470h0" stroke="#111" stroke-width="2.7" stroke-linecap="round"/>
<line x1="61.50" y1="485.60" x2="109.50" y2="485.60" stroke="#111" stroke-width="1.1"/>
<line x1="132.10" y1="432.40" x2="132.10" y2="492.60" stroke="#161616" stroke-width="1.3"/>
<line x1="131.50" y1="492.00" x2="190.90" y2="492.00" stroke="#161616" stroke-width="1.3"/>
<line x1="128.60" y1="492.00" x2="132.10" y2="492.00" stroke="#161616" stroke-width="1"/>
<line x1="128.60" y1="477.25" x2="132.10" y2="477.25" stroke="#161616" stroke-width="1"/>
<line x1="128.60" y1="462.50" x2="132.10" y2="462.50" stroke="#161616" stroke-width="1"/>
<line x1="128.60" y1="447.75" x2="132.10" y2="447.75" stroke="#161616" stroke-width="1"/>
<line x1="128.60" y1="433.00" x2="132.10" y2="433.00" stroke="#161616" stroke-width="1"/>
<polygon points="133.6,500.3 189.7,500.3 189.7,493.9" fill="#000"/>
<text x="163.30" y="407.20" font-size="9.5" font-style="italic" text-anchor="middle">CD57</text>
<text x="163.30" y="418.80" font-size="9.5" font-style="italic" text-anchor="middle">R = −0.01</text>
<text x="163.30" y="430.20" font-size="9.5" font-style="italic" text-anchor="middle">P = 0.531</text>
<path d="M135 483h0M133.7 489.3h0M136.1 491h0M133.8 437.5h0M134.8 490.7h0M134 442.5h0M133.8 477.3h0M133.8 486.1h0M135.5 488.9h0M134 460.6h0M135.2 484.9h0M134.1 490h0M133.9 489.3h0M133.8 489.7h0M134.4 477.2h0M133.6 475.5h0M134.7 484.6h0M136.3 491h0M133.6 490h0M133.7 477.7h0M134.3 490h0M134.8 488.5h0M134.2 488.3h0M133.9 455h0M134.2 490.7h0M134 483.5h0M134.4 484.1h0M133.8 480.6h0M134.1 480.9h0M136.5 486h0M133.9 477.8h0M133.8 487.3h0M133.6 476.8h0M133.8 474.7h0M134.2 475.2h0M134.4 489.3h0M134.5 475.7h0M134 476.9h0M133.9 490.3h0M134.1 490.5h0M133.9 467.1h0M134.9 488.2h0M133.9 489.7h0M134.1 490.4h0M134.6 476.2h0M133.7 487.6h0M134.1 486.7h0M134.4 490.9h0M134.6 481.1h0M133.8 490.4h0M133.7 489.6h0M134 489.6h0M133.6 486.9h0M133.6 491h0M134.8 489.2h0M133.8 488.1h0M134 486.1h0M134.3 489.4h0M134.2 481.8h0M134.9 487.6h0M134.6 483h0M133.6 470.1h0M134.3 482.6h0M133.9 490.3h0M133.7 469.2h0M134 486.5h0M135.2 489.8h0M133.9 486.4h0M134.1 482.3h0M134.4 490.8h0M134.6 479.7h0M135.3 490.3h0M133.7 456.3h0M133.8 473.9h0M135.3 488.4h0M133.8 484.6h0M134.2 488.2h0M134.2 453.3h0M134.2 482.7h0M134 488.5h0M134.9 491h0M134 482.3h0M136.6 490.8h0M135.7 489h0M133.6 487.6h0M133.7 471.6h0M134.3 470.7h0M133.6 485.8h0M134.9 490.9h0M133.9 482.3h0M135 490.7h0M133.8 490.8h0M134.2 481.6h0M133.6 489.9h0M134 482h0M133.6 471.3h0M134.1 482.2h0M134.3 486.8h0M134.2 486.6h0M134.5 484.5h0M133.6 486.8h0M133.6 470.6h0M133.7 485.8h0M134.5 486.2h0M133.6 489.1h0M134 488.5h0M134.8 490.7h0M135.7 488.7h0M133.8 486.1h0M134.2 489.6h0M135.2 490.9h0M134.4 484.6h0M134.9 491h0M133.7 483.5h0M133.8 488.5h0M133.9 477.7h0M134.1 489.7h0M134.3 489.6h0M133.6 488.3h0M133.9 485h0M133.8 489.7h0M134.8 490.9h0M134.1 475.9h0M133.9 481.2h0M133.8 481.4h0M133.7 460.9h0M135.6 484.2h0M134.4 485.5h0M134.3 476h0M135.1 489.7h0M133.9 489.2h0M133.8 479.9h0M133.7 482.4h0M133.6 477.1h0M133.8 485.7h0M134.9 488.2h0M133.7 480.9h0M133.9 449.7h0M133.8 482.3h0M134 484.7h0M134.3 486.2h0M134.6 482.1h0M133.8 489h0M134.3 483.8h0M133.7 486h0M135.3 490h0M133.8 482.2h0M133.6 487.1h0M135.3 491.1h0M133.7 487.2h0" stroke="#111" stroke-width="2.5" stroke-linecap="round"/>
<path d="M139.8 475.5h0M150 488.4h0M164 488.8h0M184.2 484.8h0M133.5 436h0M134 441h0" stroke="#111" stroke-width="2.7" stroke-linecap="round"/>
<line x1="132.50" y1="485.00" x2="184.20" y2="486.40" stroke="#111" stroke-width="1.1"/>
<line x1="204.20" y1="432.40" x2="204.20" y2="492.60" stroke="#161616" stroke-width="1.3"/>
<line x1="203.60" y1="492.00" x2="263.00" y2="492.00" stroke="#161616" stroke-width="1.3"/>
<line x1="200.70" y1="492.00" x2="204.20" y2="492.00" stroke="#161616" stroke-width="1"/>
<line x1="200.70" y1="477.25" x2="204.20" y2="477.25" stroke="#161616" stroke-width="1"/>
<line x1="200.70" y1="462.50" x2="204.20" y2="462.50" stroke="#161616" stroke-width="1"/>
<line x1="200.70" y1="447.75" x2="204.20" y2="447.75" stroke="#161616" stroke-width="1"/>
<line x1="200.70" y1="433.00" x2="204.20" y2="433.00" stroke="#161616" stroke-width="1"/>
<polygon points="205.7,500.3 261.8,500.3 261.8,493.9" fill="#000"/>
<text x="234.40" y="407.20" font-size="9.5" font-style="italic" text-anchor="middle">CD138</text>
<text x="234.40" y="418.80" font-size="9.5" font-style="italic" text-anchor="middle">R = −0.16</text>
<text x="234.40" y="430.20" font-size="9.5" font-style="italic" text-anchor="middle">P = 0.002</text>
<path d="M207.3 491h0M210.2 485.8h0M205.8 483.3h0M210.7 485.5h0M207.4 485.2h0M250.1 487.1h0M208.6 491.1h0M208.5 482.8h0M209 485.6h0M212.9 488.1h0M207.2 482.9h0M209.7 486.9h0M208.3 486.6h0M211.6 481.3h0M213.3 486.8h0M217.5 483.9h0M215 490.7h0M222.2 488.5h0M207.7 483h0M206.9 485.3h0M206.1 484.3h0M215.2 484.4h0M210.5 482.6h0M207.2 487.3h0M210.8 489.3h0M222 479h0M210.9 491.1h0M208.1 483.5h0M210.4 484h0M210.8 482.3h0M218 476.4h0M210 483.3h0M216.7 489.7h0M223.8 490.7h0M209.5 490.7h0M219.2 484.7h0M206 488.7h0M213.3 489.9h0M207 488.9h0M208.8 487.1h0M207.4 489.1h0M221.1 491h0M207.1 489.8h0M210 485.3h0M209.9 474.5h0M209.8 490.6h0M206.5 485.7h0M206.3 482.5h0M213.4 489.6h0M226.2 476.8h0M208.5 490.3h0M209.6 489.2h0M216.3 490.5h0M209.9 488.2h0M216.4 488.6h0M206.5 491.1h0M209.2 488.4h0M209 483.5h0M208.4 486.8h0M206.4 491.1h0M209.1 484.4h0M208.2 473.9h0M206.2 490.5h0M207.4 489.8h0M206.5 490.1h0M229.8 489.7h0M219.2 480.1h0M209.4 482.5h0M214.3 485.8h0M211.1 486h0M206.2 485.1h0M211.5 479.2h0M214.9 487.6h0M211.7 489.4h0M207.4 490.2h0M211.4 489.2h0M207.3 483.4h0M219.8 490.6h0M231.1 489.6h0M209.2 484.6h0M220.7 482.4h0M217.3 486.4h0M211.9 491.2h0M210.5 490.8h0M220.5 489.6h0M212.1 490.9h0M216.4 490.1h0M206.1 489h0M212.8 486.3h0M207.9 488h0M205.8 490h0M206.4 471.9h0M207 484.8h0M212.2 490.7h0M214.9 482.7h0M214.7 490.6h0M206.1 484.7h0M225.7 485.8h0M205.8 484.5h0M206.4 489.8h0M208.9 484.3h0M208.4 489.4h0M214.2 488.9h0M208.6 490.7h0M207.7 482.8h0M205.8 486.7h0M207.8 484.9h0M207.5 487.3h0M212.3 476.3h0M206.6 486.9h0M211.7 491.1h0M206.6 489.7h0M209 491.2h0M207.2 487.7h0M215.6 474.1h0M220 490.7h0M206.3 486.1h0M210.3 490.4h0M210.1 476h0M209.8 487.8h0M208.2 485.4h0M226 487.5h0M208.4 484.2h0M210.5 485.9h0M208.9 490.6h0M214.7 489.2h0M206.1 488.4h0M207.2 483.7h0M205.8 480.2h0M211.3 490.6h0M214 488.4h0M211.4 489.2h0M206.7 488.7h0M211.3 468h0M212.6 487.4h0M214.3 483.7h0M208.7 490.9h0M218.7 490.4h0M206.8 489h0M213.2 488.2h0M209.1 490.2h0M215.1 484.2h0M211.9 478.6h0M205.9 480.7h0M215.1 487.8h0M208.7 466.9h0M215.5 475.7h0M205.9 482.8h0M207.7 491h0M216.5 479.9h0M215.4 487.1h0M211 490.6h0M212.5 489.4h0M216.5 490.8h0M207.1 489.3h0M210.5 489.1h0M208.7 487.2h0M206.7 486.6h0M205.8 487.7h0M211.4 487h0M205.8 486.7h0M220.5 489h0M207.7 480.7h0M217.2 483h0M209.6 489.8h0M206.5 485.1h0M206.7 484.7h0M206.6 487.6h0M212.2 485.5h0M208 485.9h0M219.9 484.4h0M209.5 491h0M206.2 489.8h0M205.9 484.3h0M211.9 490.9h0M227 488.7h0M220.1 490.2h0M212.6 476h0M213.1 489.4h0M222.9 489.5h0M208.8 487.2h0M207.8 478.5h0M209.7 490.6h0M208.2 483h0M220.2 490.9h0M214.2 480.6h0M205.7 486.4h0M220.4 486.5h0M222.9 485.7h0M207.5 479.8h0M209.9 490.5h0M208.8 491.1h0M219.3 491.1h0M219 490.3h0M206.2 484.5h0M210.9 486.9h0M208 488.3h0M209.1 477.1h0M210.7 479.5h0M210.8 488.9h0" stroke="#111" stroke-width="2.5" stroke-linecap="round"/>
<path d="M214.5 437.1h0M208.5 453.3h0M210.5 465.4h0M228.7 479.5h0M253 488.8h0M246 487.5h0M219 470h0M224 468h0M206 448h0" stroke="#111" stroke-width="2.7" stroke-linecap="round"/>
<line x1="204.50" y1="482.00" x2="255.00" y2="489.60" stroke="#111" stroke-width="1.1"/>
<line x1="21.60" y1="325.50" x2="21.60" y2="455.50" stroke="#111" stroke-width="1.1"/>
<polyline points="17.4,331.8 21.6,324.6 25.8,331.8" fill="none" stroke="#111" stroke-width="1.0"/>
<text x="24.60" y="477.30" font-size="9.6" font-style="italic" text-anchor="middle" transform="rotate(-90 24.60 477.30)">PIM2</text>
<text x="31.00" y="513.00" font-size="9.5">Relative gene expression</text>
<line x1="150.30" y1="510.50" x2="262.50" y2="510.50" stroke="#111" stroke-width="1.0"/>
<polyline points="256.5,506.8 263.2,510.5 256.5,514.2" fill="none" stroke="#111" stroke-width="1.0"/>
<text x="316.00" y="408.30" font-size="13.8" font-weight="bold" fill="#000">G</text>
<text x="385.20" y="418.80" font-size="9.6" text-anchor="middle">High</text>
<text x="473.80" y="418.60" font-size="9.6" text-anchor="middle">Low</text>
<text x="337.80" y="447.60" font-size="9.6" text-anchor="end">PIM2</text>
<text x="337.80" y="490.40" font-size="9.6" text-anchor="end">CD3</text>
<text x="337.80" y="533.00" font-size="9.6" text-anchor="end">CD68</text>
<defs><clipPath id="gc"><circle cx="0" cy="0" r="18.3"/></clipPath><clipPath id="gs"><rect x="0" y="0" width="37.5" height="37.5"/></clipPath></defs>
<g transform="translate(365.4 443.6)" clip-path="url(#gc)">
<circle r="18.3" fill="#aeacb6"/>
<ellipse cx="-12.9" cy="-5.3" rx="2.0" ry="0.8" fill="#7a5a48" fill-opacity="0.5"/>
<ellipse cx="6.9" cy="-10.0" rx="2.2" ry="1.4" fill="#9a7a60" fill-opacity="0.5"/>
<ellipse cx="4.3" cy="-12.4" rx="2.3" ry="1.2" fill="#9a7a60" fill-opacity="0.5"/>
<ellipse cx="-7.4" cy="-16.4" rx="1.6" ry="1.8" fill="#a88a6a" fill-opacity="0.5"/>
<ellipse cx="-15.1" cy="-13.4" rx="2.1" ry="1.2" fill="#8a6a58" fill-opacity="0.5"/>
<ellipse cx="-9.4" cy="-11.7" rx="1.2" ry="1.6" fill="#8a6a58" fill-opacity="0.5"/>
<ellipse cx="7.5" cy="0.2" rx="2.0" ry="1.8" fill="#8a6a58" fill-opacity="0.5"/>
<ellipse cx="10.6" cy="-8.3" rx="2.1" ry="1.5" fill="#8a6a58" fill-opacity="0.5"/>
<ellipse cx="-15.0" cy="-5.0" rx="1.2" ry="1.3" fill="#8a6a58" fill-opacity="0.5"/>
<ellipse cx="-14.0" cy="-16.0" rx="1.3" ry="0.9" fill="#8a6a58" fill-opacity="0.5"/>
<ellipse cx="-1.6" cy="5.0" rx="2.2" ry="1.5" fill="#9a7a60" fill-opacity="0.5"/>
<ellipse cx="-4.0" cy="-14.4" rx="1.8" ry="0.8" fill="#9a7a60" fill-opacity="0.5"/>
<ellipse cx="-3.5" cy="-6.4" rx="2.5" ry="1.0" fill="#9a7a60" fill-opacity="0.5"/>
<ellipse cx="6.9" cy="-5.6" rx="1.6" ry="1.6" fill="#8a6a58" fill-opacity="0.5"/>
<ellipse cx="-9.5" cy="-8.0" rx="2.4" ry="2.0" fill="#a88a6a" fill-opacity="0.5"/>
<ellipse cx="-11.6" cy="2.9" rx="1.2" ry="1.0" fill="#7a5a48" fill-opacity="0.5"/>
<ellipse cx="-0.2" cy="-5.7" rx="1.1" ry="1.7" fill="#8a6a58" fill-opacity="0.5"/>
<ellipse cx="-2.0" cy="4.6" rx="2.1" ry="1.4" fill="#a88a6a" fill-opacity="0.5"/>
<ellipse cx="6.3" cy="-4.2" rx="1.8" ry="1.7" fill="#9a7a60" fill-opacity="0.5"/>
<ellipse cx="-15.1" cy="-8.0" rx="1.6" ry="2.0" fill="#7a5a48" fill-opacity="0.5"/>
<ellipse cx="-16.6" cy="-11.4" rx="2.3" ry="0.9" fill="#a88a6a" fill-opacity="0.5"/>
<ellipse cx="1.1" cy="-11.8" rx="1.8" ry="1.0" fill="#9a7a60" fill-opacity="0.5"/>
<ellipse cx="-7.1" cy="-11.9" rx="2.0" ry="0.9" fill="#a88a6a" fill-opacity="0.5"/>
<ellipse cx="-10.3" cy="-4.6" rx="2.1" ry="1.8" fill="#7a5a48" fill-opacity="0.5"/>
<ellipse cx="-1.1" cy="-16.1" rx="2.5" ry="1.9" fill="#9a7a60" fill-opacity="0.5"/>
<ellipse cx="-8.6" cy="0.9" rx="1.7" ry="1.2" fill="#a88a6a" fill-opacity="0.5"/>
<ellipse cx="-2.9" cy="-2.3" rx="1.6" ry="0.8" fill="#a88a6a" fill-opacity="0.5"/>
<ellipse cx="-15.1" cy="-14.5" rx="2.5" ry="1.7" fill="#9a7a60" fill-opacity="0.5"/>
<ellipse cx="6.2" cy="-11.5" rx="1.3" ry="1.9" fill="#8a6a58" fill-opacity="0.5"/>
<ellipse cx="2.2" cy="-15.3" rx="1.2" ry="1.5" fill="#a88a6a" fill-opacity="0.5"/>
<ellipse cx="-0.7" cy="-3.4" rx="1.7" ry="1.8" fill="#a88a6a" fill-opacity="0.5"/>
<ellipse cx="-3.8" cy="-13.2" rx="2.1" ry="1.9" fill="#9a7a60" fill-opacity="0.5"/>
<ellipse cx="-4.3" cy="-16.4" rx="1.6" ry="1.1" fill="#a88a6a" fill-opacity="0.5"/>
<ellipse cx="5.7" cy="-8.7" rx="2.0" ry="1.8" fill="#7a5a48" fill-opacity="0.5"/>
<ellipse cx="10.2" cy="-3.7" rx="2.4" ry="1.5" fill="#8a6a58" fill-opacity="0.5"/>
<ellipse cx="7.8" cy="-13.6" rx="1.4" ry="0.8" fill="#a88a6a" fill-opacity="0.5"/>
<ellipse cx="-15.1" cy="-10.2" rx="2.4" ry="1.3" fill="#a88a6a" fill-opacity="0.5"/>
<ellipse cx="-10.4" cy="-12.3" rx="1.0" ry="0.9" fill="#9a7a60" fill-opacity="0.5"/>
<ellipse cx="7.2" cy="-13.1" rx="1.0" ry="1.9" fill="#a88a6a" fill-opacity="0.5"/>
<ellipse cx="3.9" cy="1.2" rx="1.8" ry="0.9" fill="#9a7a60" fill-opacity="0.5"/>
<ellipse cx="11.0" cy="-15.0" rx="1.5" ry="1.4" fill="#8a6a58" fill-opacity="0.5"/>
<ellipse cx="9.1" cy="0.4" rx="1.5" ry="0.9" fill="#8a6a58" fill-opacity="0.5"/>
<ellipse cx="8.1" cy="-8.5" rx="2.1" ry="1.1" fill="#8a6a58" fill-opacity="0.5"/>
<ellipse cx="-4.9" cy="3.4" rx="1.3" ry="1.6" fill="#a88a6a" fill-opacity="0.5"/>
<ellipse cx="-12.3" cy="0.1" rx="2.0" ry="0.8" fill="#a88a6a" fill-opacity="0.5"/>
<ellipse cx="-0.9" cy="4.8" rx="1.9" ry="1.6" fill="#8a6a58" fill-opacity="0.5"/>
<ellipse cx="4.6" cy="-2.4" rx="1.2" ry="1.0" fill="#a88a6a" fill-opacity="0.5"/>
<ellipse cx="-16.1" cy="-10.3" rx="1.5" ry="0.9" fill="#8a6a58" fill-opacity="0.5"/>
<ellipse cx="-11.4" cy="3.2" rx="1.5" ry="1.2" fill="#7a5a48" fill-opacity="0.5"/>
<ellipse cx="-2.3" cy="4.0" rx="1.4" ry="0.9" fill="#8a6a58" fill-opacity="0.5"/>
<ellipse cx="6.4" cy="-3.1" rx="2.0" ry="1.2" fill="#a88a6a" fill-opacity="0.5"/>
<ellipse cx="0.4" cy="-3.3" rx="1.4" ry="1.5" fill="#7a5a48" fill-opacity="0.5"/>
<ellipse cx="10.0" cy="4.3" rx="1.5" ry="1.8" fill="#7a5a48" fill-opacity="0.5"/>
<ellipse cx="-5.2" cy="-11.6" rx="2.1" ry="1.1" fill="#a88a6a" fill-opacity="0.5"/>
<ellipse cx="-0.7" cy="-8.3" rx="1.7" ry="1.7" fill="#9a7a60" fill-opacity="0.5"/>
<ellipse cx="1.2" cy="-2.2" rx="1.5" ry="1.4" fill="#8a6a58" fill-opacity="0.5"/>
<ellipse cx="9.4" cy="-12.9" rx="2.0" ry="1.5" fill="#7a5a48" fill-opacity="0.5"/>
<ellipse cx="-12.4" cy="1.7" rx="1.6" ry="1.4" fill="#a88a6a" fill-opacity="0.5"/>
<ellipse cx="9.5" cy="5.1" rx="1.9" ry="1.9" fill="#7a5a48" fill-opacity="0.5"/>
<ellipse cx="-0.7" cy="-3.5" rx="1.5" ry="1.0" fill="#a88a6a" fill-opacity="0.5"/>
<ellipse cx="-2.1" cy="-14.6" rx="2.0" ry="1.4" fill="#7a5a48" fill-opacity="0.5"/>
<ellipse cx="-9.5" cy="-7.8" rx="1.1" ry="1.5" fill="#7a5a48" fill-opacity="0.5"/>
<ellipse cx="1.8" cy="-5.0" rx="1.1" ry="0.8" fill="#9a7a60" fill-opacity="0.5"/>
<ellipse cx="10.6" cy="3.6" rx="1.9" ry="2.0" fill="#9a7a60" fill-opacity="0.5"/>
<ellipse cx="-2.4" cy="-9.5" rx="1.9" ry="1.7" fill="#a88a6a" fill-opacity="0.5"/>
<ellipse cx="-5.0" cy="-3.7" rx="1.2" ry="1.4" fill="#9a7a60" fill-opacity="0.5"/>
<ellipse cx="-8.2" cy="-10.7" rx="2.4" ry="0.8" fill="#a88a6a" fill-opacity="0.5"/>
<ellipse cx="-5.8" cy="5.2" rx="1.8" ry="1.9" fill="#9a7a60" fill-opacity="0.5"/>
<ellipse cx="-2.7" cy="-16.2" rx="1.8" ry="0.9" fill="#8a6a58" fill-opacity="0.5"/>
<ellipse cx="-7.8" cy="-0.8" rx="1.8" ry="1.8" fill="#9a7a60" fill-opacity="0.5"/>
<ellipse cx="-11.9" cy="4.0" rx="1.4" ry="3.3" fill="#c8d0e2" fill-opacity="0.6"/>
<ellipse cx="10.0" cy="12.5" rx="1.1" ry="3.2" fill="#c8d0e2" fill-opacity="0.6"/>
<ellipse cx="-2.4" cy="8.5" rx="1.7" ry="2.9" fill="#c8d0e2" fill-opacity="0.6"/>
<ellipse cx="1.7" cy="13.7" rx="0.8" ry="2.5" fill="#c8d0e2" fill-opacity="0.6"/>
<ellipse cx="16.9" cy="16.7" rx="0.9" ry="2.4" fill="#c8d0e2" fill-opacity="0.6"/>
<ellipse cx="-7.1" cy="9.5" rx="0.8" ry="2.2" fill="#c8d0e2" fill-opacity="0.6"/>
<ellipse cx="13.5" cy="8.9" rx="1.5" ry="3.0" fill="#c8d0e2" fill-opacity="0.6"/>
<ellipse cx="5.2" cy="7.4" rx="1.5" ry="2.1" fill="#c8d0e2" fill-opacity="0.6"/>
<ellipse cx="2.9" cy="18.3" rx="1.4" ry="3.2" fill="#c8d0e2" fill-opacity="0.6"/>
<ellipse cx="-9.0" cy="4.3" rx="1.3" ry="2.0" fill="#c8d0e2" fill-opacity="0.6"/>
<ellipse cx="3.5" cy="5.3" rx="1.6" ry="2.6" fill="#c8d0e2" fill-opacity="0.6"/>
<ellipse cx="2.8" cy="10.4" rx="1.4" ry="2.9" fill="#c8d0e2" fill-opacity="0.6"/>
<ellipse cx="-2.7" cy="9.4" rx="1.8" ry="1.8" fill="#c8d0e2" fill-opacity="0.6"/>
<ellipse cx="15.2" cy="15.5" rx="1.2" ry="2.8" fill="#c8d0e2" fill-opacity="0.6"/>
<ellipse cx="-7.3" cy="13.6" rx="1.1" ry="2.2" fill="#c8d0e2" fill-opacity="0.6"/>
<ellipse cx="10.7" cy="16.1" rx="0.9" ry="1.7" fill="#c8d0e2" fill-opacity="0.6"/>
<ellipse cx="7.3" cy="5.4" rx="1.5" ry="1.7" fill="#c8d0e2" fill-opacity="0.6"/>
<ellipse cx="-14.8" cy="7.0" rx="1.4" ry="2.7" fill="#c8d0e2" fill-opacity="0.6"/>
<ellipse cx="-8.6" cy="14.2" rx="1.1" ry="2.0" fill="#c8d0e2" fill-opacity="0.6"/>
<ellipse cx="18.4" cy="17.1" rx="1.7" ry="3.2" fill="#c8d0e2" fill-opacity="0.6"/>
<ellipse cx="13.6" cy="9.0" rx="1.8" ry="3.1" fill="#c8d0e2" fill-opacity="0.6"/>
<ellipse cx="-7.5" cy="15.3" rx="1.0" ry="2.0" fill="#c8d0e2" fill-opacity="0.6"/>
<ellipse cx="-16.8" cy="15.9" rx="0.9" ry="1.9" fill="#c8d0e2" fill-opacity="0.6"/>
<ellipse cx="-11.0" cy="8.6" rx="1.2" ry="2.3" fill="#c8d0e2" fill-opacity="0.6"/>
<ellipse cx="-16.4" cy="14.0" rx="1.7" ry="2.2" fill="#c8d0e2" fill-opacity="0.6"/>
<ellipse cx="-10.3" cy="17.5" rx="1.3" ry="2.9" fill="#c8d0e2" fill-opacity="0.6"/>
<ellipse cx="0.1" cy="14.7" rx="1.1" ry="2.7" fill="#c8d0e2" fill-opacity="0.6"/>
<ellipse cx="1.1" cy="10.0" rx="1.7" ry="1.9" fill="#c8d0e2" fill-opacity="0.6"/>
<ellipse cx="2.1" cy="18.4" rx="1.3" ry="2.8" fill="#c8d0e2" fill-opacity="0.6"/>
<ellipse cx="6.5" cy="2.0" rx="1.6" ry="2.2" fill="#c8d0e2" fill-opacity="0.6"/>
<path d="M-8.2 -3h0M-12.5 9.9h0M-14.8 -3h0M-8 0.9h0M-8.1 18.4h0M-8.1 -5.4h0M14.3 7.1h0M-10.5 -4.6h0M1.2 -1.6h0M-5 17.2h0M9.8 10.9h0M18.3 -17.5h0M-2.8 -10.1h0M13.5 14.9h0M-9.3 -13.5h0M5 5.8h0M-17.7 18.3h0M9.9 4.9h0M-8.3 -16.8h0M-11.3 -15.5h0M-11.6 4.2h0M-6.5 -7.1h0M-3.1 -3.7h0M7.3 15.6h0M17.7 -16.1h0M-1.8 2.4h0M13.6 -15.1h0M12.9 -9.2h0M-17.1 3.3h0M-11.1 9.6h0M17.8 -12.1h0M11 7.1h0M-17.9 12.7h0M6.8 17.6h0M-6.7 1.2h0M7.9 -18.5h0M5.9 -16.9h0M-3.3 5.5h0M-10.5 -12.3h0M15.2 8.3h0M6.4 -15.3h0M3.3 -0.9h0M-13.7 9.2h0M-12.8 -1.3h0M-15.7 -7.2h0M17.7 -8.8h0M3.3 -4.3h0M-16.9 5.2h0M1.1 8h0M16.6 -16.7h0M5.5 -16.2h0M-5 -8.9h0M3.2 13h0M-8.7 -12h0M-1.7 5.9h0M-7.3 6.5h0M1.2 -2.3h0M7.4 -12.8h0M5.6 -12.3h0M18.2 8.6h0M6.9 -15.2h0M2.6 0.6h0M9.3 6.8h0M-18.2 -16.6h0M-4.7 -5.4h0M-4.4 -9.2h0M17.4 5.1h0M5.7 -7.3h0M5 -2.6h0M-7.2 6.6h0M3.7 0.4h0M15.6 -4.5h0M-12.2 -2.1h0M-10.9 11.6h0M-1 2.9h0M-3.7 -16.1h0M12.3 -4.1h0M-14.3 11.4h0M7.4 16.4h0M-4.8 8.4h0M6.9 -5.6h0M1.1 2.2h0M16.3 0.9h0M-10.5 -15.5h0M14 17.4h0M10.9 -15.9h0M-7.4 -0.5h0M3.1 14.7h0M-15.3 12.6h0M-10.2 13.1h0M11.8 11.1h0" stroke="#7a6a68" stroke-width="1.4" stroke-linecap="round" stroke-opacity="0.8"/>
<path d="M8.1 -11h0M-13.2 -17.6h0M-17.2 -4.7h0M16.4 5.9h0M4.5 -14.9h0M7.3 -8.8h0M-0.6 18.1h0M-4 1.9h0M-1 9.3h0M3.8 -13.8h0M-2.1 -10.1h0M-5.7 -9.8h0M14 -16.4h0M-13.4 -1.8h0M5.6 -2h0M12.2 -6.1h0M4.2 1.8h0M-10.7 -17.1h0M-7.1 16.6h0M-14 -15.6h0M14.8 -4.8h0M-14.5 5.1h0M-4.5 13.2h0M13.3 -15.5h0M-13 -12.8h0M0.3 -12.6h0M1.2 6.3h0M1.3 0.5h0M7.3 10.3h0M-15 8.8h0M-17.7 -8.2h0M-2.6 8.1h0M9.2 17.4h0M-0.9 -2.1h0M-17.7 -9.4h0M-8.4 -9.2h0M11.8 0.6h0M-11.9 -8.7h0M-1.1 -8.8h0M6.6 9.2h0M9.9 -7.3h0M-16.7 -12.8h0M-2.4 13.7h0M-6.6 1.3h0M-9.2 18.4h0M11.2 -4h0M16.8 -8.8h0M-10.3 -9.2h0M-10.6 -5.1h0M-18.5 -7.4h0M-14.3 -7.3h0M14.2 8.2h0M3.2 -13.9h0M11.3 -0.3h0M-7 -14.9h0M-3.7 0.3h0M-5.6 5.9h0M3.7 -12.5h0M-9.6 -17.4h0M-8.2 -2.6h0M9.4 11.5h0M6.5 15.9h0M3.2 -13.9h0M-18.3 7h0M-16.8 -6.8h0M-8.7 -13.4h0M-10.9 -14.6h0M-7.4 2.3h0M-2.5 -10.7h0M8.8 -6.4h0M9 14.9h0M7.5 -14.1h0M2.2 -1.9h0M8.8 8.5h0M-8.4 8.3h0M-2 -4.5h0M-9.2 15.5h0M-7.8 -0.7h0M13.3 -0.5h0M16.8 -3.9h0M13.9 -1.3h0M-0.7 -1.6h0M3.6 -10.4h0M2 1.5h0M0.2 -16.3h0M-14.6 -12.8h0M-12 9.5h0M6.6 2h0M-10.5 -15.1h0M-6.4 -15.8h0M17.9 -1.1h0" stroke="#7880a0" stroke-width="1.4" stroke-linecap="round" stroke-opacity="0.8"/>
<path d="M17.6 -16.1h0M-5.1 17.2h0M13 -1.9h0M-15.1 2h0M-17.6 -3.1h0M8.3 -17.9h0M-0.4 -8.3h0M13.2 -15.4h0M-3 11.6h0M-6.5 17.6h0M17 -2.4h0M-17 6.8h0M11.7 -5.8h0M-10.5 12h0M-9.4 -17.5h0M8.8 9.6h0M-6.2 15.1h0M-8.1 7.7h0M-8.4 16.7h0M-17.7 12.1h0M-17 11.3h0M15.1 12.9h0M-1.2 -12.6h0M-9.5 -9.1h0M-2.3 12.4h0M-16 1.1h0M-8.2 -6.1h0M13 -9.8h0M14.8 -0.3h0M-11.3 -15h0M-6.7 -9.7h0M-5 16.4h0M0.2 -11.6h0M0.3 -0.8h0M0.6 0.2h0M10.1 -14.3h0M10.5 -9.7h0M17.5 5.2h0M-7.6 10.8h0M2.4 3.1h0M-7.2 -7h0M-4.4 -1.8h0M11.7 -11h0M8.1 -7.1h0M-6.5 -8.8h0M-12.9 2.7h0M10.6 -13.7h0M-6.1 13h0M7.8 -13.9h0M-16.7 13.8h0M-9 10.6h0M-0.7 16.3h0M-3.1 14.2h0M-7.2 17.8h0M10.2 14.8h0M1.1 -1.2h0M12.5 14.1h0M8.1 17.6h0M1 -8.5h0M-12.6 -14.6h0M-0.6 14.7h0M16.4 8.5h0M-2.6 17.9h0M17.3 -2.6h0M-5.1 13.1h0M18.4 11.1h0M11.8 15.7h0M13.8 3.3h0M-13.1 -16.6h0M9.6 -16.1h0M6.2 -5.1h0M-15.2 -4.4h0M18.4 -7h0M17.9 13.8h0M15.8 12.5h0M0.2 2.8h0M-14 8.3h0M-8.1 -9h0" stroke="#c8cce0" stroke-width="1.4" stroke-linecap="round" stroke-opacity="0.8"/>
</g>
<rect x="370.5" y="436.0" width="11" height="13" fill="none" stroke="#c8c050" stroke-width="1.1" stroke-dasharray="1.6 0.8"/>
<g transform="translate(387.7 425.0)" clip-path="url(#gs)">
<rect width="37.5" height="37.5" fill="#f2ebe4"/>
<ellipse cx="4.0" cy="30.6" rx="3.5" ry="1.0" fill="#d89048" transform="rotate(-45 4.0 30.6)" fill-opacity="0.75"/>
<ellipse cx="35.1" cy="10.3" rx="4.1" ry="1.7" fill="#d89048" transform="rotate(-33 35.1 10.3)" fill-opacity="0.75"/>
<ellipse cx="29.4" cy="37.1" rx="2.8" ry="1.7" fill="#b86a2a" transform="rotate(-40 29.4 37.1)" fill-opacity="0.75"/>
<ellipse cx="28.0" cy="29.2" rx="1.6" ry="1.5" fill="#d0843a" transform="rotate(-20 28.0 29.2)" fill-opacity="0.75"/>
<ellipse cx="15.5" cy="13.4" rx="2.6" ry="1.5" fill="#b86a2a" transform="rotate(34 15.5 13.4)" fill-opacity="0.75"/>
<ellipse cx="12.5" cy="25.7" rx="4.3" ry="1.4" fill="#d89048" transform="rotate(-25 12.5 25.7)" fill-opacity="0.75"/>
<ellipse cx="3.0" cy="12.2" rx="3.2" ry="0.8" fill="#c0742e" transform="rotate(-47 3.0 12.2)" fill-opacity="0.75"/>
<ellipse cx="2.3" cy="33.0" rx="4.4" ry="0.9" fill="#e0a060" transform="rotate(25 2.3 33.0)" fill-opacity="0.75"/>
<ellipse cx="30.8" cy="14.0" rx="3.8" ry="1.7" fill="#e0a060" transform="rotate(-26 30.8 14.0)" fill-opacity="0.75"/>
<ellipse cx="18.0" cy="4.5" rx="3.2" ry="1.2" fill="#b86a2a" transform="rotate(-50 18.0 4.5)" fill-opacity="0.75"/>
<ellipse cx="18.7" cy="0.9" rx="4.4" ry="1.8" fill="#c0742e" transform="rotate(46 18.7 0.9)" fill-opacity="0.75"/>
<ellipse cx="33.5" cy="36.3" rx="4.0" ry="1.8" fill="#d89048" transform="rotate(41 33.5 36.3)" fill-opacity="0.75"/>
<ellipse cx="10.7" cy="21.7" rx="2.3" ry="0.8" fill="#d89048" transform="rotate(35 10.7 21.7)" fill-opacity="0.75"/>
<ellipse cx="33.6" cy="28.9" rx="2.6" ry="1.3" fill="#e0a060" transform="rotate(-29 33.6 28.9)" fill-opacity="0.75"/>
<ellipse cx="23.6" cy="23.8" rx="2.8" ry="1.2" fill="#d0843a" transform="rotate(-43 23.6 23.8)" fill-opacity="0.75"/>
<ellipse cx="27.5" cy="13.4" rx="2.2" ry="1.6" fill="#b86a2a" transform="rotate(46 27.5 13.4)" fill-opacity="0.75"/>
<ellipse cx="10.0" cy="27.2" rx="2.6" ry="1.0" fill="#e0a060" transform="rotate(-36 10.0 27.2)" fill-opacity="0.75"/>
<ellipse cx="12.1" cy="37.1" rx="2.8" ry="1.4" fill="#b86a2a" transform="rotate(47 12.1 37.1)" fill-opacity="0.75"/>
<ellipse cx="24.3" cy="35.8" rx="2.1" ry="1.6" fill="#e0a060" transform="rotate(34 24.3 35.8)" fill-opacity="0.75"/>
<ellipse cx="25.2" cy="23.1" rx="3.3" ry="1.0" fill="#e0a060" transform="rotate(35 25.2 23.1)" fill-opacity="0.75"/>
<ellipse cx="5.6" cy="34.4" rx="4.2" ry="1.1" fill="#c0742e" transform="rotate(51 5.6 34.4)" fill-opacity="0.75"/>
<ellipse cx="31.4" cy="0.6" rx="2.2" ry="1.5" fill="#e0a060" transform="rotate(21 31.4 0.6)" fill-opacity="0.75"/>
<ellipse cx="1.1" cy="5.9" rx="3.8" ry="1.4" fill="#b86a2a" transform="rotate(59 1.1 5.9)" fill-opacity="0.75"/>
<ellipse cx="22.8" cy="30.2" rx="2.6" ry="0.9" fill="#e0a060" transform="rotate(45 22.8 30.2)" fill-opacity="0.75"/>
<ellipse cx="14.3" cy="11.1" rx="2.5" ry="1.4" fill="#d0843a" transform="rotate(49 14.3 11.1)" fill-opacity="0.75"/>
<ellipse cx="5.5" cy="20.0" rx="2.0" ry="1.7" fill="#d0843a" transform="rotate(28 5.5 20.0)" fill-opacity="0.75"/>
<ellipse cx="32.5" cy="22.5" rx="2.4" ry="1.4" fill="#d0843a" transform="rotate(-42 32.5 22.5)" fill-opacity="0.75"/>
<ellipse cx="35.7" cy="17.4" rx="2.9" ry="0.9" fill="#b86a2a" transform="rotate(29 35.7 17.4)" fill-opacity="0.75"/>
<ellipse cx="6.5" cy="32.8" rx="3.5" ry="1.7" fill="#c0742e" transform="rotate(-25 6.5 32.8)" fill-opacity="0.75"/>
<ellipse cx="26.1" cy="35.5" rx="2.3" ry="1.6" fill="#d89048" transform="rotate(-20 26.1 35.5)" fill-opacity="0.75"/>
<ellipse cx="33.0" cy="29.5" rx="3.1" ry="0.9" fill="#c0742e" transform="rotate(30 33.0 29.5)" fill-opacity="0.75"/>
<ellipse cx="16.9" cy="9.4" rx="3.0" ry="1.1" fill="#e0a060" transform="rotate(-34 16.9 9.4)" fill-opacity="0.75"/>
<ellipse cx="28.7" cy="4.8" rx="2.6" ry="1.0" fill="#d89048" transform="rotate(-34 28.7 4.8)" fill-opacity="0.75"/>
<ellipse cx="23.7" cy="7.5" rx="3.6" ry="1.7" fill="#b86a2a" transform="rotate(-28 23.7 7.5)" fill-opacity="0.75"/>
<ellipse cx="12.7" cy="4.4" rx="1.9" ry="1.8" fill="#e0a060" transform="rotate(-45 12.7 4.4)" fill-opacity="0.75"/>
<ellipse cx="5.7" cy="27.6" rx="2.0" ry="1.4" fill="#c0742e" transform="rotate(-29 5.7 27.6)" fill-opacity="0.75"/>
<ellipse cx="27.5" cy="16.8" rx="4.1" ry="1.1" fill="#b86a2a" transform="rotate(38 27.5 16.8)" fill-opacity="0.75"/>
<ellipse cx="24.5" cy="33.0" rx="1.5" ry="1.4" fill="#d89048" transform="rotate(-59 24.5 33.0)" fill-opacity="0.75"/>
<ellipse cx="24.5" cy="28.0" rx="2.7" ry="1.8" fill="#d0843a" transform="rotate(55 24.5 28.0)" fill-opacity="0.75"/>
<ellipse cx="9.3" cy="34.4" rx="2.3" ry="1.7" fill="#b86a2a" transform="rotate(-29 9.3 34.4)" fill-opacity="0.75"/>
<ellipse cx="8.0" cy="17.0" rx="3.4" ry="1.0" fill="#e0a060" transform="rotate(47 8.0 17.0)" fill-opacity="0.75"/>
<ellipse cx="9.1" cy="8.1" rx="4.5" ry="1.7" fill="#d89048" transform="rotate(29 9.1 8.1)" fill-opacity="0.75"/>
<ellipse cx="30.4" cy="27.7" rx="2.2" ry="1.4" fill="#d89048" transform="rotate(-53 30.4 27.7)" fill-opacity="0.75"/>
<ellipse cx="23.5" cy="3.4" rx="4.2" ry="1.6" fill="#b86a2a" transform="rotate(46 23.5 3.4)" fill-opacity="0.75"/>
<ellipse cx="15.1" cy="13.5" rx="1.9" ry="1.6" fill="#b86a2a" transform="rotate(24 15.1 13.5)" fill-opacity="0.75"/>
<ellipse cx="9.3" cy="19.9" rx="4.5" ry="1.5" fill="#d0843a" transform="rotate(20 9.3 19.9)" fill-opacity="0.75"/>
<ellipse cx="18.7" cy="5.8" rx="2.4" ry="1.6" fill="#d89048" transform="rotate(31 18.7 5.8)" fill-opacity="0.75"/>
<ellipse cx="19.7" cy="4.5" rx="4.4" ry="1.5" fill="#d89048" transform="rotate(-36 19.7 4.5)" fill-opacity="0.75"/>
<ellipse cx="36.9" cy="31.4" rx="2.4" ry="1.1" fill="#b86a2a" transform="rotate(-47 36.9 31.4)" fill-opacity="0.75"/>
<ellipse cx="36.2" cy="23.3" rx="1.9" ry="1.7" fill="#c0742e" transform="rotate(33 36.2 23.3)" fill-opacity="0.75"/>
<ellipse cx="21.5" cy="8.5" rx="2.1" ry="1.3" fill="#c0742e" transform="rotate(-55 21.5 8.5)" fill-opacity="0.75"/>
<ellipse cx="27.0" cy="19.2" rx="3.1" ry="1.4" fill="#e0a060" transform="rotate(-22 27.0 19.2)" fill-opacity="0.75"/>
<ellipse cx="33.2" cy="27.0" rx="2.7" ry="1.3" fill="#b86a2a" transform="rotate(-29 33.2 27.0)" fill-opacity="0.75"/>
<ellipse cx="4.4" cy="34.7" rx="2.0" ry="0.9" fill="#c0742e" transform="rotate(50 4.4 34.7)" fill-opacity="0.75"/>
<ellipse cx="33.3" cy="26.0" rx="2.3" ry="1.2" fill="#c0742e" transform="rotate(-33 33.3 26.0)" fill-opacity="0.75"/>
<ellipse cx="25.1" cy="17.5" rx="2.3" ry="1.2" fill="#c0742e" transform="rotate(28 25.1 17.5)" fill-opacity="0.75"/>
<ellipse cx="9.2" cy="24.1" rx="3.8" ry="1.0" fill="#d89048" transform="rotate(-21 9.2 24.1)" fill-opacity="0.75"/>
<ellipse cx="25.7" cy="2.3" rx="3.4" ry="1.5" fill="#b86a2a" transform="rotate(-49 25.7 2.3)" fill-opacity="0.75"/>
<ellipse cx="9.9" cy="16.0" rx="2.2" ry="1.5" fill="#e0a060" transform="rotate(-49 9.9 16.0)" fill-opacity="0.75"/>
<ellipse cx="35.8" cy="28.7" rx="1.9" ry="1.0" fill="#c0742e" transform="rotate(60 35.8 28.7)" fill-opacity="0.75"/>
<ellipse cx="20.6" cy="3.8" rx="2.6" ry="1.2" fill="#d89048" transform="rotate(-35 20.6 3.8)" fill-opacity="0.75"/>
<ellipse cx="11.5" cy="31.6" rx="2.9" ry="1.4" fill="#d0843a" transform="rotate(59 11.5 31.6)" fill-opacity="0.75"/>
<ellipse cx="37.3" cy="24.1" rx="2.8" ry="1.4" fill="#e0a060" transform="rotate(-26 37.3 24.1)" fill-opacity="0.75"/>
<ellipse cx="35.9" cy="2.5" rx="1.5" ry="1.7" fill="#d0843a" transform="rotate(-22 35.9 2.5)" fill-opacity="0.75"/>
<ellipse cx="23.2" cy="35.2" rx="3.8" ry="1.6" fill="#c0742e" transform="rotate(37 23.2 35.2)" fill-opacity="0.75"/>
<ellipse cx="0.3" cy="19.1" rx="3.0" ry="1.7" fill="#d0843a" transform="rotate(34 0.3 19.1)" fill-opacity="0.75"/>
<ellipse cx="7.5" cy="1.3" rx="3.7" ry="1.1" fill="#d0843a" transform="rotate(44 7.5 1.3)" fill-opacity="0.75"/>
<ellipse cx="9.5" cy="33.3" rx="3.0" ry="0.9" fill="#e0a060" transform="rotate(-48 9.5 33.3)" fill-opacity="0.75"/>
<ellipse cx="31.7" cy="8.4" rx="3.2" ry="1.0" fill="#b86a2a" transform="rotate(40 31.7 8.4)" fill-opacity="0.75"/>
<ellipse cx="11.0" cy="31.4" rx="2.1" ry="1.5" fill="#c0742e" transform="rotate(21 11.0 31.4)" fill-opacity="0.75"/>
<rect x="18.0" y="0.0" width="14" height="2.5" fill="#a85a20" fill-opacity="0.8"/>
<path d="M9.6 28h0M12.7 4.2h0M18.7 35.4h0M19.5 6.1h0M30.2 3.3h0M9.7 28h0M26.9 19.1h0M15.3 2.8h0M18.9 16.4h0M5.8 27.2h0M9.1 9.6h0M11.9 20.8h0M19.5 27.9h0M15.4 16h0M15.7 0.2h0M33.9 11.2h0M28.7 28.6h0M31.5 26.5h0M32.8 10.6h0M25.8 6.1h0M37.5 35.6h0M15.8 22h0M9.2 23h0M23.9 2.3h0M2.7 33.7h0M1.1 16.5h0M26.9 9.2h0M11.1 29.1h0M15 4.2h0M20.4 11.3h0M9.9 32.8h0M7.2 29.9h0M10 35.6h0M23.9 6.5h0M33.2 8.8h0M8.2 32.1h0M35.4 1.7h0M34.5 17.9h0M19.7 0.4h0M33.9 4h0M29.7 15.4h0M9.1 35h0M31.5 29.4h0M5.2 20.7h0M5.2 20.4h0M34.2 21.8h0M31.9 12.3h0M19.5 14.6h0M23.8 25.2h0M11.5 18.1h0M28.5 9.9h0M11 26.4h0M33.9 7.1h0M25.3 7.9h0M0.5 3.1h0M5.9 37.3h0M36.2 6.3h0M16.5 30h0M29.8 33.7h0M4.6 14.1h0M23.1 15.2h0M10 14.3h0M13.3 34.2h0M26.7 13.4h0M20.3 13.4h0M23.7 30.6h0M14 11.6h0M25 1.3h0M12 8.2h0M18.5 15.3h0M8.4 7.4h0M24.7 21.1h0M2.7 34.1h0M2 11.6h0M7 21.5h0M4.9 3.2h0M1.9 19.5h0M2.3 22h0M23.2 24.7h0M20.8 5.7h0" stroke="#98a0c0" stroke-width="1.2" stroke-linecap="round" stroke-opacity="0.8"/>
<path d="M36.4 20.1h0M1 25.9h0M2.1 12.5h0M17.1 30.5h0M22.8 29.8h0M10.9 32.4h0M14.1 30.7h0M9.6 11.8h0M3.6 31h0M25.7 24.5h0M13.6 17.7h0M28.7 24.1h0M2 11.8h0M32.5 26.2h0M36.6 14.2h0M4.1 19.3h0M16.3 19.3h0M34.8 28.6h0M12.8 23.3h0M25.3 12h0M19.6 29.2h0M6.2 12.6h0M13.7 24.2h0M16.8 0.2h0M9.7 36.6h0M22.1 12.8h0M5.3 2h0M0.8 22.3h0M17.8 22.1h0M12.3 33.9h0M26.3 4.7h0M7.4 15.2h0M30.9 6.3h0M3.8 8.2h0M15.9 31.4h0M8.9 24.3h0M15.7 23.6h0M17.9 8h0M15.4 10.5h0M16.6 3.4h0M22 24.7h0M37.1 2.7h0M19.1 21.6h0M26.5 0.2h0M1 18.9h0M21 19.7h0M25 2.7h0M7.8 13.7h0" stroke="#c88040" stroke-width="1.2" stroke-linecap="round" stroke-opacity="0.8"/>
<path d="M11.9 36.7h0M31.8 28.7h0M23.9 30.9h0M29.8 10.7h0M14 29.2h0M37.3 26.2h0M36 26.9h0M25 3h0M36 20.5h0M15.5 9h0M14.8 2.8h0M26.2 25.8h0M37.4 22.6h0M31.5 31.3h0M25.9 3.4h0M25.6 8.8h0M11.5 12.9h0M21.1 29.1h0M5.9 26h0M34.4 12.6h0M7 23.7h0M6.2 6.2h0M37.4 14.2h0M30.8 19.8h0M0 20.5h0M11.6 5.8h0M5 23.2h0M9.8 7h0M28.1 13.4h0M7.9 2.8h0M10.9 18.5h0M12.9 28.6h0" stroke="#705048" stroke-width="1.2" stroke-linecap="round" stroke-opacity="0.8"/>
</g>
<rect x="413.70" y="456.80" width="7.50" height="1.80" fill="#111"/>
<g transform="translate(365.4 486.8)" clip-path="url(#gc)">
<circle r="18.3" fill="#d0d3de"/>
<path d="M-1.3 -18.4h0M-18.4 -6.9h0M11.4 11.3h0M-6.1 17.1h0M1.1 5.1h0M7.5 13.6h0M8.1 -12.8h0M-12.7 -5.5h0M-5 18.2h0M-3 -9.3h0M-10.7 -9.6h0M3.6 -17.7h0M-8.9 12.4h0M-14.9 13.6h0M-4.3 9.1h0M1.7 -17.7h0M16.5 -10h0M-14.3 -4.3h0M15.4 -2.2h0M10.6 -6.5h0M-7 -16.1h0M-10.3 16.8h0M-2.6 13.3h0M-15.8 6h0M2.2 -10.5h0M11.1 3.1h0M-4.7 -3.2h0M-8.4 -0.5h0M13.5 5.6h0M1.4 -14.4h0M-16.5 -10.6h0M2.3 -4h0M11.3 -10.5h0M17 -16.3h0M6.3 -0.8h0M13 -15.5h0M10.7 8.9h0M1.4 9.5h0M6.1 2.8h0M-6.6 12.7h0M-9.2 1.7h0M-18.4 -11.7h0M-10.6 15.4h0M-13.1 10.8h0M-11.5 2.6h0M3.4 9.2h0M14 -15.9h0M-6.8 3.5h0M12.2 7.1h0M16.8 -1.4h0M11.1 -5h0M18.1 -13.5h0M14.7 -11.6h0M2.6 14.8h0M9.2 15.8h0M10.9 8.5h0M17.5 8.2h0M10.8 -17.5h0M16 15.6h0M-3.3 -15.3h0M-1.6 -5.8h0M-10.9 7.4h0M4.2 4h0M17.3 -11h0M14.4 5.4h0M-8.9 17.8h0M3.4 -18.1h0M-16.3 3h0M17.8 -16.6h0M-16.4 8.1h0M4.5 11.9h0M-16.6 1.4h0M-3.1 -9.9h0M15.4 14.4h0M5.7 12h0M11.2 1.9h0M17 -16.3h0M14.4 -3.2h0M-7.8 0.6h0M14.6 5.4h0M8.7 6.6h0M-5.8 10.7h0M3.5 -13.4h0M-12.2 -14.5h0M-2.4 -12.7h0M2.6 -14.3h0M9.8 13.5h0M11.4 -8.3h0M7.2 -5.3h0M-4.3 -13.2h0M10.8 -2.3h0M-11.2 -8.1h0M-10.7 0.2h0M13 18.4h0M0.6 -12.9h0M11.3 11.3h0M-14.8 6.7h0M3.9 2.4h0M-14.5 14.9h0M0.8 0.5h0M-10.4 -8.3h0M3.4 -9.4h0M6.1 9.5h0M17.6 8.4h0M-0.3 9.4h0M-4.9 16.7h0M-4.4 -8.3h0M15.2 5.8h0M-12.8 -6.8h0M-7.5 -17.6h0M-17.2 15.7h0M3.7 -13.5h0M-0.6 12.6h0M-12.2 -8.6h0M-0.2 -3.1h0M18.3 -4.7h0M3.9 -14.5h0M-10.2 14.2h0M-9.7 -18.3h0M9.4 17.1h0M-6.6 -7.6h0M0 0.2h0M-4.4 6.5h0M11.9 -18.3h0M-3.5 0.2h0M12.1 -16h0M17.4 -6.3h0M-15.1 -4.4h0M-16.1 -6.2h0M-17.5 -6.5h0M-3.7 5.8h0M14.8 2.3h0M11.7 -10.5h0M-12.2 12h0M11 -2.3h0M10 -16.5h0M12.9 -8.6h0M-2 -15.3h0M13.4 13h0M-15.9 4h0M-10.3 -1.8h0M2.1 16.9h0M-1.6 -14.3h0M-2.3 2.3h0M-18.2 15.8h0M10.1 3.2h0M-8.2 -3.9h0M-4.7 16h0M-10.7 11.3h0M13.2 -9.5h0M16.8 13.7h0M5.7 14.8h0M-1 -13.5h0M-4.7 -5.5h0M16.4 1.8h0M5.9 -14.2h0M-4.6 13.1h0M-15.6 -15.9h0M-5.6 -7.7h0M1 16.4h0M10.2 7.2h0M-0.7 -1h0M1 12.8h0M11 -6.1h0M-15.4 -6h0M-2 18.1h0M-11.7 -16.7h0M2.3 -15.4h0M3.1 -8.4h0M8.4 -3.3h0M-8.7 7.2h0M-6.4 -4.5h0M11 -14.4h0M11.5 -2h0M14.4 -10.5h0M-11.1 -11.8h0M-10.2 -11.7h0M1.8 11.2h0M-13.1 -0.9h0M15.5 1.6h0" stroke="#a0a8c4" stroke-width="1.3" stroke-linecap="round" stroke-opacity="0.8"/>
<path d="M15.2 9.5h0M-18.3 -7h0M13.4 -4.3h0M12.6 2.2h0M-17 -10.4h0M-13.8 -1.8h0M11.6 0.3h0M-18.1 11.9h0M-18.3 14.6h0M5.5 -3.7h0M-5.5 -8.2h0M-4 0.5h0M17.9 -9.6h0M12.1 14.2h0M5 14.7h0M4.6 13.7h0M-14.2 -3.3h0M8.8 15.7h0M-10.9 4.4h0M-0.8 -8.6h0M0 0.6h0M-15.2 7.5h0M2.9 6.2h0M-9.8 -17.6h0" stroke="#8a7a80" stroke-width="1.3" stroke-linecap="round" stroke-opacity="0.8"/>
<path d="M1.5 18.2h0M3.1 -10h0M6.2 -17.3h0M-14.2 -14.8h0M-11.7 15.7h0M3.1 6.5h0M-3.8 -15.5h0M5.2 -6.6h0M-11 -16.1h0M14.7 8.9h0M-4.8 -10.5h0M17.7 17.1h0M1.7 -3.4h0M12 2.6h0M-5.8 17.4h0M15.6 -8.8h0M17.7 13h0M18.1 16.9h0M-7.1 11.1h0M-11.6 -11.9h0M-9.1 -7.3h0M-6.4 12.7h0M5 -17.9h0M11.9 -12.4h0M10.5 -9.3h0M16.9 5.2h0M4.3 -8.2h0M13 -15.7h0M12.1 2.2h0M-3.4 -3.6h0M-17.6 -0.3h0M-0.9 -4.8h0M-11.1 3h0M-1.8 -10.5h0M-10 -12.1h0M-17.6 8h0M-11.8 6.7h0M-4.6 -14.7h0M-10.5 8.3h0M-6.5 2.3h0M-15.4 16.7h0M-1.6 11.2h0M-10.3 16.3h0M-9.9 6.9h0M14.7 4.9h0M-14.5 13.7h0M10.5 6.7h0M4.5 -16.5h0M-7.4 -6.2h0M-9.9 11.2h0M-13.8 -8.8h0M-12 -12.1h0M13.9 -17.1h0M-16.8 10h0M-7.4 -7.7h0M-12.4 3.9h0M-14.4 -2.7h0M5.1 -18.5h0M-2.2 -13.5h0M-17.1 10.9h0M-17.6 -11.7h0M16.9 -16.8h0M-2.3 7.6h0M2.5 17.4h0M-2.6 14.2h0M-8.8 -4.2h0M18.3 -2.8h0M3.8 12.9h0M13.9 15.5h0M-17.6 -5h0M16.2 -4.9h0M-10 -9.4h0M12.7 2.4h0M-4.3 -11.5h0M-8.6 -9.3h0M-0.3 -16.4h0M1.3 3.6h0M9.2 1.7h0M9.7 -12.2h0M12.3 -10.6h0M-5.7 3.8h0M-14.6 11.7h0M11.5 8h0M-6.3 -11.7h0M-11.4 -10.1h0M4.8 -9.7h0M2.4 10h0M14.2 9.1h0M-6.4 8.4h0M16.6 5.7h0" stroke="#eceef4" stroke-width="1.3" stroke-linecap="round" stroke-opacity="0.8"/>
</g>
<rect x="369.5" y="482.0" width="13" height="12" fill="none" stroke="#e0e830" stroke-width="1.1" stroke-dasharray="1.6 0.8"/>
<g transform="translate(387.7 467.7)" clip-path="url(#gs)">
<rect width="37.5" height="37.5" fill="#e0e2ea"/>
<path d="M24.1 3.1h0M30.9 20h0M30.1 17.8h0M21.5 0.6h0M24.9 10.9h0M33.4 32h0M32.6 17.7h0M39 34.6h0M32.8 32h0M32.6 17.7h0M33.5 20.1h0M19.7 6.8h0M30.7 24.5h0M26.5 5.5h0M32 20.1h0M31.5 18h0M34 26.1h0M30.5 26.5h0M37 34.6h0M33.5 33.5h0M38.5 31.5h0M27.7 5.5h0M27.8 16.7h0M28.7 26.4h0M29.9 15.7h0M19.9 0h0M29.1 22.1h0M24.1 4.1h0M26.1 0.9h0M24.6 6.4h0M24.7 8.6h0M22.9 8.3h0M26.8 15.2h0M30.2 28h0M29.9 22.7h0M33.9 15h0M25.5 14.2h0M33.7 17.2h0M25.8 12.9h0M37.9 33.3h0M31.8 14.9h0M33.1 28h0M27.8 20.8h0M26.8 16.5h0M32.1 22.1h0M32.4 29.3h0M31.4 17.8h0M33.8 24.9h0M31.1 10.7h0M26.9 25.3h0M22.6 8.6h0M20.4 10.7h0M36 35h0M34 26h0M31.8 24h0M23.5 11.2h0M30.5 21.5h0M29.2 11.2h0M24.4 8.2h0M32.3 24.1h0" stroke="#4a3028" stroke-width="1.3" stroke-linecap="round" stroke-opacity="0.75"/>
<path d="M13.3 15.2h0M22.4 9.9h0M6.1 1h0M6.3 32.6h0M32 11.6h0M17 15.1h0M21.1 9h0M1.5 20.9h0M36.1 31.1h0M23 4.5h0M15.6 18.5h0M37 23.3h0M26.8 17.7h0M27.9 6.7h0M36.8 35.5h0M25.2 15.3h0M32 0.4h0M9.1 23.1h0M30.9 10.4h0M26.1 34.1h0M29.8 19.2h0M30 32.8h0M17.2 8.8h0M12.8 13.8h0M35.9 0.3h0M23.4 6.8h0M6.5 14h0M16 28.6h0M9.9 25.8h0M1.8 13h0M11.9 5.4h0M19.7 13.1h0M10.8 10.4h0M29.1 14.2h0M25.6 26.3h0M30.6 31h0M25.6 19.2h0M12.6 35.7h0M3 3.9h0M3.9 14.9h0M33.3 35.1h0M25.6 35h0M8.8 20.7h0M12.6 20.7h0M33.2 6h0M19.3 3h0M4.5 13h0M18.9 1.1h0M31.3 0.4h0M28.9 11.1h0M13.5 30.5h0M1.2 17.4h0M5.8 27.9h0M27.5 7.8h0M29.9 5.7h0M5.7 6.3h0M15.5 35h0M10.5 16.5h0M20.1 31.9h0M7.7 12.6h0" stroke="#3a2a28" stroke-width="1.2" stroke-linecap="round" stroke-opacity="0.8"/>
<path d="M5.4 35.3h0M27.9 18.8h0M13.4 22h0M13.5 13.4h0M25.8 2.4h0M3.8 6.7h0M37.4 5.9h0M15.9 15.5h0M17.6 25.8h0M27.4 31.6h0M7.8 36.4h0M24.2 26.2h0M12.4 21.2h0M0.7 32.2h0M14.2 24.5h0M21 21.9h0M10 26.7h0M7.7 33.4h0M17.8 34.3h0M1.3 1.5h0M2.4 18.9h0M3.4 20.3h0M5.1 3.9h0M23.5 34.2h0M26.3 2.2h0M20.2 35.1h0M7.6 34.7h0M31.6 29.1h0M22.5 13.2h0M4.3 5.3h0M2.4 33.5h0M27.6 15.5h0M32.5 19.9h0M25.7 1.9h0M35.3 10.3h0M13.8 14.4h0M17.5 24.9h0M10 22h0M17.7 8.6h0M30.5 4.8h0M21.8 9.9h0M28.9 9.8h0M24.5 15.9h0M22.6 20.5h0M16.8 27.5h0M30.2 1.4h0M2.6 19.1h0M28.5 27.7h0M26.5 12.7h0M19.8 21.1h0M3.7 24.8h0M1 19.5h0M16.7 18.2h0M31.8 26.7h0M22.5 17.9h0M25.4 24.4h0M9.6 16.4h0M6.2 35.1h0M16.4 21.3h0M33.1 16.1h0M15.5 2h0M17.7 13.7h0M20.8 25.9h0M20.2 10h0M32.8 27.7h0M7.7 32.6h0M15.9 3.4h0M21.7 20.6h0M22.5 25.5h0M11.8 34h0M3 1h0M28.2 4.9h0M21.9 6.6h0M13 13h0M19.5 5.1h0M23.9 23.4h0M9.6 37.2h0M17.4 1.2h0M35.9 15.7h0M21.4 28.9h0M31 26.5h0M34.4 35h0M36.8 21h0M12.1 12.8h0M24.3 27h0M23.7 2.6h0M10.4 15.2h0M28.2 22.3h0M26.8 35.5h0M25.3 28.4h0M10.6 27.2h0M32.6 25.8h0M10.9 34.8h0M14.5 21.8h0M13.8 17.5h0M31.5 22.4h0M33.6 32h0M2.8 33.9h0M35.4 8.3h0M30 25.4h0M24.1 6.5h0M33.2 13.8h0M17.6 1.1h0M7.2 35.6h0M11 35.2h0M7.5 27.2h0M16.6 25.1h0M0.2 22.8h0M18 11h0M24.2 5.8h0M10.3 3h0M24.3 4.3h0M33.7 36.7h0M8.3 34.1h0M0.4 25.5h0M28.4 29.9h0M23.1 7.2h0M30.7 28.7h0M13 14.2h0M11.8 26.8h0" stroke="#a8b0cc" stroke-width="1.2" stroke-linecap="round" stroke-opacity="0.8"/>
<path d="M3.4 29.4h0M18.5 16.5h0M16.4 14.5h0M13.4 17.8h0M4.1 10.1h0M20.6 16.9h0M1.5 18h0M17.3 12.3h0M2.1 16.9h0M33.1 8.1h0M1.8 7.2h0M16.4 21.7h0M16.5 29.1h0M24.9 33.1h0M37 33.1h0M8.2 7h0M27.1 35.3h0M31.9 28.6h0M9.1 18.2h0M22.2 25.4h0M22.5 25.1h0M7.6 17.7h0M17.6 3.7h0M6.8 24.2h0M17.1 17h0M35 33.1h0M20.8 23.1h0M29.7 36.7h0M22.9 17.8h0M3.3 28.2h0M1.7 11h0M7.3 32.3h0M23.6 21.6h0M0.4 8.9h0M35.1 5h0M14.3 10.5h0M5.3 4.7h0M28.2 17.5h0M10.6 30h0M17 24.3h0M5.4 0.3h0M11.6 1.6h0M32.5 15.4h0M4.4 28.8h0M9.8 29.7h0M23.2 30.4h0M4.2 29h0M7.7 35.3h0M30 0.5h0M9.6 34.3h0M21.5 15.7h0M23.5 3.4h0M19.2 16.2h0M37.5 0.2h0M23.7 15.6h0M14.8 19.8h0M28.5 6.9h0M24.7 21.6h0M3.4 19.3h0M22 18.6h0" stroke="#c0c4d8" stroke-width="1.2" stroke-linecap="round" stroke-opacity="0.8"/>
</g>
<g transform="translate(365.4 529.0)" clip-path="url(#gc)">
<circle r="18.3" fill="#b8bac8"/>
<ellipse cx="3.4" cy="-6.3" rx="1.2" ry="1.5" fill="#7a5a48" fill-opacity="0.45"/>
<ellipse cx="3.3" cy="-15.0" rx="1.1" ry="1.4" fill="#7a5a48" fill-opacity="0.45"/>
<ellipse cx="0.7" cy="-15.9" rx="1.2" ry="1.1" fill="#7a5a48" fill-opacity="0.45"/>
<ellipse cx="13.9" cy="2.0" rx="1.5" ry="1.2" fill="#7a5a48" fill-opacity="0.45"/>
<ellipse cx="3.3" cy="-7.6" rx="1.9" ry="1.7" fill="#7a5a48" fill-opacity="0.45"/>
<ellipse cx="9.3" cy="5.1" rx="1.5" ry="1.5" fill="#7a5a48" fill-opacity="0.45"/>
<ellipse cx="0.4" cy="7.0" rx="1.9" ry="1.5" fill="#7a5a48" fill-opacity="0.45"/>
<ellipse cx="13.8" cy="-1.0" rx="1.0" ry="1.1" fill="#7a5a48" fill-opacity="0.45"/>
<ellipse cx="6.6" cy="-1.2" rx="1.3" ry="0.8" fill="#7a5a48" fill-opacity="0.45"/>
<ellipse cx="10.5" cy="-3.8" rx="1.2" ry="1.4" fill="#7a5a48" fill-opacity="0.45"/>
<ellipse cx="10.0" cy="2.1" rx="1.6" ry="1.8" fill="#7a5a48" fill-opacity="0.45"/>
<ellipse cx="13.2" cy="7.2" rx="0.9" ry="1.5" fill="#7a5a48" fill-opacity="0.45"/>
<ellipse cx="4.4" cy="7.3" rx="1.0" ry="1.2" fill="#7a5a48" fill-opacity="0.45"/>
<ellipse cx="8.6" cy="-17.2" rx="1.6" ry="1.7" fill="#7a5a48" fill-opacity="0.45"/>
<ellipse cx="2.6" cy="-11.8" rx="1.1" ry="1.0" fill="#7a5a48" fill-opacity="0.45"/>
<ellipse cx="9.3" cy="-17.7" rx="1.5" ry="1.6" fill="#7a5a48" fill-opacity="0.45"/>
<ellipse cx="4.8" cy="0.9" rx="1.1" ry="1.5" fill="#7a5a48" fill-opacity="0.45"/>
<ellipse cx="5.8" cy="-15.1" rx="0.9" ry="1.1" fill="#7a5a48" fill-opacity="0.45"/>
<ellipse cx="11.8" cy="10.1" rx="0.8" ry="1.6" fill="#7a5a48" fill-opacity="0.45"/>
<ellipse cx="2.7" cy="7.0" rx="1.4" ry="1.1" fill="#7a5a48" fill-opacity="0.45"/>
<ellipse cx="13.9" cy="4.9" rx="1.3" ry="1.2" fill="#7a5a48" fill-opacity="0.45"/>
<ellipse cx="11.6" cy="-7.1" rx="1.9" ry="1.7" fill="#7a5a48" fill-opacity="0.45"/>
<ellipse cx="9.9" cy="6.1" rx="0.9" ry="1.2" fill="#7a5a48" fill-opacity="0.45"/>
<ellipse cx="6.6" cy="-7.1" rx="1.2" ry="1.6" fill="#7a5a48" fill-opacity="0.45"/>
<ellipse cx="3.3" cy="-15.7" rx="0.8" ry="1.4" fill="#7a5a48" fill-opacity="0.45"/>
<ellipse cx="0.6" cy="8.6" rx="1.5" ry="1.0" fill="#7a5a48" fill-opacity="0.45"/>
<ellipse cx="6.5" cy="7.3" rx="1.0" ry="1.3" fill="#7a5a48" fill-opacity="0.45"/>
<ellipse cx="7.9" cy="-2.7" rx="1.8" ry="1.1" fill="#7a5a48" fill-opacity="0.45"/>
<ellipse cx="9.1" cy="-13.7" rx="1.4" ry="0.9" fill="#7a5a48" fill-opacity="0.45"/>
<ellipse cx="1.9" cy="-2.1" rx="1.7" ry="1.4" fill="#7a5a48" fill-opacity="0.45"/>
<ellipse cx="0.5" cy="0.4" rx="1.8" ry="1.6" fill="#7a5a48" fill-opacity="0.45"/>
<ellipse cx="0.8" cy="3.8" rx="0.8" ry="1.5" fill="#7a5a48" fill-opacity="0.45"/>
<ellipse cx="7.7" cy="-16.5" rx="1.2" ry="1.1" fill="#7a5a48" fill-opacity="0.45"/>
<ellipse cx="12.3" cy="-7.7" rx="1.3" ry="1.2" fill="#7a5a48" fill-opacity="0.45"/>
<ellipse cx="0.0" cy="-18.5" rx="1.1" ry="1.5" fill="#7a5a48" fill-opacity="0.45"/>
<ellipse cx="7.9" cy="-14.0" rx="0.9" ry="1.5" fill="#7a5a48" fill-opacity="0.45"/>
<ellipse cx="8.4" cy="-17.8" rx="1.2" ry="1.8" fill="#7a5a48" fill-opacity="0.45"/>
<ellipse cx="7.7" cy="9.1" rx="2.0" ry="0.8" fill="#7a5a48" fill-opacity="0.45"/>
<ellipse cx="3.6" cy="7.8" rx="0.9" ry="1.0" fill="#7a5a48" fill-opacity="0.45"/>
<ellipse cx="6.2" cy="4.1" rx="1.2" ry="0.9" fill="#7a5a48" fill-opacity="0.45"/>
<path d="M3.1 -1.2h0M-0.5 -16.2h0M7.8 -3h0M-13.1 11.1h0M-2.2 4.9h0M-15.6 -7.7h0M2.6 3h0M13.1 -6.2h0M4.1 7.2h0M-17.3 -8.4h0M6.4 -17.8h0M12.2 1.5h0M-4.6 -2.8h0M12.4 -8.1h0M-2.4 5.2h0M-6.2 -0.7h0M14.3 12h0M15.6 0.4h0M-3.2 -12.3h0M13.9 -17.5h0M8.2 3h0M8.1 -18.3h0M-14.3 0.6h0M-8.8 -9.6h0M14.6 -6.2h0M-11.9 -11.4h0M-9 -6.6h0M7.4 -16.4h0M4.2 4.5h0M5.6 2.9h0M-17.6 0.7h0M-7.1 0.6h0M6.8 -1.2h0M3.2 1.7h0M16.8 7.5h0M5.1 2.4h0M-14.5 -15.7h0M4.7 -6.4h0M-6.9 -8.7h0M-9.2 -3.3h0M-14.1 -7.2h0M-5 -14.2h0M15.6 17.9h0M3.7 17.5h0M7.3 9h0M-7.7 12.4h0M10.6 -8.4h0M-11.3 -2.3h0M0.2 1.6h0M-1.8 -10.7h0M3.8 15.9h0M15.2 2.4h0M10.6 15.8h0M-17.6 3.4h0M6.6 -17.2h0M-17.8 15.5h0M15.4 -8.2h0M18.3 -4.2h0M7.8 -1.3h0M-13.7 16h0M2.2 -0.6h0M-17.3 -9.3h0M8.2 16h0M6.4 13.4h0M12 4.6h0M-5.1 -1.4h0M-11.7 10.9h0M-6.6 12.3h0M-10.2 -15.6h0M-13.2 3.9h0M4.5 18h0M-5.6 13.3h0M-15.5 -16.9h0M7.2 -1.6h0M-10.1 2.1h0M-0.9 7.1h0M-3.2 -5.1h0M2.6 1.5h0M-6.1 -4.5h0M9.3 -3.7h0M-0.4 -14.4h0M-9 7.9h0M14.6 1.5h0M-6 3.9h0M11 18.2h0M-17 -16.2h0M-2.5 -17.3h0M1.4 -4.8h0M-17.6 -13.7h0M0.7 14.7h0M-9.2 -4.3h0M4.2 14h0M4.2 9.4h0M-5.7 -9.5h0M13.3 5h0M-13.6 8.3h0M-15.1 10.7h0M6.9 13.8h0M-3.7 -9.3h0M16 -17.6h0M0.1 -7.3h0M-14.5 -10.9h0M18.3 -14.8h0M16.1 -6.2h0M7.8 -4.5h0M-17.5 4.5h0M-14.4 -16.6h0M-13 15h0M-7.2 2.5h0M-5.4 -5.4h0M-15.2 -18.1h0M10.7 -8.6h0M16.2 -15.8h0M12.9 12.3h0M12.6 0.4h0M-16.3 9.3h0M11.5 -10.2h0M10.1 -17.4h0M3.8 -18.5h0M-14 -1.4h0M14.7 12.7h0M8.7 -16.7h0M16.2 -11.3h0M5.4 0.5h0M-5.4 -3.3h0M9.7 -10.5h0M15.2 15.6h0M-7.8 0.9h0M13.4 0.9h0M-16.5 3.3h0M-12.6 10.6h0M-12.8 1.6h0M-7.7 5.7h0M17.2 8.9h0M-5.4 0.6h0M5.6 -9.3h0M0.1 0.3h0M-13.2 7.4h0M-11.9 5.6h0M15.6 3.1h0M14.2 3h0M-3.4 -0.8h0M11.6 10.9h0M1 3.2h0M-7.6 -12.1h0M1.3 -13.5h0M-7.3 -15.7h0M3.8 -11.4h0M-13.6 -17.6h0M-5.3 15.6h0M-1.7 0.2h0M-2 -10.8h0M13.4 8.1h0M-4 2.7h0M13 5.1h0M-13.6 -18.2h0M-16.8 -7.8h0M16.5 2.6h0M-11.9 2.7h0M4.2 10.1h0M9.1 6.8h0M-8.2 -9.8h0M-13.3 -8.4h0M-6.5 -3.1h0M-12 6.1h0" stroke="#8a90a8" stroke-width="1.3" stroke-linecap="round" stroke-opacity="0.8"/>
<path d="M11.4 1.6h0M-2.5 -10.8h0M10.9 -12.7h0M-10.7 -6.3h0M11.1 1.2h0M-11.3 -15.9h0M13.8 16.9h0M15 11.1h0M1 12.2h0M-10.4 -16.3h0M3.7 1.3h0M10 -0.5h0M-8.8 13.4h0M6.6 -7h0M-11.2 2.5h0M-4.2 -5.7h0M0 12.7h0M2.6 -12.7h0M11.6 -4.3h0M-15 -13.4h0M-7.1 -18.2h0M14.6 -3.4h0M-16.1 8.9h0M10.3 -16.6h0M-6.9 4.6h0M-0.1 -0.6h0M7.3 -15.7h0M-16.9 16.9h0M-5 -0.3h0M-1 -14.3h0M13.2 -9.2h0M10.9 3.2h0M-2.4 -8.1h0M13.1 -0.6h0M17.9 9.6h0M-6.9 10.4h0M12.7 10.6h0M-4.9 -1.9h0M-9.2 7.9h0M-13.8 9.3h0M-10.4 -17.1h0M2.4 -10.5h0M3.5 14.5h0M15.9 9.9h0M-0.2 14.1h0" stroke="#6a5a58" stroke-width="1.3" stroke-linecap="round" stroke-opacity="0.8"/>
<path d="M-7.8 2.2h0M-9.9 14.4h0M5.5 14.6h0M-15.1 -1.8h0M-16.4 17.1h0M10.6 -12.2h0M-15.6 1.1h0M6.8 -15.1h0M-12.1 9.8h0M-5 -5.7h0M-11.6 -5.2h0M-1.1 -10.7h0M7.4 0.1h0M7.4 3.6h0M12.1 -16.5h0M13.6 11.2h0M-2.4 -9.5h0M-15 12.7h0M15.9 8.8h0M-1.2 -14.9h0M17.2 9.8h0M-16.7 -13.6h0M14.4 -6.7h0M-4.6 -14.9h0M-16.2 -5.6h0M16.5 8.7h0M-3.3 -4.9h0M12.9 -11h0M-5.6 9.7h0M3.2 7.7h0M-8.6 -0.7h0M-2.4 -2.3h0M-9 10.8h0M-14 1.7h0M-6 -13.9h0M5 14.9h0M5 -1.4h0M-6.4 -8.9h0M-12.2 10.9h0M5.2 -10.1h0M5.3 3.3h0M-18.2 9.4h0M6.5 -15.4h0M-8.8 15.1h0M-4.6 5.7h0M1.2 1.7h0M-18.1 12.4h0M-2.3 5.8h0M3.3 -6h0M-5.3 -18.4h0M-7.3 -16.4h0M-0.7 -5.6h0M-9.4 3h0M4.9 -18.5h0M-17.8 2.7h0M-10 3.7h0M2.5 -17.3h0M17.5 -13.3h0M5.8 -2.6h0M9.1 6.4h0M7.2 -1h0M-13.3 -13.9h0M5.6 -9.9h0M-0.1 0.4h0M13.1 -10.7h0M16.4 5.9h0M17.9 5.3h0M-16.4 16h0M-13.4 2.7h0M-3.4 -9.9h0M16.2 2.3h0M18.1 6.8h0M-13.9 1.9h0M7.5 -1h0M-12.7 14.6h0M-11.1 13.1h0M-5.3 -2.8h0M-11.7 -5.9h0M-9.1 14.6h0M-4.1 -16.7h0M14.8 6.4h0M2.6 -0.4h0M-18 -15.9h0M-11 11.6h0M7.6 0.9h0M-12.7 17.3h0M-9.3 10.6h0M-3.9 -18.3h0M-1.5 1.3h0M3.2 -2.6h0" stroke="#d0d4e0" stroke-width="1.3" stroke-linecap="round" stroke-opacity="0.8"/>
</g>
<rect x="370.0" y="521.5" width="11.5" height="15" fill="none" stroke="#e0e830" stroke-width="1.1" stroke-dasharray="1.6 0.8"/>
<g transform="translate(387.7 510.3)" clip-path="url(#gs)">
<rect width="37.5" height="37.5" fill="#bcc2d8"/>
<path d="M19.6 3.7h0M6.6 33.4h0M18.3 17.2h0M23.1 3.2h0M21 8h0M15.4 27.7h0M17.7 22.6h0M3.2 35.7h0M20.8 20h0M19.3 17.7h0M4.7 36.2h0M24.2 10.6h0M20.1 19.7h0M21.9 4.9h0M15.2 25h0M17.3 25.4h0M25 7.1h0M22.1 12.2h0M19.2 21.1h0M22.4 14h0M20.2 5.1h0M18.4 13.2h0M19.1 24h0M4.4 34.5h0M5.2 34.5h0M23.1 0.3h0M10.1 32.5h0M14.6 23h0M22 22.8h0M23 5.1h0M20.7 20h0M22.9 16.8h0M20.2 5.7h0M13 26.4h0M21.9 13.8h0M7.8 31.4h0M8.7 37.8h0M22.1 6.3h0M6.7 35.7h0M21.5 2.8h0M22.9 10.3h0M19.7 4.7h0M23.2 4.8h0M22.1 3.9h0M18.3 22.7h0M13.3 26h0M12.3 27.9h0M10.1 31h0M23.9 7.2h0M4.5 34.8h0M26.4 8.4h0M4.8 35.2h0M10.8 31.8h0M20.2 16.8h0M21.1 19.8h0M16.2 27h0M9.9 33.4h0M22.9 10.8h0M16.2 22.8h0M12.1 31.9h0M21.7 0.9h0M5.6 34h0M18.3 15.7h0M19.9 1h0M20.7 16h0M20.7 8.2h0M22.9 18.5h0M9.7 28h0M7.9 31.5h0M5.5 33.5h0M24 5.7h0M19.2 17.9h0M13.2 26.5h0M16.1 26.7h0M18.4 26.7h0M21.2 11.5h0M19.7 6.9h0M7.7 35.1h0M22.5 15.7h0M23.8 8.4h0M24.6 15.3h0M19.9 -2h0M21.9 14.6h0M20.5 16.2h0M16.9 25h0M16.7 26.8h0M18.1 23.3h0M17.6 25.3h0M11.2 31.5h0M12.4 31.9h0" stroke="#3a2428" stroke-width="1.5" stroke-linecap="round" stroke-opacity="0.7"/>
<path d="M1 20.1h0M6 21.1h0M37 27.5h0M34.4 29.9h0M7.8 3.1h0M36.7 36.2h0M13.6 21.9h0M34.4 11.5h0M14.5 19.3h0M33 2.5h0M22 19.8h0M14.7 7.2h0M16.7 22h0M4.6 27.3h0M18.1 13.6h0M12.3 24.2h0M7.9 23.8h0M16.9 2.1h0M9.6 2.1h0M3.6 8.7h0M6.5 21.6h0M10 13.9h0M27.6 0.5h0M9.2 5.9h0M10 4h0M13 29h0M0.3 3.6h0M19.4 7.3h0M18.3 18.7h0M9 14.1h0M25.6 0.2h0M7.9 20.7h0M3.5 17h0M36.4 4.1h0M10.9 21.5h0M11.8 19.9h0M4.1 24.4h0M17 35.4h0M31.9 6.1h0M3.5 4.5h0M29.4 12.3h0M7.8 2.2h0M13.5 23.1h0M36.5 11.8h0M30.3 36.6h0M15 6.6h0M1.2 9.3h0M8.1 22.1h0M12.2 27.1h0M21.3 22.3h0M24.9 15.3h0M24.6 2.4h0M17.1 17.1h0M17 28.6h0M23.1 2.1h0M18.9 30h0M34.2 12h0M34.4 12.4h0M30.6 31.9h0M8.8 23.9h0M18.9 27h0M35.2 6.3h0M36.8 0.9h0M0.7 20.5h0M6.8 12.2h0M19.1 20h0M10.2 4.5h0M32.4 26h0M31.2 34.9h0M32.5 18.7h0M2.1 34h0M12.9 24h0M5.8 14.6h0M25.3 17h0M4.1 13.7h0M16.4 35.5h0M32.7 31.9h0M0.1 35.4h0M26.3 1.4h0M18.1 34.3h0M15.4 21.1h0M11 36.5h0M12.3 6.5h0M28.6 22.4h0M31.2 23.8h0M12.8 30.7h0M20.1 19.8h0M12.3 13.6h0M0.2 28h0M26.8 14.8h0M8.2 5.5h0M3.9 22.1h0M21.8 19.7h0M30 15.5h0M18.2 11.1h0M18 0.7h0M33.5 30h0M21.3 26.8h0M35.7 11.2h0M35.2 6.7h0M23 24.1h0M2.8 29.7h0M4.3 5.4h0M9.5 24.7h0M35.8 23.2h0M2.2 16.2h0M27.2 2.1h0M23.5 18.1h0M24 14.2h0M22.5 4.8h0M3.4 3.6h0M15 34.5h0M36.9 8.5h0M10.5 29.8h0M36.6 34.8h0M18.2 12.7h0M32.2 10.9h0M9.1 4.7h0M10 1.7h0M16.6 37.4h0M20.3 12.9h0M28 9h0M8.7 25h0M37 6.9h0M1.2 33.3h0M32 17.2h0" stroke="#7880a8" stroke-width="1.3" stroke-linecap="round" stroke-opacity="0.8"/>
<path d="M12.5 1.3h0M19.2 6h0M13.3 3.5h0M36 27h0M27.5 19.9h0M29.7 18.2h0M13.3 27.6h0M34.9 3.3h0M17.3 24.6h0M26.8 0.9h0M24 26.5h0M15.4 12h0M28.2 19.1h0M9.2 21.3h0M3.8 14.1h0M29.1 8.9h0M9.4 20h0M15.5 37.3h0M32 26.3h0M25.1 14.9h0M11.5 24.4h0M10.8 5.8h0M31.4 9.7h0M36.4 23.6h0M6 22.1h0M31.3 11.3h0M35.8 19.3h0M18.3 7.7h0M3.8 19.3h0M34.8 19.5h0M19.9 20.1h0M32.7 26.6h0M19.8 7.6h0M2.4 31.5h0M23.9 18.9h0M22.5 28.3h0M6.6 18.9h0M28.5 33.1h0M23.8 30.4h0M22.9 30.7h0M25.9 36.8h0M14.8 35.1h0M18.3 22.4h0M29.2 17.5h0M16.2 14.9h0M11.5 26.3h0M5.2 21.7h0M7.1 7.4h0M22.1 18.7h0M4.9 5.6h0M28.1 24.3h0M25.8 12.2h0M22.2 12.3h0M15.4 11.4h0M6 35.4h0M3.2 18.4h0M7.8 35h0M36 35.4h0M10 19.3h0M23 31.6h0M25.5 15.4h0M22.4 14.7h0M30.2 34.1h0M21.2 8.7h0M17.9 30.6h0M34.2 18.5h0M25.5 5.7h0M31 35.3h0M2.6 14.9h0M17.7 9.4h0M31.6 2.3h0M32.8 19.4h0M11 1.4h0M17.1 32.4h0M10 17h0M35.5 36.1h0M30.8 28.8h0M30.6 6.1h0M36.7 33.7h0M28.9 5.5h0M0.7 31.3h0M7.7 2h0M4.1 22.9h0M26 0.9h0M28.2 8.1h0M33.2 12.3h0M23.1 34.1h0M22.2 12.3h0M2.5 23.7h0M34.8 12h0M24.2 10.3h0M26.8 19.8h0M29.3 7.6h0M18.4 5.7h0M21.6 1.4h0M8.5 2.9h0M29.4 13.2h0M16.7 1.9h0" stroke="#dcdfea" stroke-width="1.3" stroke-linecap="round" stroke-opacity="0.8"/>
<path d="M7.1 35.1h0M7.1 26.7h0M27.5 11.1h0M24.4 19.6h0M36.2 4.9h0M12.2 18.9h0M26.6 8.1h0M16.9 28.9h0M7 1.3h0M5.7 18.6h0M17.5 36h0M1.5 19h0M3.6 8.7h0M8.4 21.2h0M19.6 33.9h0M9.1 24.3h0M26.2 22.3h0M29 10.1h0M6.9 5.1h0M0.8 36.8h0M6.2 18.3h0M21.6 9h0M33.1 9.4h0M33.3 27.4h0M22.2 23.1h0M2.6 26.1h0M2.1 0.8h0M35.1 19.6h0M0.6 9.6h0M16.3 9.5h0M13.2 17.3h0M14.8 12.5h0M0.9 21.6h0M22.5 17.2h0M27.4 37.4h0M20.2 20.2h0M24.4 31.6h0M31.5 16.9h0M2.4 15.8h0M5.4 4.3h0M5.3 5.2h0M22.4 22.2h0M31.3 16.5h0M1.3 29.1h0M17.6 13.2h0M33.8 7.3h0M2.5 32.6h0M35.9 32.7h0M1.7 10h0M22.9 27.6h0M23.5 23.7h0M29.1 34.6h0M20.6 19.7h0M18.8 16.9h0M24.5 7.1h0M1 35.5h0" stroke="#4a4058" stroke-width="1.3" stroke-linecap="round" stroke-opacity="0.8"/>
</g>
<g transform="translate(453.5 443.6)" clip-path="url(#gc)">
<circle r="18.3" fill="#aeb8ce"/>
<path d="M-0.1 12.2h0M11.8 -12h0M13.5 -4.4h0M-0.6 -0.7h0M-3.3 13.8h0M-10.2 0.5h0M-1.4 -7.9h0M-15.7 9.4h0M9.5 -16h0M-0.3 0.5h0M6.7 -12h0M15.9 7.5h0M-13.3 18.3h0M1 9.1h0M7.2 -2.1h0M-1 -17.3h0M12.1 6.4h0M-15.7 4.6h0M8.9 -11.5h0M13.1 6.9h0M-6.3 1.5h0M9 12.6h0M12.3 -7.7h0M1.5 16.1h0M9.7 -11.9h0M-13.4 16h0M-18 -13.6h0M-17.3 4.3h0M-17.2 -8.3h0M15.8 -9.2h0M-2.1 -5.9h0M10 -17.6h0M-2.7 -16.6h0M17.2 16h0M13.8 -1.9h0M16.3 9.6h0M-12.2 -2.8h0M0.1 -13.1h0M4.3 8.6h0M-15.6 3.5h0M9.4 14h0M11.9 7.7h0M-14.5 6.2h0M5.2 -5h0M-11.6 -4.9h0M-15 5.6h0M0.9 17.7h0M-8.5 -6.4h0M-12.5 15.5h0M-1.8 10.6h0M-17.6 14h0M11.9 0.5h0M-9.4 3.2h0M17.9 -11.6h0M0.2 17.5h0M9.1 -17.9h0M-13.8 -1.8h0M-7.8 -8.9h0M1.9 8.1h0M4.6 11.5h0M-12 -10.7h0M-15.6 4.4h0M16.6 -11.5h0M-6.7 0.4h0M-12 13.3h0M-9.8 7.9h0M-14.1 18.4h0M-4 -1.4h0M-3.4 2.3h0M-8 1h0M2.5 -14.2h0M-3.3 12.8h0M-3.7 3.7h0M-18.4 4.8h0M-15.8 -5.2h0M16.4 -1h0M-8.7 10.1h0M-2.1 -3h0M-9.8 -8.6h0M-13.8 0.5h0M-3 -0.1h0M-4.5 3.7h0M-7.4 -12.1h0M0.9 -7h0M-17.3 2.7h0M-2 -4.2h0M-12.3 13.7h0M16.8 -13.3h0M10.7 15.5h0M-11.5 12h0M8 -0.7h0M4.2 -5h0M-5 6.5h0M13.6 -7.4h0M-12.4 -0.3h0M6.6 -10.3h0M-15.4 -16.5h0M-7.8 6.3h0M5.8 16.1h0M-11.4 -13.1h0M6.3 4.1h0M-7.7 -17.5h0M1.8 0.9h0M-0.6 -7.3h0M2.2 2.7h0M5.3 -13.7h0M-0.6 11.5h0M-13.6 7.1h0M17.5 -16.1h0M-10.1 9.5h0M1.5 1.3h0M11.8 -7.1h0M1.9 15.4h0M17.4 -4.7h0M-1 -14.4h0M1.2 7.4h0M-13.9 7.3h0M4.8 4.8h0M-3.1 -13.3h0M10.9 10.3h0M7.2 7.1h0M-13.4 14.5h0M7 17.7h0M-15.8 15h0M-4.1 -17.3h0M9 4.9h0M-17.1 -6.7h0M-0 16.8h0M-7.8 -17.5h0M17.8 -12.4h0M11.4 -16.2h0M0.3 4.3h0M3.1 17.9h0M-8.8 -7.9h0M2 -12h0" stroke="#8894bc" stroke-width="1.3" stroke-linecap="round" stroke-opacity="0.8"/>
<path d="M8 7.4h0M-4 -8.4h0M-6.5 0.1h0M-2 -16.4h0M-11.7 10.3h0M16.7 -12.1h0M-1.9 -2h0M-4.3 2.4h0M-18.5 18h0M18.3 3.2h0M6 -0.5h0M-10.5 13.3h0M-12.2 -17.4h0M16.6 9.5h0M-16.3 10.7h0M-6.9 7h0M-13.2 13.9h0M-2.1 2h0M1.2 -16.5h0M-0.6 1.2h0M-15 4.6h0M-0.8 11.7h0M-10 2.2h0M-5.2 -9.6h0M-13.5 -2.3h0M-13.4 -10.6h0M10.6 9.6h0M14.9 10.9h0M-2.6 -16.2h0M-16 6.7h0M17 12.5h0M-5.3 13h0M10.2 4.9h0M13.1 -10.2h0M5.7 10.1h0M0.6 11.4h0M7 -9.4h0M6 8.9h0M5.1 -8.8h0M-16.4 -1.7h0M8.9 9.4h0M15.6 11.8h0M-0.5 -6.8h0M1.1 14.2h0M-7.6 -11.3h0M14.4 16.5h0M8.4 17.6h0M11.4 4.1h0M6.4 1.8h0M13.9 -8.7h0M10.4 7.3h0M-3.4 -17.6h0M-15.7 14h0M7.6 12.9h0M1.7 -6.4h0M-2.8 -4h0M-9.5 -6.5h0M-3.1 -12.7h0M-13.3 14.9h0M13.6 -17h0M-9 0.4h0M-2.6 10.9h0M-0.1 -7h0M3.5 7.7h0M4.7 -14.9h0M18 -4h0M-11.6 -5.2h0M-14.1 -11.1h0M15.8 -11.8h0M15.1 11h0M-9.8 15.1h0M-16 -2.8h0M18 -7h0M12.9 1.8h0M5.9 16.1h0M11.6 -9.6h0M6.5 -4.5h0M4.4 11h0M-8.6 -9.6h0M-13 -13.1h0M18.1 12.6h0M-12.8 -14.6h0M-15 5.2h0M9.7 0.6h0M-8.5 -8.5h0M-9.7 1.6h0M-16.9 13.8h0M9.9 -3.9h0M15.7 14.5h0M2.3 -17h0M2.3 -6.9h0M10.9 2.7h0M10.7 -10h0M-9.2 -9.8h0M-5.2 1.3h0M-1.5 17.3h0M5.4 4.7h0M-7.9 8.9h0M-17.5 3.8h0M18 -14.4h0M13.5 -8.5h0M-6 -4.2h0M-4.9 16h0M-1.7 -5h0M-15.7 16.1h0" stroke="#ccd2e2" stroke-width="1.3" stroke-linecap="round" stroke-opacity="0.8"/>
<path d="M0.3 18.2h0M-10.2 -6.3h0M2 14.4h0M12.4 12.2h0M-16 -0.5h0M0.3 8.6h0M-12.3 -3h0M7.2 -18.2h0M-1.8 -1.8h0M15.2 18.2h0M9.1 3.8h0M14 7.7h0M-15.4 0.5h0M-16.6 -11.8h0M9.6 15.8h0M-14.3 7.3h0M9 17.1h0M6 8.7h0M4.1 17.3h0M-15.6 -3h0M-5.7 17.8h0M16.2 -7.2h0M-12.1 2.4h0M-9.3 17.5h0M7.3 10.3h0M-5.8 1.3h0M2.9 8.6h0M0.3 -3.3h0M-11.6 -9.9h0M9.5 5.8h0M4.6 14.2h0M-13.1 13.3h0M-5 -4.6h0M17.2 -5.3h0M-9 16.8h0M8.7 -1h0M5.4 -14.6h0M-7.7 1h0M10.3 15.5h0M16.9 13.5h0M13.1 6.5h0M4.5 -14.3h0M5.9 12.7h0M-4 -14h0M-11 14.6h0M13.6 -7.9h0M-12.1 8.3h0M-3.5 -8.2h0M14.8 -13.1h0M4.7 17.1h0M-14.7 3.5h0M-15.4 4.3h0M-15.7 2h0M3.1 9.8h0M-4 -13.6h0M14.7 5.3h0M6.1 -0h0M15.8 1.5h0M-9.7 -1h0M8.1 -1.1h0" stroke="#7080a8" stroke-width="1.3" stroke-linecap="round" stroke-opacity="0.8"/>
</g>
<rect x="456.5" y="445.7" width="10" height="11.5" fill="none" stroke="#e0e830" stroke-width="1.1" stroke-dasharray="1.6 0.8"/>
<g transform="translate(453.5 486.8)" clip-path="url(#gc)">
<circle r="18.3" fill="#b0bacf"/>
<path d="M-2.4 -6.8h0M-8.2 -5h0M-5.7 7.2h0M3.3 -18.2h0M-5.3 -18.5h0M8 -8.7h0M13 5.6h0M6 10.7h0M3.4 8.8h0M10.4 -15.9h0M6.6 12.7h0M-9 -4.5h0M13.5 15.9h0M-9.7 -0.1h0M-0.4 3h0M-11 -4.3h0M13.1 -9.7h0M13.3 17.3h0M-15.6 15.2h0M-8.7 -14h0M-1 18.5h0M3.5 -8.4h0M3 7.7h0M-12.2 16.3h0M-1.3 -13.1h0M5.7 0.2h0M-7.9 14h0M-17.9 -8h0M4 -12.9h0M-17.6 9.7h0M-13.1 -11.4h0M-4.1 -2.6h0M-0.8 -15.6h0M9.9 -18h0M5.1 4.4h0M-10 -8.9h0M15.7 8.5h0M-8.3 -14.5h0M9.9 -13.9h0M-11.9 7.2h0M2.6 7.4h0M-15 -6.1h0M17.9 7.3h0M-5.2 -6.6h0M-15 -9.6h0M4.3 -8.8h0M7.5 -6.3h0M-18.3 -16.9h0M-17.4 6.4h0M12.2 2h0M10.1 2h0M-12.7 -9.9h0M-4.8 2.4h0M11.9 12.4h0M-3.9 11.9h0M-7.1 3.1h0M6.9 7.5h0M8.3 7.5h0M-9.1 13.1h0M8.9 12.5h0M-8.2 -3.9h0M-6 12.6h0M0.9 5h0M13.6 -4.8h0M0.8 -0.4h0M-7 0.4h0M3.3 -15.4h0M2.8 -5.5h0M-11.1 6.3h0M12.7 6.9h0M12.4 -12h0M-3.4 -10h0M-15.9 6.1h0M-13.3 12.4h0M0.3 -2.2h0M13.2 -6.8h0M13.9 7.8h0M6 11.6h0M0.3 -4.8h0M7.3 -12.1h0M8.4 -14.5h0M15.6 16.3h0M-7.6 -6h0M6.9 16.7h0M-0.6 -1.9h0M0.5 -14.5h0M13.1 5.5h0M8.4 12.2h0M-13.8 -7.6h0M7.2 -11.9h0M1.9 0.5h0M-7.4 -15.6h0M2.8 -14.5h0M9.2 13.5h0M-13.4 5.6h0M3.4 3.6h0M-7.4 -9.3h0M16.4 10h0M-14.6 -10.7h0M-4.7 -2.4h0M-13.9 14.6h0M7.5 -7h0M-4 -12.2h0M-9.6 -9.3h0M14.2 1.5h0M-15.8 14.7h0M-6.7 -17.1h0M9.2 9.2h0M11 -14.2h0M14.8 -12.3h0M4.8 18.1h0M7.6 -4.1h0M5.5 0.8h0M5.5 2.8h0M15.6 9.4h0M-4.1 9.3h0M6.7 -9h0M7 2.6h0M-12.1 2.3h0M1.6 0.7h0M11.8 7.4h0M14.7 -12.3h0M13.5 13.4h0M-18.2 -2.7h0M13.9 -8.1h0M16.1 -16.2h0M11.8 17.9h0M4.1 0.2h0M1.4 -4h0M-6.9 8.5h0M-3.6 3.8h0M-16.6 18.2h0M17.5 -8.3h0M9.2 1.7h0M10 -11.2h0" stroke="#8a98bc" stroke-width="1.3" stroke-linecap="round" stroke-opacity="0.8"/>
<path d="M12.2 -1.1h0M4.3 5.4h0M-17.1 0.5h0M8.2 -12.8h0M-2.5 1.2h0M-11.1 10.4h0M-9 -1.1h0M2.2 -12.5h0M11.1 -18.5h0M-12.7 10.2h0M5.7 7.9h0M14.4 7.4h0M10.9 -10.9h0M16.4 7.7h0M-4.7 10.9h0M-9.4 11.7h0M7.3 -13.3h0M13.9 8.3h0M-1.6 11h0M-0.9 14.7h0M-17 -15.6h0M6.9 -0.1h0M0.3 -6.8h0M6.4 18.1h0M-1.4 10.3h0M-3.5 -1.2h0M0.6 12.4h0M-5.9 -16.9h0M10.1 14h0M16.2 -5.3h0M-12.1 -15.7h0M-9.2 2h0M-6.8 -2.6h0M7.2 -1.2h0M-5.1 -12.4h0M12.6 -17.6h0M0.7 0.4h0M15.4 -4.5h0M5.8 0.5h0M11.2 0.8h0M16.6 2h0M-14 16.2h0M-15.1 -16.7h0M-4.9 5.7h0M4.5 -15.2h0M4.5 7.5h0M7.3 3.3h0M-6.1 -16h0M-14.2 -13.6h0M-0.8 5.4h0M1.4 6.4h0M-5.5 -11.6h0M3.2 12.1h0M-4.7 -12.7h0M15.3 -14.4h0M5.8 -3.9h0M-2.4 14.6h0M-10.6 11.7h0M15.4 12.4h0M18 10.6h0M-15.6 -6.6h0M-15.1 -7.9h0M-1.3 -3.4h0M14.8 16.8h0M7.8 0.8h0M13.7 -15.7h0M-16.9 14.3h0M1.2 13.3h0M6.6 1.7h0M-4.4 9.1h0M16.5 1.1h0M-9.7 -3.5h0M-7.6 12.4h0M-6.1 1.8h0M-3.7 -15.7h0M15.4 6.1h0M8.4 -6.6h0M16.8 -1.1h0M-3.8 -16.7h0M6.9 5.6h0M5.3 -13.8h0M-1.9 -1.6h0M-17.5 -17.4h0M0.9 -14.5h0M6.7 -10.2h0M11.1 -6.6h0M-5 -5.3h0M8.5 3.6h0M13.9 -6.9h0M15 -10.3h0M12.7 12.1h0M7.6 -9.8h0M-15.3 -6.3h0M-1.8 17.5h0M-9.6 6.7h0M-2.4 -15.3h0M18 -9.9h0M-14.4 -13.4h0M-16.9 4.1h0M-18 8.8h0M-10.7 -7.5h0M12.7 -13.3h0M10.5 17.7h0M12.1 -7.8h0M-12.2 12.5h0" stroke="#ccd4e4" stroke-width="1.3" stroke-linecap="round" stroke-opacity="0.8"/>
<path d="M-15.7 -4.8h0M4.3 11.9h0M3.4 -0.2h0M-6.9 7.5h0M8.4 11.6h0M-2.1 9.8h0M-3.9 -12.8h0M3.9 -16.6h0M-13 18.4h0M-5.5 16.5h0M17.1 -6.2h0M14.3 15.8h0M11.5 -7.7h0M-1.5 6.6h0M7.8 15.3h0M-1.8 8.3h0M-16.4 13.2h0M-7.3 8.1h0M-17.9 -3.5h0M-0.8 -0.5h0M0.7 18.1h0M12.8 -4.6h0M-16.3 -10.9h0M11.6 7.9h0M1.1 8.9h0M-10.9 -0.9h0M-1.2 -6.2h0M-1 -13.9h0M2.6 5.4h0M1.6 10.6h0M12.9 5.2h0M-1.8 -4.9h0M-5.9 15.8h0M-16.1 -13.2h0M-4.4 -11.6h0M5.7 17.2h0M6.7 1.8h0M0.6 -4.3h0M0.1 7.8h0M-6.3 -10.8h0M-11.3 -17.5h0M2.4 6.7h0M-11.7 2.8h0M-1.1 -13.4h0M-13.5 9.9h0M15.5 -7.6h0M3.4 -2.5h0M1.1 -6.5h0M0.9 -12.8h0M-9 -12.3h0M0.6 4.3h0M2.7 -7h0M5.1 -2.6h0M15.9 -5.4h0M-13.5 -2.5h0M-7.1 12.1h0M8.8 16.7h0M-0.8 9.8h0M5.6 -15.3h0M-15.4 14.7h0" stroke="#7484a8" stroke-width="1.3" stroke-linecap="round" stroke-opacity="0.8"/>
</g>
<rect x="454.9" y="484.9" width="10" height="12.5" fill="none" stroke="#e0e830" stroke-width="1.1" stroke-dasharray="1.6 0.8"/>
<g transform="translate(453.5 529.0)" clip-path="url(#gc)">
<circle r="18.3" fill="#b4b8c8"/>
<ellipse cx="-3.0" cy="-7.4" rx="3.5" ry="1.6" fill="#f4f5f8"/>
<path d="M16.4 -4.4h0M-16.2 -10.8h0M12.1 -4.9h0M8.6 7.5h0M-7.8 -15.3h0M-11.7 -8.8h0M-9.5 -0.2h0M7 0.5h0M-8.7 15h0M-17.7 11.2h0M-2.8 9.5h0M-18.4 -17.4h0M16.8 -0.9h0M-0.1 -16.7h0M14 -5.5h0M16 -14.6h0M-5 13.2h0M15.2 14.1h0M-16.2 10.2h0M12.7 13.8h0M8.2 -11.8h0M0.1 -13.1h0M-17.6 2.8h0M4.9 13.9h0M-15.8 12.7h0M-0.1 9h0M-8 -0.6h0M8.4 -6.1h0M-17.1 -7.3h0M6.8 -15.8h0M18.3 0.6h0M1.5 -15.2h0M9.8 2.5h0M-3.6 9.9h0M-13.6 -9.8h0M14 -12h0M16.6 11.8h0M18.1 11.5h0M4.2 -10.7h0M11.2 10.4h0M16.5 9h0M-16.2 12.7h0M8.3 2.3h0M-16.6 -10.5h0M-16.1 -17.5h0M-1.9 -17.5h0M7.4 -16.3h0M16.7 10h0M-3.1 5.4h0M-12.7 17.2h0M3.2 -8.6h0M-15 -8.7h0M-9.3 5.3h0M-5.3 -7.7h0M-3.3 6.6h0M15.9 10h0M-13.4 15.4h0M-15.2 -17.2h0M7.7 2.8h0M-13.3 16.3h0M10 -10.4h0M9.8 -13.1h0M0.8 -1.1h0M-2.5 -15.7h0M8.1 -3.5h0M15 -17.2h0M-7.3 13.1h0M0.4 -14.1h0M13.9 -13.3h0M1.5 0.7h0M1 -9.2h0M-9.8 -0.6h0M2.1 14.8h0M6.6 -16.6h0M10.2 6.1h0M-3.8 16.8h0M9.1 0.8h0M-9.3 -13.5h0M9.2 8.2h0M13.6 -18.1h0M5.6 -1.6h0M-16.6 -4.5h0M15.7 -10.5h0M14.7 3.3h0M8.9 -4.2h0M13.7 -1.8h0M-11 5.7h0M4.9 -2.4h0M-9.4 4.3h0M-11.3 10.1h0M-13.1 8.9h0M-0.9 4.2h0M13.7 -3.5h0M3.1 4.1h0M13.7 17.5h0M17.2 14.4h0M5.5 3.3h0M-14.5 -4.7h0M-10.9 -9.8h0M-1.4 -4.6h0M-15.6 -5.4h0M5.5 4.9h0M12.5 4.3h0M-4 4.8h0M16.6 -0.7h0M-3.3 16h0M10 -0.5h0M-4.9 -12.5h0M7.4 14h0M-4.2 11.2h0M16.4 -10.2h0M9.2 -11.3h0M16.7 -1.5h0M-14.2 -8.2h0M-7.5 18.2h0M-0.9 -15.2h0M-9.7 10h0M3.9 -10.6h0M-6.4 7.2h0M9.7 -12.4h0M12.4 -7.9h0M-2.5 -4.4h0M12.1 -7.8h0M0.9 -1.5h0M0.7 7.2h0M13.5 -1.9h0M9.9 -5.4h0M-4.8 -12h0M-6.8 6.2h0M-9.7 -6h0M-14.4 -3.4h0M-4.4 -8.9h0M-18.5 -14.9h0M8.8 3.3h0M14.8 -14.8h0M17.4 10.6h0M-5.6 -2h0M-5.6 16.2h0M3.1 -14.5h0M-7.7 -5.4h0M-0.2 0.6h0M12.7 -7.4h0M10.8 7.2h0M4.1 7.2h0" stroke="#7e84a0" stroke-width="1.3" stroke-linecap="round" stroke-opacity="0.8"/>
<path d="M13.4 11.1h0M4.2 -16.1h0M-14.8 -15.7h0M-17.3 -11.9h0M-4 -2.5h0M1.2 1.2h0M6.7 -4.8h0M10.2 13.3h0M-12.6 7.6h0M-2.2 13h0M-2.1 -11.7h0M4.5 -4.3h0M17.5 -12.7h0M8 6.3h0M12.3 4.4h0M-14.3 9.8h0M0.7 -16.9h0M16.8 -15.5h0M-14.6 -2.2h0M14.3 7.2h0M10.9 1.7h0M-2.7 -13.5h0M14.3 -4.4h0M2.9 -9.3h0M-9.2 9.1h0M-12.9 -2.1h0M5.5 4.4h0M-0 -11.1h0M15.8 16.5h0M10.3 13.9h0M17 -16.5h0M-10 -5.2h0M-15.6 3.7h0M6.7 3.6h0M13.5 2.8h0M4.9 9.4h0M10 16.8h0M-17.1 3.5h0M-11.1 11.7h0M11.7 9.8h0M-16.9 -13h0M-12.1 17.9h0M13.2 12.5h0M8 3.3h0M9.4 -1.8h0M15.5 7.2h0M-4 -9.4h0M3.6 -0.7h0M-8.3 -13.3h0M14.6 16.5h0M-6.5 -18.3h0M-15.4 5.4h0M4.4 9.9h0M8.9 4.4h0M6.4 13.6h0M1.6 6.3h0M-2.2 -9.7h0M-8.2 -15.8h0M17.2 10.4h0M-0.9 12h0M17.6 -18.5h0M8.1 -3.8h0M-1 -14h0M-9.7 8.1h0M10.9 -16.5h0M-1.7 -1.1h0M-10.1 -18.1h0M7.2 1.7h0M13.4 -13.9h0M5.7 -2h0M-11.3 -3.6h0M-8.3 -10.5h0M-9.5 12h0M-18.1 -9.5h0M-14.7 11.4h0M15.1 -6.9h0M-3.7 -2.9h0M-5.3 -12.9h0M-10.1 14.2h0M-11.4 13.9h0M10.6 14.6h0M2.4 -7.9h0M-4.7 -0.4h0M-16.1 10.4h0M-5.5 9.3h0M14.9 2.4h0M-9.2 16h0M-10.1 1h0M4.2 -18.3h0M8.7 18.1h0M-15.7 8.4h0M-6.9 -7.3h0M-18.3 -4.4h0M3.5 -9.8h0M6 -9.6h0M-7.3 -2.1h0M4.3 6.2h0M-16.1 -4.4h0M7.4 -10.4h0M-3.7 14.4h0M4.9 -0.1h0M11.9 7.7h0M1.4 6.4h0M-13.9 0.1h0M-7.2 0.1h0M-12.5 -15.2h0M4.6 -10.9h0M3.7 -12.4h0M-18.1 9.3h0M9.1 9.3h0M1.9 -17.4h0M7.8 -5.1h0" stroke="#d0d4e0" stroke-width="1.3" stroke-linecap="round" stroke-opacity="0.8"/>
<path d="M0.7 9.6h0M-6.5 -15.1h0M2 -12h0M5 3.7h0M10.6 -1.8h0M-16.4 3.1h0M-1.3 -10.6h0M16.4 11.8h0M7.5 -16.3h0M-1.4 12.2h0M-10.9 4.5h0M4.5 -15.8h0M14.4 0.3h0M-2.9 2.9h0M4.4 -9.9h0M11.8 -4.6h0M15.1 12.8h0M8.2 -5.6h0M7.3 -16.2h0M15.1 -11.7h0M-11.9 4.3h0M-5.9 1.4h0M-4.5 -1.6h0M-14.4 -6.9h0M1.5 -3.7h0M6.6 -10.3h0M0.4 -8.9h0M10.5 -7.9h0M11.2 -3.4h0M-0.6 14.9h0M-16 16.5h0M-16.9 -14h0M-14.3 0h0M3.6 12.8h0M0.4 -13.4h0M-10 -18.2h0M-4.8 3.3h0M-2.2 -6.3h0M-0.2 -16.2h0M1.3 -6.5h0M1 -4.6h0M10.3 -2.2h0M-15.7 -4.3h0M4.7 -11.6h0M5 -8.1h0M15.5 -0.3h0M16.7 -12.2h0M-7.2 -1.9h0M-10.3 -4.9h0M-7.6 10.5h0M-7.7 12.2h0M11.9 -5.9h0M-10.4 3h0M16.1 -15.3h0M13.5 0.1h0M-1.8 -9.8h0M17.9 -10.2h0M-10.3 12.1h0M-13 6h0M-18.1 0.1h0M-17.1 5.3h0M-0.3 -10.7h0M-10.8 -13h0M17.6 0.2h0" stroke="#5a6078" stroke-width="1.3" stroke-linecap="round" stroke-opacity="0.8"/>
</g>
<rect x="457.0" y="528.0" width="10" height="10" fill="none" stroke="#e0e830" stroke-width="1.1" stroke-dasharray="1.6 0.8"/>
<g transform="translate(476.3 425.0)" clip-path="url(#gs)">
<rect width="37.5" height="37.5" fill="#c0c4d4"/>
<path d="M1.5 6.2h0M7.4 23.3h0M7.6 0h0M36.9 20.8h0M29.3 0.3h0M4.3 22.4h0M19.6 34.5h0M36.3 0.8h0M17.7 1.1h0M22.4 36.2h0M13.4 11.1h0M18.6 24.8h0M31.9 2.4h0M6.8 14.6h0M7.7 28.1h0M13.7 11.4h0M12 11.7h0M36.3 27h0M17.5 0.7h0M21.1 8.2h0M30.1 30.3h0M0.1 0.4h0M31.9 20.1h0M6.7 6.7h0M24.6 23.6h0M12.3 6.2h0M7 25.2h0M4 15.8h0M28.3 27.5h0M26.1 0.4h0M12.8 15.1h0M23.5 3.2h0M22.1 36.6h0M36.2 16.5h0M15.9 7.6h0M17.7 27.5h0M14.5 13h0M26.2 28.8h0M0 33.5h0M20.5 30.6h0M27.9 28.6h0M4.4 4.8h0M19.2 8.5h0M0.2 20.5h0M29.6 8.1h0M35.7 4.7h0M35.6 27.6h0M11.5 20.1h0M19.7 14.1h0M28.8 26.7h0M28.7 12.7h0M32.6 2.8h0M12.5 23.1h0M18.1 3.5h0M28.7 30.4h0M23 7.2h0M30.5 26.1h0M31.5 19.5h0M18.6 17.4h0M25.1 12.2h0M6.3 17.5h0M4.2 7.3h0M30.1 0.8h0M31 25.6h0M33.5 25.7h0M21.5 6.9h0M5.5 32.1h0M31 7.8h0M36.1 24.8h0M29.4 28.6h0M12.4 15h0M9.9 6h0M21.5 14h0M30.8 11.8h0M4 1.5h0M18.4 36.7h0M33.1 24.6h0M28.8 1h0M29.1 22.3h0M8.2 1.2h0M25.7 2.6h0M18.9 1.1h0M23.7 1.4h0M35.8 28.8h0M2 0.4h0M35.8 31h0M29.4 17.9h0M30.3 27.7h0M30.9 10.5h0M3.1 17.7h0M22.2 34.1h0M20.1 8.4h0M1 6.5h0M35.5 0.2h0M24.4 35.1h0M18.3 32.5h0M23.2 15.2h0M14.3 2.2h0M7.9 2.5h0M25.8 24.2h0M0 16h0M1.5 22.7h0M11.9 22.4h0M5.9 34.3h0M24.8 28h0M31.3 16.3h0M1.9 21.5h0M22.4 28.2h0M21 19.7h0M7.5 6.8h0M3.8 12.9h0M27.4 2.4h0M16.6 22.6h0M3.4 4h0M36.9 28.9h0M5 36.9h0M16.7 7.5h0M32.8 14.6h0M8.9 19.6h0M36.4 9.3h0M22.4 20h0M0.9 3.9h0M11.5 28.4h0M26.3 3.6h0M23.4 30.2h0M6.4 19.1h0" stroke="#7884b0" stroke-width="1.3" stroke-linecap="round" stroke-opacity="0.8"/>
<path d="M21.4 22.3h0M8 25.9h0M21.1 36.3h0M8 8.1h0M5 25h0M15.6 20.3h0M25.6 6h0M24 4.1h0M26 32.2h0M6.3 22.1h0M5.2 27.2h0M15.7 7h0M12.7 26.5h0M30.5 10.8h0M25.5 14.3h0M24.1 19.3h0M7.8 5.8h0M0.4 35.1h0M9.7 25.2h0M32.7 14.6h0M29 8.7h0M24.9 22.6h0M19.9 30.5h0M3.5 14.7h0M26.9 25.7h0M4.1 14.1h0M1.1 18.6h0M1.4 34.3h0M23.6 31.8h0M3.2 15.5h0M5.8 14.8h0M21.8 31.1h0M36.5 12.9h0M29.9 31.2h0M34.3 9.3h0M29.1 2.4h0M22 34.2h0M9.6 13.1h0M22.4 13h0M24.8 4.1h0M3.4 2.3h0M7.3 20.3h0M8.9 13.1h0M33.4 27.1h0M34.5 34.5h0M11.3 6.4h0M21.5 29.9h0M6.5 14h0M3 30.9h0M11.3 16.7h0M26.6 1.9h0M16.3 12.6h0M33.2 2.6h0M24.9 20.7h0M9 31.6h0M35.1 12.9h0M36.5 21.4h0M26.1 15.4h0M8.1 1.5h0M24.7 17.1h0M17.2 17.4h0M31.7 7h0M31.8 18.8h0M13.7 14.7h0M29.4 20.4h0M15.1 9.1h0M17.4 22h0M14.7 14.9h0M19.4 18.2h0M26.5 10.7h0M13.5 9.7h0M2.7 29.4h0M13.7 4h0M33.7 9.4h0M5 23.8h0M34.3 17.3h0M4.1 27.7h0M13.1 28.6h0M30.1 0.1h0M13.3 30.4h0M30.2 9.7h0M32.1 12.2h0M20.7 19h0M9.1 19.3h0M8.5 11.1h0M37.4 14.5h0M27.3 11.7h0M18.6 21.2h0M2.9 24.7h0M18.2 27.1h0M3.3 9.7h0M6.3 11.5h0M32.8 30h0M9.1 11.7h0M9.6 32.8h0M1 25.2h0M36 12.3h0M29.6 12.8h0" stroke="#e0e2ec" stroke-width="1.3" stroke-linecap="round" stroke-opacity="0.8"/>
<path d="M12.4 12.3h0M6.7 16.4h0M0.5 32.1h0M30.1 33.7h0M12.1 20h0M1.6 5.3h0M37.4 9.6h0M27.7 31.9h0M10.2 30.8h0M26.9 32.1h0M7.3 20.3h0M35.9 33.9h0M11.5 1h0M0.9 8.7h0M15.2 27.4h0M34 11.2h0M22.9 17.6h0M33.8 9h0M23.6 24.3h0M30.2 29.3h0M29.7 4.5h0M20.7 8.6h0M17.5 3.5h0M31.2 11.3h0M22.6 26h0M28.5 21.5h0M4.7 11h0M33.3 23.1h0M35.9 16.1h0M23.4 2.8h0M30.7 34.1h0M26.9 2.5h0M6.1 19.8h0M36.7 7.4h0M11.9 29h0M19.3 36.7h0M10.5 26.5h0M32.5 16.4h0M30.9 10.3h0M4.2 16.9h0M28 30.3h0M33.5 30.7h0M29.8 34h0M16.4 29.4h0M27.2 4.3h0M14.1 5.7h0M31.2 36.7h0M7.9 22.7h0M0.4 19h0M12.5 24.1h0M15.8 6.2h0M10.7 32.6h0M11.7 33.8h0M9.7 34.7h0M2.3 14.3h0M34.5 8.5h0" stroke="#4a5478" stroke-width="1.3" stroke-linecap="round" stroke-opacity="0.8"/>
</g>
<rect x="502.30" y="456.80" width="7.50" height="1.80" fill="#111"/>
<g transform="translate(476.3 467.7)" clip-path="url(#gs)">
<rect width="37.5" height="37.5" fill="#a8b2cc"/>
<path d="M31.4 0.3h0M22.7 26.7h0M1.9 32.9h0M34 24.8h0M17.9 26.4h0M16 13.7h0M0.9 14.5h0M23.1 21.4h0M1.9 13.6h0M22 37.3h0M28.6 28.7h0M29.4 37.2h0M31.5 36.9h0M4.8 21.4h0M34.5 21.5h0M13.8 1.7h0M34.8 27.4h0M15.5 33h0M16 18h0M26.1 0.2h0M3.2 18.3h0M12.6 29.1h0M33.6 1.3h0M25.6 32.7h0M10.5 17.8h0M22.8 36.7h0M23.5 17.2h0M26.2 1.5h0M6.6 10h0M12.8 9.8h0M28.8 26.8h0M32.9 7.5h0M5.1 33.9h0M35.8 11.8h0M4.7 20.5h0M21 12.4h0M35.9 23.3h0M26.4 27.2h0M15.5 4.5h0M2.7 2.4h0M17.1 35.5h0M0.2 20.7h0M21.3 18.6h0M20.9 4.2h0M19.1 0.2h0M25.8 10.9h0M19.8 16.3h0M26.9 21.7h0M7.4 6h0M22 21.2h0M23.1 30h0M31.3 17.8h0M8.4 11.6h0M35.2 2.5h0M33.1 18.8h0M16.6 19.1h0M15.2 22.9h0M13.7 9.4h0M7.2 12.5h0M29.3 17.8h0M3.8 25.7h0M29.9 5h0M18.2 25.6h0M0.6 30.9h0M9.2 13.8h0M34.6 5.1h0M12.5 35.7h0M7.1 19.7h0M26.7 30.4h0M9.5 3.4h0M18.9 4.1h0M9.9 19.6h0M5.8 29.2h0M34 6.8h0M28.4 30.2h0M12.1 9.9h0M23.2 0.6h0M7.5 2.7h0M35.2 11h0M26.7 12.8h0M5.1 23.5h0M18.6 0.7h0M13.4 28.6h0M17.4 22.2h0M5.9 30.6h0M27 11.7h0M12.6 31.5h0M8.9 37.3h0M5.1 10.6h0M23.6 21.7h0M30.3 4.3h0M26.2 31.6h0M10.6 7.2h0M6.6 7h0M27.7 18.5h0M28.2 0.4h0M21.9 3.5h0M18.9 3.2h0M30.9 32h0M30.6 17.5h0M23.6 12.7h0M11.9 29h0M9.3 29.6h0M7.2 16.3h0M10.3 7.1h0M21.6 3.1h0M4.5 31.1h0M3.4 29.7h0M33.8 7.4h0M34.7 33.3h0M27.2 2.4h0M11.8 37.1h0M27.5 24.4h0M28.4 6.4h0M30.9 18.4h0M15.1 37h0M37 8.2h0M18.5 18.7h0M20.6 20.4h0M18.1 30.2h0M23.2 7.7h0M19.2 37.3h0M0.3 20.1h0M12.3 2.3h0M19.9 34.2h0M33.3 17h0M7.9 31.7h0M9.5 24.3h0M8.2 33h0M10.5 12.7h0M24.7 32.1h0M13.5 19.6h0M35.4 23.7h0M19.8 32.1h0M17.3 31.2h0M14.1 33.2h0M13.2 36.2h0M31.4 10.9h0M6.8 29.9h0M4.4 21.6h0M7 19.5h0M26.3 1.6h0M13.1 9.6h0M30.6 26.7h0M10 24h0M2.7 2.1h0M25.8 18.4h0M13.3 9.3h0M21.8 34.6h0M9.7 4h0" stroke="#7482b0" stroke-width="1.4" stroke-linecap="round" stroke-opacity="0.8"/>
<path d="M23.4 2.9h0M8.2 2.3h0M3 28h0M7.2 34.5h0M11.2 13h0M27 27.7h0M4.8 19h0M5.4 28.5h0M6.3 35.4h0M27 12.1h0M30.3 2.8h0M13.6 36.8h0M1.5 26.6h0M11.6 15.2h0M30 25.5h0M28.9 27.9h0M36.2 13.4h0M18.2 24.3h0M8.8 2h0M34.2 36.7h0M10.2 9.3h0M30.2 3.7h0M5.9 8.4h0M13 1.1h0M5.9 23h0M10.7 3.2h0M6.8 32h0M17.9 21.8h0M36.8 22.6h0M6.5 16.4h0M23.2 27.8h0M12.5 0.4h0M13.5 22.7h0M2.2 11.5h0M8.2 16.7h0M34.3 2.1h0M10.8 0.5h0M36.1 5.2h0M10.7 31.3h0M27.8 22.3h0M29.9 1.9h0M24 16.3h0M36.4 3.2h0M28 18h0M24.2 5.7h0M24.3 12h0M29.4 36.3h0M15.4 21.3h0M6.8 28.7h0M21.6 5.8h0M14.7 2.8h0M10.8 0.7h0M37.1 10.6h0M17.4 4.5h0M1 4.8h0M37 12.7h0M27.3 10.9h0M29 10.7h0M36.4 22.5h0M10.6 10h0M4.3 9.3h0M25.7 34.4h0M22.6 34.7h0M9 23.1h0M22.6 10.3h0M9.2 11.1h0M0.6 26.1h0M34.7 6.9h0M34.8 23.1h0M24.8 3.8h0M18.8 4.8h0M25.6 20.2h0M20.1 10.1h0M19 26.6h0M32.8 35h0M25.6 24.5h0M10 14.6h0M20.1 3.2h0M1 31.5h0M13.3 13.1h0M29.3 26.4h0M8.6 21.3h0M22 16.6h0M35.2 10.9h0M23.9 35.3h0M4.6 19.8h0M15.2 16.8h0M37.1 25.5h0M6.9 35.6h0M32.9 3.1h0" stroke="#c8d0e4" stroke-width="1.4" stroke-linecap="round" stroke-opacity="0.8"/>
<path d="M30.3 18.3h0M1.3 31.7h0M37.2 33.6h0M19.3 1.5h0M18.5 19.8h0M22.3 25.1h0M36.7 20.5h0M27.5 21.5h0M34.6 7h0M31.4 6h0M34.8 11.7h0M12.6 19.3h0M24 20.5h0M37.3 9.7h0M12 13.7h0M31.4 3.3h0M14.3 16h0M3.5 8.7h0M24.6 20.7h0M14.1 16.5h0M24.2 29.8h0M10.7 4.2h0M31.9 4.3h0M16.3 5h0M34.9 32.2h0M10.9 24h0M15.4 3.7h0M5.4 26.7h0M7.5 10.6h0M17.5 18.8h0M16.8 32.2h0M10.6 13.7h0M5.5 7h0M23.4 11.5h0M13.8 2.3h0M7.6 23h0M36 23.8h0M15.4 33.6h0M12.3 32.9h0M1.7 19.4h0M35.5 14.1h0M18.5 14.5h0M3.8 18.7h0M15.2 29.9h0M7 2h0M34.2 4.9h0M34.4 21.1h0M19.9 6.4h0M17.3 23.1h0M0.4 28.2h0M22.8 31.4h0M17.6 33.7h0M29.2 12.6h0M32.1 11.3h0M15.3 8.2h0M16.8 0.9h0M20.7 7h0M2.7 26.1h0M21.2 19.8h0M7.1 32.5h0" stroke="#52609a" stroke-width="1.4" stroke-linecap="round" stroke-opacity="0.8"/>
</g>
<g transform="translate(476.3 510.3)" clip-path="url(#gs)">
<rect width="37.5" height="37.5" fill="#bcc0d0"/>
<path d="M0.8 3.6h0M15.1 9.2h0M15 34.4h0M35.4 8.3h0M7.9 12.7h0M11.3 3.6h0M25.9 3.7h0M15.4 4.1h0M31.2 12.7h0M4.6 27h0M8.2 10.5h0M14.2 10.4h0M18 5.5h0M10.4 22.2h0M16.6 3.9h0M22.9 24.8h0M23.6 15.8h0M20 12.2h0M33.6 17.2h0M26.8 25.8h0M16.4 5.9h0M14.6 26.9h0M13.8 5.5h0M16.6 27h0M35.6 28.8h0M6.7 9.1h0M25 10.5h0M12.4 32.2h0M36.7 32.2h0M28.5 20.2h0M8.3 13.7h0M10.4 21.3h0M7.6 33.5h0M14.2 18.7h0M35.6 25.5h0M26.3 1.6h0M34.7 17.3h0M1 16.7h0M36.9 14.7h0M21.4 16h0M36.5 28.9h0M19.5 8.6h0M7.4 10.4h0M34.1 11.9h0M29.2 33.2h0M24.7 18.3h0M30.3 34.9h0M24.8 26.5h0M31 1.4h0M13.4 28.7h0M17.6 18.9h0M10 30.3h0M28.5 2.4h0M10.6 15.6h0M16.6 29.3h0M29.6 30.4h0M5.4 7.4h0M11.9 29.3h0M3.5 34.4h0M3.6 7.6h0M12.8 36.1h0M10.7 8h0M6.2 24.8h0M0.9 5.1h0M35.2 24.2h0M15.9 27.3h0M33.6 2.4h0M31 2.4h0M34.1 21.5h0M35.6 37.2h0M14.1 3.9h0M8.3 25h0M29.8 37.4h0M5.8 2.3h0M17.9 20.9h0M30.2 15.9h0M4.9 24.8h0M36.6 30.7h0M25.9 7.2h0M18.3 4.5h0M20.6 31.9h0M30.8 14.3h0M11 35.8h0M26.4 20.1h0M25 1.7h0M28.2 21.1h0M29 6.3h0M18.6 7h0M29.7 7.3h0M5.8 7.6h0M17.4 9.4h0M13.9 33.9h0M12.6 0.8h0M5 34.5h0M0.4 5.2h0M2.4 22.4h0M27.4 28.5h0M10.2 13.3h0M36.5 27.3h0M22.5 1.7h0M12.7 0.9h0M3.7 13.2h0M5 17.2h0M25.4 4.4h0M21.2 1h0M8.4 3.6h0M24.7 20.4h0M33.4 20.8h0M25.3 35.4h0M32.3 32.2h0M23.3 22.2h0M31.9 26.1h0M7.9 20.6h0M35.7 28.2h0M3.3 24.1h0M33.1 14h0M16.7 6.7h0M36 26.9h0M7.6 15.1h0M22.3 22.5h0M8.3 19.1h0M23 31.6h0M16.8 33.3h0M4.9 31h0M17 24.1h0M18.1 27.6h0M5.7 19.6h0M22.3 4.2h0M18.7 28.3h0M1.3 33.5h0M27.7 2.2h0M36.2 4.8h0M5.1 33.3h0M34.8 18.1h0M12 11.4h0M10.2 30.4h0M13.7 13.2h0M32.9 24.5h0M25.3 21.8h0M14.5 35.9h0M5.9 13.9h0M34.6 0.2h0M26.2 17.2h0M29.6 35.3h0M3.5 6.3h0M32.4 22.7h0M1.1 4.6h0M1.8 10h0M27.1 5.2h0M28 16.3h0" stroke="#5a6490" stroke-width="1.3" stroke-linecap="round" stroke-opacity="0.8"/>
<path d="M24.4 26.9h0M29.5 32.8h0M33.5 25.2h0M36.1 16.9h0M20.2 3.5h0M30 7.4h0M14.5 19.6h0M2.6 27.2h0M12.6 32.4h0M32.8 3.5h0M1 22.9h0M33.2 30.8h0M13.3 30.1h0M3.9 28.2h0M4.4 10.8h0M12.6 22.1h0M31.2 4.7h0M6.1 1.9h0M9.6 16.2h0M36.2 19.6h0M9.3 15.7h0M25.8 28.9h0M18.9 6.5h0M19 30h0M33.3 4.1h0M13.8 1.8h0M35.9 0.8h0M30.7 23.6h0M36.4 2.7h0M22.5 8.5h0M24 12.1h0M0.6 1.2h0M2.1 19h0M4.4 7.3h0M23.4 8.9h0M3.1 31.5h0M16.5 18.1h0M14.7 26.2h0M15.8 26.2h0M30.1 2.5h0M20.1 31h0M36.3 10.2h0M1.3 13.5h0M18.2 9.7h0M3.4 27.3h0M1.5 18.2h0M3.9 37h0M22.7 23h0M14.7 6.2h0M28.6 3.6h0M9.8 31.8h0M21.5 13.6h0M7.6 8.3h0M32.6 12.4h0M15.3 34.4h0M31 10.5h0M8.1 4.2h0M5.4 4.1h0M32.5 22.6h0M19.3 20.2h0M12.9 1.6h0M10.1 3.5h0M18.1 26.4h0M33.2 25.8h0M22.1 20.3h0M22.9 36h0M32.7 4.2h0M15.5 28.5h0M12.4 37.5h0M31.5 0.9h0M33 18h0M0.1 24.6h0M10.8 32.1h0M15.1 31.6h0M21.7 19.7h0M30.2 34h0M22.6 3.3h0M35 9.9h0M20.3 19.7h0M1.3 36.8h0M3.7 33.1h0M28.7 24.7h0M31.6 22.7h0M2.7 15.7h0M20.8 22.4h0M29.2 35.2h0M28.3 28.6h0M36.9 5.6h0M0.1 10.7h0M7.8 17.9h0" stroke="#dcdfea" stroke-width="1.3" stroke-linecap="round" stroke-opacity="0.8"/>
<path d="M1.1 20.2h0M9.3 9.5h0M14 24.8h0M20.8 24.8h0M8.4 10.6h0M21.6 10.8h0M31.3 0.1h0M19.7 13.5h0M0.4 15.2h0M15.1 34.3h0M6.2 13.8h0M8.3 21.2h0M24.3 25.1h0M32.3 15.6h0M18.3 33.7h0M26.8 14h0M10.4 29.5h0M8.4 12.6h0M20.5 22.7h0M34.8 9.3h0M1.9 23.8h0M21.5 0.8h0M18.4 17.1h0M20.6 10.7h0M19.3 32.8h0M21.7 19h0M8.8 13.7h0M8.6 10.3h0M29.9 24.4h0M29.9 23.4h0M9.6 24h0M11.1 16.1h0M14.7 27h0M2.2 16.6h0M26.2 36.7h0M23.4 9.3h0M18.5 9.8h0M11.4 25.2h0M12.5 32.9h0M32.5 6.2h0M24.6 1.5h0M0.6 32.8h0M24.3 11.1h0M2.2 28.7h0M28 31.1h0M4.7 5.9h0M35.7 17.6h0M25.1 27.2h0M35.6 7.9h0M35.8 10.9h0M29.8 2h0M27 8.7h0M29.9 19.4h0M29.9 15.9h0M16.6 7.9h0M2.3 8h0M34.3 0.5h0M25.4 10.4h0M22.8 7.2h0M17.6 16.2h0" stroke="#2e3656" stroke-width="1.3" stroke-linecap="round" stroke-opacity="0.8"/>
</g>
<line x1="384.20" y1="560.00" x2="384.20" y2="625.60" stroke="#161616" stroke-width="1.3"/>
<line x1="383.60" y1="625.00" x2="471.50" y2="625.00" stroke="#161616" stroke-width="1.3"/>
<line x1="380.20" y1="625.00" x2="384.20" y2="625.00" stroke="#161616" stroke-width="1.1"/>
<text x="375.40" y="628.40" font-size="9.6" text-anchor="end">0</text>
<line x1="380.20" y1="612.12" x2="384.20" y2="612.12" stroke="#161616" stroke-width="1.1"/>
<text x="375.40" y="615.52" font-size="9.6" text-anchor="end">50</text>
<line x1="380.20" y1="599.24" x2="384.20" y2="599.24" stroke="#161616" stroke-width="1.1"/>
<text x="375.40" y="602.64" font-size="9.6" text-anchor="end">100</text>
<line x1="380.20" y1="586.36" x2="384.20" y2="586.36" stroke="#161616" stroke-width="1.1"/>
<text x="375.40" y="589.76" font-size="9.6" text-anchor="end">150</text>
<line x1="380.20" y1="573.48" x2="384.20" y2="573.48" stroke="#161616" stroke-width="1.1"/>
<text x="375.40" y="576.88" font-size="9.6" text-anchor="end">200</text>
<line x1="380.20" y1="560.60" x2="384.20" y2="560.60" stroke="#161616" stroke-width="1.1"/>
<text x="375.40" y="564.00" font-size="9.6" text-anchor="end">250</text>
<line x1="384.20" y1="625.00" x2="384.20" y2="628.00" stroke="#161616" stroke-width="1"/>
<line x1="427.70" y1="625.00" x2="427.70" y2="628.00" stroke="#161616" stroke-width="1"/>
<line x1="471.50" y1="625.00" x2="471.50" y2="628.00" stroke="#161616" stroke-width="1"/>
<text x="351.60" y="592.50" font-size="9.6" text-anchor="middle" transform="rotate(-90 351.60 592.50)">Cells per field</text>
<text x="405.40" y="638.50" font-size="9.6" text-anchor="middle">CD3</text>
<text x="448.80" y="638.50" font-size="9.6" text-anchor="middle">CD68</text>
<line x1="392.00" y1="567.00" x2="418.80" y2="567.00" stroke="#161616" stroke-width="1.3"/>
<text x="405.20" y="566.50" font-size="8.5" font-weight="bold" text-anchor="middle">**</text>
<line x1="436.30" y1="567.00" x2="463.30" y2="567.00" stroke="#161616" stroke-width="1.3"/>
<text x="449.80" y="566.50" font-size="8.5" font-weight="bold" text-anchor="middle">***</text>
<path d="M394.8 624.9h0M397.2 624.6h0M392.4 624.5h0M399.6 624.4h0M390 624.4h0M402 624.3h0M387.6 624.3h0M395 624.2h0M401.3 624.1h0M396 624.1h0M388.4 623.9h0M399 623.9h0M401.7 623.8h0M400.4 623.8h0M387.3 623.8h0M395.6 623.7h0M400 623.6h0M399.8 623.6h0M388.4 623.5h0M400.4 623.4h0M394 623.4h0M395.4 623.2h0M400.4 623.1h0M397.3 622.9h0M400.3 622.9h0M400.2 622.8h0M395.5 622.7h0M391.1 622.7h0M398 622.7h0M400.9 622.5h0M390.7 622.5h0M389.3 622.3h0M390 622.3h0M387.8 622.2h0M399.6 622.2h0M389 622.1h0M390.8 622.1h0M393.4 622.1h0M388.2 622.1h0M396.8 621.9h0M390.3 621.9h0M400.6 621.7h0M396.6 620.8h0M391.3 620.7h0M401.9 620.1h0M391.5 620h0M387.6 619.8h0M399.6 619.6h0M394.8 619.3h0M401 619.1h0M397.2 617.6h0M392.4 617.4h0M390 617.4h0M394.8 616.7h0M399.6 615.9h0M394.8 609h0M396 607h0" stroke="#111" stroke-width="2.3" stroke-linecap="round"/>
<path d="M415.9 623.5h2.2v2.2h-2.2zM418.3 623.3h2.2v2.2h-2.2zM413.5 623.1h2.2v2.2h-2.2zM420.7 623h2.2v2.2h-2.2zM411.1 622.8h2.2v2.2h-2.2zM423.1 622.8h2.2v2.2h-2.2zM408.7 622.5h2.2v2.2h-2.2zM412.3 622.4h2.2v2.2h-2.2zM410.2 622.4h2.2v2.2h-2.2zM417 622h2.2v2.2h-2.2zM421.9 621.9h2.2v2.2h-2.2zM414.3 621.8h2.2v2.2h-2.2zM409.5 621.4h2.2v2.2h-2.2zM415.3 621.2h2.2v2.2h-2.2zM421.9 621.2h2.2v2.2h-2.2zM412.2 621.2h2.2v2.2h-2.2zM419.5 620.9h2.2v2.2h-2.2zM422.3 620.9h2.2v2.2h-2.2zM419.2 620.5h2.2v2.2h-2.2zM410.1 620.5h2.2v2.2h-2.2zM414.4 620.3h2.2v2.2h-2.2zM411 620.3h2.2v2.2h-2.2zM417.5 620.2h2.2v2.2h-2.2zM408.8 620.2h2.2v2.2h-2.2zM416.4 620.1h2.2v2.2h-2.2zM408.5 620h2.2v2.2h-2.2zM422.7 619.9h2.2v2.2h-2.2zM421.3 619.1h2.2v2.2h-2.2zM418 618.8h2.2v2.2h-2.2zM412.4 618.7h2.2v2.2h-2.2zM411.2 618.5h2.2v2.2h-2.2zM418 618.2h2.2v2.2h-2.2zM414.7 617.5h2.2v2.2h-2.2zM423.1 617.1h2.2v2.2h-2.2zM408.7 617h2.2v2.2h-2.2zM420.7 616.8h2.2v2.2h-2.2zM412.8 616.7h2.2v2.2h-2.2zM421.8 616.1h2.2v2.2h-2.2zM417.1 616h2.2v2.2h-2.2zM412.3 615.8h2.2v2.2h-2.2zM414 615.7h2.2v2.2h-2.2zM413.8 615.6h2.2v2.2h-2.2zM419.7 615.4h2.2v2.2h-2.2zM409.9 614.6h2.2v2.2h-2.2zM415.9 613.5h2.2v2.2h-2.2zM418.3 613.5h2.2v2.2h-2.2zM412.3 613.4h2.2v2.2h-2.2zM420.7 612.5h2.2v2.2h-2.2zM409.9 612h2.2v2.2h-2.2zM415.9 609.8h2.2v2.2h-2.2zM415.9 605.9h2.2v2.2h-2.2zM415.9 603.3h2.2v2.2h-2.2zM415.9 600.7h2.2v2.2h-2.2zM415.9 598.1h2.2v2.2h-2.2zM417.1 596.1h2.2v2.2h-2.2zM415.9 571.1h2.2v2.2h-2.2z" fill="#d0282e"/>
<path d="M437.3 624.9h0M439.7 624.8h0M434.9 624.8h0M442.1 624.8h0M432.5 624.6h0M444.5 624.5h0M430.1 624.5h0M437.3 624.4h0M430.5 624.4h0M439.9 624.3h0M435.9 624.2h0M432.9 624.2h0M444.8 624.2h0M436.3 624.1h0M440.1 624.1h0M444.7 624.1h0M444 624h0M430.2 624h0M431 623.8h0M430 623.8h0M438.8 623.7h0M433.2 623.7h0M443 623.6h0M442 623.6h0M439.7 623.5h0M436.9 623.5h0M432.5 623.4h0M442.6 623.4h0M435.4 623.3h0M433.6 623.3h0M439.4 623.1h0M441.5 623h0M443.7 623h0M442.1 622.7h0M443.5 622.6h0M443.2 622.2h0M440 622.2h0M430.1 621.9h0M437.3 621.1h0M434.9 620.9h0M432.5 620.8h0M442.8 620.8h0M437.2 620.4h0M439.2 620.1h0M438.8 620.1h0M442.9 619.9h0M444.4 619.8h0M437.9 619.6h0M430.1 619.1h0M434.9 618.5h0M437.3 615.7h0M439.7 615.5h0M434.9 615.2h0M442.1 615h0M432.5 614.7h0M444.5 614.4h0M430.1 614.2h0" stroke="#111" stroke-width="2.3" stroke-linecap="round"/>
<path d="M459.3 623.8h2.2v2.2h-2.2zM461.7 623.6h2.2v2.2h-2.2zM456.9 623.2h2.2v2.2h-2.2zM464.1 623.1h2.2v2.2h-2.2zM454.5 622.8h2.2v2.2h-2.2zM466.5 622.4h2.2v2.2h-2.2zM452.1 622.4h2.2v2.2h-2.2zM460.9 622.2h2.2v2.2h-2.2zM459.7 621.7h2.2v2.2h-2.2zM458.9 621.5h2.2v2.2h-2.2zM452.4 621.2h2.2v2.2h-2.2zM452.1 621.2h2.2v2.2h-2.2zM461.7 620h2.2v2.2h-2.2zM456.9 619.7h2.2v2.2h-2.2zM464.1 619.5h2.2v2.2h-2.2zM454.5 619.3h2.2v2.2h-2.2zM459.3 619.1h2.2v2.2h-2.2zM466.5 618.7h2.2v2.2h-2.2zM452.1 618.5h2.2v2.2h-2.2zM464.2 618.2h2.2v2.2h-2.2zM461.3 618.2h2.2v2.2h-2.2zM466.4 617.9h2.2v2.2h-2.2zM454.5 617.8h2.2v2.2h-2.2zM463.3 617.6h2.2v2.2h-2.2zM456.9 617.4h2.2v2.2h-2.2zM457 616.8h2.2v2.2h-2.2zM459.3 616.5h2.2v2.2h-2.2zM461.3 616.2h2.2v2.2h-2.2zM465.3 615.7h2.2v2.2h-2.2zM453.3 615.7h2.2v2.2h-2.2zM455.7 614.9h2.2v2.2h-2.2zM456.9 614.7h2.2v2.2h-2.2zM452.6 614.7h2.2v2.2h-2.2zM459.3 613.1h2.2v2.2h-2.2zM460.5 611.1h2.2v2.2h-2.2zM458.1 611h2.2v2.2h-2.2zM462.9 609.7h2.2v2.2h-2.2zM459.3 609h2.2v2.2h-2.2zM456.9 607.9h2.2v2.2h-2.2zM460.5 606.9h2.2v2.2h-2.2zM458.1 605.9h2.2v2.2h-2.2zM460.5 604.6h2.2v2.2h-2.2zM458.1 603.3h2.2v2.2h-2.2zM460.5 602h2.2v2.2h-2.2zM458.1 600.2h2.2v2.2h-2.2zM459.3 598.1h2.2v2.2h-2.2zM459.3 595h2.2v2.2h-2.2zM459.3 591.7h2.2v2.2h-2.2z" fill="#d0282e"/>
<circle cx="478.70" cy="579.80" r="1.50" fill="#111"/>
<text x="483.30" y="583.20" font-size="9.6">PIM2<tspan dy="-3.6" font-size="6.2">low</tspan></text>
<rect x="477.20" y="591.80" width="3.00" height="3.00" fill="#d0282e"/>
<text x="483.30" y="596.70" font-size="9.6" fill="#d0282e">PIM2<tspan dy="-3.6" font-size="6.2">high</tspan></text>
<text x="2.50" y="524.60" font-size="13.8" font-weight="bold" fill="#000">H</text>
<line x1="57.00" y1="553.42" x2="57.00" y2="613.00" stroke="#161616" stroke-width="1.0"/>
<line x1="53.50" y1="593.80" x2="57.00" y2="593.80" stroke="#161616" stroke-width="1"/>
<text x="49.50" y="597.20" font-size="9.6" text-anchor="end">0.0</text>
<line x1="53.50" y1="582.55" x2="57.00" y2="582.55" stroke="#161616" stroke-width="1"/>
<text x="49.50" y="585.95" font-size="9.6" text-anchor="end">0.2</text>
<line x1="53.50" y1="571.30" x2="57.00" y2="571.30" stroke="#161616" stroke-width="1"/>
<text x="49.50" y="574.70" font-size="9.6" text-anchor="end">0.4</text>
<line x1="53.50" y1="560.05" x2="57.00" y2="560.05" stroke="#161616" stroke-width="1"/>
<text x="49.50" y="563.45" font-size="9.6" text-anchor="end">0.6</text>
<line x1="57.00" y1="593.80" x2="159.00" y2="593.80" stroke="#dddddd" stroke-width="0.6"/>
<path d="M57 593.8 L57.5 579.7 L58.5 568.5 L60.1 561.2 L62.1 557.8 L64.1 555.5 L67.2 554.4 L70.3 555 L73.3 554.4 L77.4 555.5 L87.6 558.9 L99.8 564 L113.1 571.9 L130 581.4 L139.6 586.5 L145.7 588.7 L148.8 589.9 L153.9 591.5 L157 592.7 L159 593.8" fill="none" stroke="#6dbf4a" stroke-width="1.0" stroke-linejoin="round"/>
<path d="M57.5 595.8V609.8M58.2 595.8V609.8M59 595.8V609.8M59.9 595.8V609.8M60.7 595.8V609.8M61.6 595.8V609.8M62.6 595.8V609.8M63.6 595.8V609.8M64.7 595.8V609.8M67.2 595.8V609.8M70.8 595.8V609.8M73.1 595.8V609.8M75.4 595.8V609.8M77.2 595.8V609.8M83.5 595.8V609.8M85.6 595.8V609.8M88.1 595.8V609.8M91.1 595.8V609.8M101.9 595.8V609.8M128.4 595.8V609.8M136.6 595.8V609.8M140.6 595.8V609.8M151.9 595.8V609.8" stroke="#777" stroke-width="0.6"/>
<defs><linearGradient id="hg57" x1="0" y1="0" x2="1" y2="0"><stop offset="0" stop-color="#d03030"/><stop offset="0.36" stop-color="#d85060"/><stop offset="0.43" stop-color="#e8a0b8"/><stop offset="0.53" stop-color="#f2d4e2"/><stop offset="0.6" stop-color="#e4e4f2"/><stop offset="0.68" stop-color="#a0a0d0"/><stop offset="0.76" stop-color="#5050a8"/><stop offset="1" stop-color="#202080"/></linearGradient></defs>
<rect x="57.00" y="609.80" width="102.00" height="3.00" fill="url(#hg57)"/>
<line x1="56.70" y1="613.20" x2="163.00" y2="613.20" stroke="#111" stroke-width="1.0"/>
<text x="55.50" y="545.60" font-size="9.6">IFNγ response</text>
<text x="163.50" y="559.80" font-size="9.6" text-anchor="end">NES = 2.2</text>
<text x="163.50" y="573.30" font-size="9.6" text-anchor="end" fill="#c42a36"><tspan font-style="italic">P</tspan> &lt; 0.001</text>
<text x="55.50" y="626.50" font-size="9.6"><tspan font-style="italic">PIM2</tspan><tspan dy="-3.6" font-size="6.2">high</tspan></text>
<text x="163.50" y="626.50" font-size="9.6" text-anchor="end"><tspan font-style="italic">PIM2</tspan><tspan dy="-3.6" font-size="6.2">low</tspan></text>
<text x="109.60" y="638.80" font-size="9.6" text-anchor="middle">Rank in gene list</text>
<line x1="191.50" y1="553.67" x2="191.50" y2="613.00" stroke="#161616" stroke-width="1.0"/>
<line x1="188.00" y1="592.80" x2="191.50" y2="592.80" stroke="#161616" stroke-width="1"/>
<text x="184.30" y="596.20" font-size="9.6" text-anchor="end">0.0</text>
<line x1="188.00" y1="577.55" x2="191.50" y2="577.55" stroke="#161616" stroke-width="1"/>
<text x="184.30" y="580.95" font-size="9.6" text-anchor="end">0.2</text>
<line x1="188.00" y1="562.30" x2="191.50" y2="562.30" stroke="#161616" stroke-width="1"/>
<text x="184.30" y="565.70" font-size="9.6" text-anchor="end">0.4</text>
<line x1="191.50" y1="592.80" x2="292.50" y2="592.80" stroke="#dddddd" stroke-width="0.6"/>
<path d="M191.5 577.5 L192.5 569.9 L194.5 565.3 L196.6 565.3 L197.6 561.5 L199.6 558.5 L201.6 557.7 L204.6 555.4 L207.7 554.7 L211.7 554.7 L216.8 556.2 L221.8 557 L226.8 558.5 L231.9 560.8 L242 566.9 L252.1 573.7 L262.2 580.6 L272.3 585.2 L277.4 588.2 L282.4 589.8 L287.4 591.3 L292.5 592.8" fill="none" stroke="#6dbf4a" stroke-width="1.0" stroke-linejoin="round"/>
<path d="M192.5 595.8V609.8M194.5 595.8V609.8M197.6 595.8V609.8M199.6 595.8V609.8M201.6 595.8V609.8M203.6 595.8V609.8M205.6 595.8V609.8M207.7 595.8V609.8M210.7 595.8V609.8M212.7 595.8V609.8M213.7 595.8V609.8M215.7 595.8V609.8M217.8 595.8V609.8M219.8 595.8V609.8M221.8 595.8V609.8M224.8 595.8V609.8M226.8 595.8V609.8M228.9 595.8V609.8M231.9 595.8V609.8M233.9 595.8V609.8M236.9 595.8V609.8M242 595.8V609.8M244 595.8V609.8M246 595.8V609.8M251.1 595.8V609.8M253.1 595.8V609.8M255.1 595.8V609.8M258.2 595.8V609.8M261.2 595.8V609.8M263.2 595.8V609.8M265.2 595.8V609.8M268.3 595.8V609.8M270.3 595.8V609.8M273.3 595.8V609.8M275.3 595.8V609.8M277.4 595.8V609.8M279.4 595.8V609.8M282.4 595.8V609.8M284.4 595.8V609.8" stroke="#222" stroke-width="0.8"/>
<defs><linearGradient id="hg191" x1="0" y1="0" x2="1" y2="0"><stop offset="0" stop-color="#d03030"/><stop offset="0.36" stop-color="#d85060"/><stop offset="0.43" stop-color="#e8a0b8"/><stop offset="0.53" stop-color="#f2d4e2"/><stop offset="0.6" stop-color="#e4e4f2"/><stop offset="0.68" stop-color="#a0a0d0"/><stop offset="0.76" stop-color="#5050a8"/><stop offset="1" stop-color="#202080"/></linearGradient></defs>
<rect x="191.50" y="609.80" width="101.00" height="3.00" fill="url(#hg191)"/>
<line x1="191.20" y1="613.20" x2="296.50" y2="613.20" stroke="#111" stroke-width="1.0"/>
<text x="191.00" y="545.60" font-size="9.6">Inflammatory response</text>
<text x="294.50" y="559.80" font-size="9.6" text-anchor="end">NES = 2.0</text>
<text x="294.50" y="573.30" font-size="9.6" text-anchor="end" fill="#c42a36"><tspan font-style="italic">P</tspan> &lt; 0.001</text>
<text x="190.00" y="626.50" font-size="9.6"><tspan font-style="italic">PIM2</tspan><tspan dy="-3.6" font-size="6.2">high</tspan></text>
<text x="297.00" y="626.50" font-size="9.6" text-anchor="end"><tspan font-style="italic">PIM2</tspan><tspan dy="-3.6" font-size="6.2">low</tspan></text>
<text x="244.60" y="638.80" font-size="9.6" text-anchor="middle">Rank in gene list</text>
<text x="29.00" y="582.50" font-size="9.6" text-anchor="middle" transform="rotate(-90 29.00 582.50)">Enrichment score</text>
</svg>
</body></html>
